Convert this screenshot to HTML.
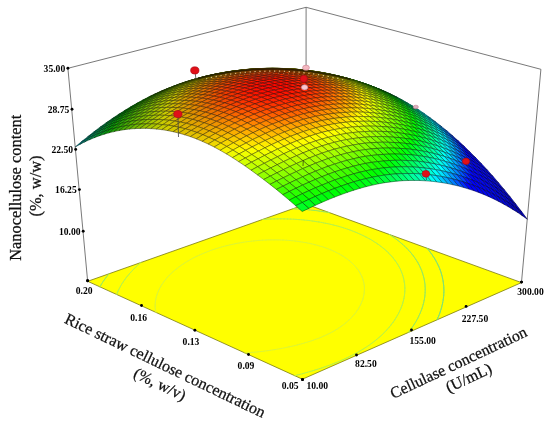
<!DOCTYPE html>
<html><head><meta charset="utf-8"><title>Response surface</title>
<style>html,body{margin:0;padding:0;background:#fff}svg{display:block}</style></head>
<body>
<svg width="550" height="426" viewBox="0 0 550 426">
<rect width="550" height="426" fill="#fff"/>
<g stroke="#6a6a6a" stroke-width="0.9" fill="none">
<polyline points="87.6,280.7 67.9,68.3 306.1,7.3 540.9,69.3 521.5,282.1"/>
<line x1="306.1" y1="7.3" x2="306.0" y2="204.7"/>
</g>
<polygon points="302.4,379.2 521.5,282.6 306,204.1 87.7,281.3" fill="#ffff00" stroke="#7a7a10" stroke-width="0.8"/>
<path d="M437 319.8L437.4 319M437.9 317.7L437.4 319M437.9 317.7L437.9 317.7M438.5 316.5L437.9 317.7M438.8 315.7L438.5 316.5M438.8 315.7L439 315.2M439.5 313.9L439 315.2M439.6 313.7L439.5 313.9M439.6 313.7L440 312.6M440.3 311.7L440 312.6M440.3 311.7L440.4 311.3M440.8 310L440.4 311.3M440.9 309.8L440.8 310M440.9 309.8L441.2 308.7M441.5 307.9L441.2 308.7M441.5 307.9L441.6 307.4M441.9 306.1L441.6 307.4M441.9 306L441.9 306.1M441.9 306L442.2 304.8M442.4 304.2L442.2 304.8M442.4 304.2L442.5 303.5M442.7 302.5L442.5 303.5M442.7 302.5L442.8 302.2M443 300.8L442.8 302.2M443.1 300.7L443 300.8M443.1 300.7L443.2 299.5M443.3 299L443.2 299.5M443.3 299L443.4 298.1M443.5 297.3L443.4 298.1M443.5 297.3L443.6 296.8M443.7 295.6L443.6 296.8M443.7 295.6L443.7 295.4M443.8 294.1L443.7 295.4M443.8 294L443.8 294.1M443.8 294L443.8 292.7M443.9 292.4L443.8 292.7M443.9 292.4L443.9 291.3M443.9 290.8L443.9 291.3M443.9 290.8L443.9 289.9M443.9 289.2L443.9 289.9M443.9 289.2L443.8 288.5M443.8 287.7L443.8 288.5M443.8 287.7L443.8 287.1M443.7 286.2L443.8 287.1M443.7 286.2L443.7 285.7M443.6 284.7L443.7 285.7M443.6 284.7L443.5 284.3M443.4 283.2L443.5 284.3M443.4 283.2L443.4 282.9M443.2 281.8L443.4 282.9M443.2 281.8L443.2 281.5M443 280.3L443.2 281.5M443 280.3L442.9 280M442.7 278.9L442.9 280M442.7 278.9L442.6 278.6M442.4 277.5L442.6 278.6M442.4 277.5L442.3 277.1M442.1 276.1L442.3 277.1M442.1 276.1L441.9 275.6M441.7 274.8L441.9 275.6M441.7 274.8L441.5 274.1M441.3 273.4L441.5 274.1M441.3 273.4L441.1 272.6M440.9 272.1L441.1 272.6M440.9 272.1L440.6 271.1M440.5 270.8L440.6 271.1M440.5 270.8L440 269.6M440 269.5L440 269.6M440 269.5L439.5 268.2M439.5 268.2L439.4 268.1M439 267L439.4 268.1M439 267L438.8 266.5M438.4 265.7L438.8 266.5M438.4 265.7L438 265M437.8 264.5L438 265M437.8 264.5L437.3 263.4M437.2 263.3L437.3 263.4M437.2 263.3L436.6 262.1M436.6 262.1L436.4 261.8M436 260.9L436.4 261.8M436 260.9L435.5 260.2M435.3 259.7L435.5 260.2M435.3 259.7L434.6 258.6M434.6 258.6L434.6 258.5M433.9 257.4L434.6 258.5M433.9 257.4L433.5 256.9M433.1 256.3L433.5 256.9M433.1 256.3L432.4 255.2M432.4 255.2L432.4 255.2M432.4 255.2L431.6 254M431.6 254L431.2 253.5M430.8 253L431.2 253.5M430.8 253L430 251.9M430 251.9L429.9 251.7M429.2 250.8L429.9 251.7M429.2 250.8L428.5 249.9M428.3 249.7L428.5 249.9M428.3 249.7L427.4 248.7M427.4 248.7L426.9 248.1" stroke="#7ce078" stroke-width="0.9" fill="none" stroke-linecap="round"/>
<path d="M408.3 332.5L408.8 331.9M409.7 330.7L408.8 331.9M410.3 329.9L409.7 330.7M410.3 329.9L410.6 329.5M411.5 328.3L410.6 329.5M412.2 327.4L411.5 328.3M412.2 327.4L412.3 327.1M413.2 325.9L412.3 327.1M413.8 325L413.2 325.9M413.8 325L414 324.7M414.7 323.5L414 324.7M415.3 322.7L414.7 323.5M415.3 322.7L415.5 322.3M416.2 321.1L415.5 322.3M416.6 320.4L416.2 321.1M416.6 320.4L416.9 319.8M417.6 318.6L416.9 319.8M417.8 318.2L417.6 318.6M417.8 318.2L418.2 317.3M418.8 316.1L418.2 317.3M418.8 316.1L418.8 316.1M419.4 314.8L418.8 316.1M419.8 314L419.4 314.8M419.8 314L420 313.6M420.5 312.3L420 313.6M420.6 312L420.5 312.3M420.6 312L421 311M421.4 310.1L421 311M421.4 310.1L421.5 309.8M422 308.5L421.5 309.8M422.1 308.1L422 308.5M422.1 308.1L422.4 307.2M422.7 306.3L422.4 307.2M422.7 306.3L422.8 305.9M423.2 304.6L422.8 305.9M423.2 304.4L423.2 304.6M423.2 304.4L423.5 303.3M423.7 302.6L423.5 303.3M423.7 302.6L423.8 301.9M424.1 300.8L423.8 301.9M424.1 300.8L424.1 300.6M424.4 299.3L424.1 300.6M424.4 299.1L424.4 299.3M424.4 299.1L424.6 297.9M424.7 297.4L424.6 297.9M424.7 297.4L424.8 296.6M424.9 295.7L424.8 296.6M424.9 295.7L424.9 295.2M425 294.1L424.9 295.2M425 294.1L425.1 293.9M425.1 292.5L425.1 293.9M425.1 292.5L425.1 292.5M425.1 292.5L425.2 291.1M425.2 290.9L425.2 291.1M425.2 290.9L425.2 289.7M425.2 289.3L425.2 289.7M425.2 289.3L425.2 288.3M425.2 287.8L425.2 288.3M425.2 287.8L425.1 286.9M425.1 286.3L425.1 286.9M425.1 286.3L425 285.5M425 284.8L425 285.5M425 284.8L424.9 284.1M424.8 283.3L424.9 284.1M424.8 283.3L424.7 282.6M424.6 281.9L424.7 282.6M424.6 281.9L424.5 281.2M424.4 280.5L424.5 281.2M424.4 280.5L424.3 279.7M424.1 279.1L424.3 279.7M424.1 279.1L424 278.2M423.8 277.7L424 278.2M423.8 277.7L423.6 276.8M423.5 276.3L423.6 276.8M423.5 276.3L423.2 275.3M423.1 275L423.2 275.3M423.1 275L422.7 273.7M422.7 273.7L422.7 273.7M422.7 273.7L422.3 272.4M422.3 272.4L422.2 272.2M421.8 271.1L422.2 272.2M421.8 271.1L421.7 270.7M421.3 269.8L421.7 270.7M421.3 269.8L421 269.1M420.8 268.6L421 269.1M420.8 268.6L420.3 267.5M420.2 267.3L420.3 267.5M420.2 267.3L419.7 266.1M419.7 266.1L419.6 265.9M419.1 264.9L419.6 265.9M419.1 264.9L418.7 264.3M418.4 263.7L418.7 264.3M418.4 263.7L417.8 262.6M417.8 262.5L417.8 262.6M417.8 262.5L417.1 261.4M417.1 261.4L416.8 261M416.4 260.2L416.8 261M416.4 260.2L415.7 259.3M415.6 259.1L415.7 259.3M415.6 259.1L414.9 258M414.9 258L414.6 257.5M414.1 256.9L414.6 257.5M414.1 256.9L413.3 255.8M413.3 255.8L413.3 255.8M413.3 255.8L412.4 254.7M412.4 254.7L411.9 254M411.6 253.6L411.9 254M411.6 253.6L410.7 252.6M410.7 252.6L410.3 252.1M409.8 251.5L410.3 252.1M409.8 251.5L408.9 250.5M408.9 250.5L408.6 250.2M407.9 249.5L408.6 250.2M407.9 249.5L407 248.5M407 248.5L406.7 248.3M406 247.5L406.7 248.3M406 247.5L405 246.5M405 246.5L404.7 246.3M403.9 245.6L404.7 246.3M403.9 245.6L402.9 244.6M402.9 244.6L402.3 244.1M401.8 243.7L402.3 244.1M401.8 243.7L400.7 242.8M400.7 242.8L399.7 241.9M399.6 241.8L399.7 241.9M399.6 241.8L398.5 240.9M398.5 240.9L397.3 240M397.3 240L396.7 239.6M396.2 239.2L396.7 239.6M396.2 239.2L395 238.3M395 238.3L393.7 237.4M393.7 237.4L393.3 237.1M392.5 236.6L393.3 237.1M392.5 236.6L391.2 235.7M391.2 235.7L390 234.9M390 234.9L389.1 234.3M329.7 212.7L328.6 212.5M328.6 212.5L326.4 212.1M326.4 212.1L324.1 211.8M323.6 211.7L321.8 211.4M324.1 211.8L323.6 211.7M321.8 211.4L319.4 211.1M318.2 210.9L317 210.7M319.4 211.1L318.2 210.9M317 210.7L314.6 210.4M100.5 285.8L99.9 286.9M313.2 210.3L312 210.2M314.6 210.4L313.2 210.3M100.5 285.8L100.7 285.6M101.4 284.3L100.7 285.6M101.5 284.1L101.4 284.3M312 210.2L309.5 209.9M101.5 284.1L102.2 283M102.6 282.4L102.2 283M308.7 209.8L306.9 209.6M309.5 209.9L308.7 209.8M102.6 282.4L103 281.7M103.7 280.7L103 281.7M304.4 209.4L304.2 209.4M306.9 209.6L304.4 209.4M103.7 280.7L103.9 280.5M104.7 279.3L103.9 280.5M104.9 279L104.7 279.3M304.2 209.4L301.4 209.2M104.9 279L105.6 278.1M106.2 277.3L105.6 278.1M300.4 209.2L298.6 209M301.4 209.2L300.4 209.2M106.2 277.3L106.5 276.9M107.4 275.7L106.5 276.9M107.6 275.5L107.4 275.7M296.6 208.9L295.7 208.9M298.6 209L296.6 208.9M107.6 275.5L108.4 274.5M109 273.7L108.4 274.5M292.9 208.8L292.8 208.8M295.7 208.9L292.9 208.8" stroke="#96e860" stroke-width="0.9" fill="none" stroke-linecap="round"/>
<path d="M336.8 362.3L335.2 363M338.8 361.5L336.8 362.3M340.8 360.6L338.8 361.5M342.8 359.8L340.8 360.6M344.7 358.9L342.8 359.8M346.6 358L344.7 358.9M348.4 357.2L346.6 358M317 369.5L314.8 370.1M319.3 368.7L317 369.5M321.6 368L319.3 368.7M323.9 367.2L321.6 368M326.1 366.4L323.9 367.2M328.3 365.6L326.1 366.4M330.5 364.8L328.3 365.6M332.6 364L330.5 364.8M334.7 363.2L332.6 364M335.2 363L334.7 363.2M348.4 357.2L348.5 357.1M350.3 356.2L348.5 357.1M352.1 355.3L350.3 356.2M353.9 354.4L352.1 355.3M355.7 353.4L353.9 354.4M357.4 352.5L355.7 353.4M359.1 351.5L357.4 352.5M360.7 350.6L359.1 351.5M362.3 349.6L360.7 350.6M363.9 348.6L362.3 349.6M364.1 348.5L363.9 348.6M304.9 373L303.1 373.5M307.4 372.3L304.9 373M309.9 371.6L307.4 372.3M312.3 370.9L309.9 371.6M314.7 370.2L312.3 370.9M314.8 370.1L314.7 370.2M364.1 348.5L365.5 347.6M367 346.6L365.5 347.6M368.5 345.6L367 346.6M370 344.6L368.5 345.6M371.3 343.6L370 344.6M297.3 375L294.7 375.7M299.9 374.4L297.3 375M302.4 373.7L299.9 374.4M303.1 373.5L302.4 373.7M371.3 343.6L371.4 343.5M372.8 342.5L371.4 343.5M374.2 341.4L372.8 342.5M375.5 340.4L374.2 341.4M376.5 339.6L375.5 340.4M376.5 339.6L376.8 339.3M378.1 338.2L376.8 339.3M379.4 337.2L378.1 338.2M380.5 336.2L379.4 337.2M380.5 336.2L380.6 336.1M381.8 335L380.6 336.1M383 333.9L381.8 335M383.8 333L383 333.9M383.8 333L384.1 332.7M385.2 331.6L384.1 332.7M386.3 330.5L385.2 331.6M386.6 330.1L386.3 330.5M386.6 330.1L387.3 329.3M388.3 328.2L387.3 329.3M389.1 327.4L388.3 328.2M389.1 327.4L389.3 327M390.3 325.9L389.3 327M391.2 324.8L390.3 325.9M391.2 324.8L391.2 324.7M392.1 323.5L391.2 324.7M393 322.4L392.1 323.5M393 322.3L393 322.4M393 322.3L393.8 321.2M394.7 320L393.8 321.2M394.7 320L394.7 320M394.7 320L395.4 318.8M396.1 317.7L395.4 318.8M396.1 317.7L396.2 317.6M396.9 316.3L396.2 317.6M397.4 315.5L396.9 316.3M397.4 315.5L397.6 315.1M398.3 313.9L397.6 315.1M398.6 313.4L398.3 313.9M398.6 313.4L398.9 312.6M399.6 311.4L398.9 312.6M399.6 311.3L399.6 311.4M399.6 311.3L400.1 310.1M400.5 309.3L400.1 310.1M400.5 309.3L400.7 308.9M401.2 307.6L400.7 308.9M401.3 307.4L401.2 307.6M401.3 307.4L401.7 306.3M402 305.5L401.7 306.3M402 305.5L402.1 305M402.6 303.7L402.1 305M402.6 303.6L402.6 303.7M402.6 303.6L402.9 302.4M403.1 301.8L402.9 302.4M403.1 301.8L403.3 301.1M403.6 300.1L403.3 301.1M403.6 300.1L403.6 299.8M403.9 298.4L403.6 299.8M403.9 298.3L403.9 298.4M403.9 298.3L404.2 297.1M404.2 296.6L404.2 297.1M404.2 296.6L404.4 295.8M404.5 295L404.4 295.8M404.5 295L404.5 294.4M404.7 293.3L404.5 294.4M404.7 293.3L404.7 293M404.8 291.7L404.7 293M404.8 291.7L404.8 291.7M404.8 290.3L404.8 291.7M404.8 290.2L404.8 290.3M404.8 290.2L404.9 288.9M404.9 288.6L404.9 288.9M404.9 288.6L404.8 287.4M404.8 287.1L404.8 287.4M404.8 287.1L404.8 286M404.7 285.6L404.8 286M404.7 285.6L404.6 284.6M404.6 284.2L404.6 284.6M404.6 284.2L404.5 283.1M404.4 282.7L404.5 283.1M404.4 282.7L404.2 281.7M404.2 281.3L404.2 281.7M404.2 281.3L404 280.2M403.9 279.9L404 280.2M403.9 279.9L403.7 278.7M403.6 278.6L403.7 278.7M403.6 278.6L403.3 277.2M403.3 277.2L403.3 277.2M402.9 275.9L403.3 277.2M402.9 275.9L402.8 275.6M402.5 274.6L402.8 275.6M402.5 274.6L402.3 274.1M402 273.3L402.3 274.1M402 273.3L401.7 272.5M401.5 272L401.7 272.5M401.5 272L401.1 270.9M401 270.8L401.1 270.9M401 270.8L400.5 269.5M400.5 269.5L400.3 269.3M399.9 268.3L400.3 269.3M399.9 268.3L399.5 267.6M399.3 267.1L399.5 267.6M399.3 267.1L398.6 266M398.6 266L398.6 266M398.6 266L397.9 264.8M397.9 264.8L397.6 264.3M397.2 263.6L397.6 264.3M397.2 263.6L396.5 262.5M396.5 262.5L396.5 262.5M396.5 262.5L395.7 261.4M395.7 261.4L395.2 260.7M394.9 260.3L395.2 260.7M394.9 260.3L394.1 259.2M394.1 259.2L393.8 258.9M393.2 258.1L393.8 258.9M393.2 258.1L392.4 257.1M392.4 257.1L392.3 257M391.5 256.1L392.3 257M391.5 256.1L390.6 255.1M390.5 255L390.6 255.1M390.5 255L389.6 254M389.6 254L388.6 253M388.6 253L388.6 253M388.6 253L387.6 252M387.6 252L386.5 251.1M386.5 251.1L386.4 250.9M385.5 250.1L386.4 250.9M385.5 250.1L384.4 249.2M384.4 249.2L383.8 248.7M383.3 248.2L383.8 248.7M383.3 248.2L382.1 247.3M382.1 247.3L381 246.4M381 246.4L380.8 246.3M379.8 245.5L380.8 246.3M379.8 245.5L378.6 244.6M378.6 244.6L377.4 243.8M377.4 243.8L377.2 243.7M376.1 242.9L377.2 243.7M376.1 242.9L374.8 242.1M374.8 242.1L373.5 241.3M373.5 241.3L372.7 240.7M372.2 240.4L372.7 240.7M372.2 240.4L370.8 239.6M370.8 239.6L369.4 238.8M369.4 238.8L368 238.1M368 238.1L366.6 237.3M366.6 237.3L366.1 237.1M365.1 236.6L366.1 237.1M365.1 236.6L363.7 235.8M363.7 235.8L362.1 235.1M362.1 235.1L360.6 234.4M360.6 234.4L359 233.7M359 233.7L357.5 233M357.5 233L355.8 232.3M355.8 232.3L354.2 231.6M354.2 231.6L352.5 231M352.5 231L350.8 230.3M350.8 230.3L349.1 229.7M349.1 229.7L347.3 229.1M347.3 229.1L345.6 228.5M345.6 228.5L343.7 227.9M343.7 227.9L341.9 227.3M341.9 227.3L340 226.8M340 226.8L338.1 226.2M338.1 226.2L336.1 225.7M336.1 225.7L334.1 225.2M333.8 225.1L332.1 224.7M334.1 225.2L333.8 225.1M332.1 224.7L330.1 224.2M330.1 224.2L328 223.7M328 223.7L325.8 223.3M325.2 223.2L323.6 222.9M325.8 223.3L325.2 223.2M323.6 222.9L321.4 222.4M321.4 222.4L319.2 222M318.6 221.9L316.8 221.7M319.2 222L318.6 221.9M117.2 293.1L116.6 294.5M117.2 293L117.2 293.1M316.8 221.7L314.5 221.3M117.2 293L117.8 291.7M117.9 291.4L117.8 291.7M313 221.1L312.1 221M314.5 221.3L313 221.1M117.9 291.4L118.4 290.3M118.6 289.8L118.4 290.3M312.1 221L309.6 220.6M118.6 289.8L119.1 289M119.5 288.2L119.1 289M307.9 220.4L307.1 220.3M309.6 220.6L307.9 220.4M119.5 288.2L119.8 287.7M120.4 286.5L119.8 287.7M307.1 220.3L304.5 220.1M120.4 286.5L120.5 286.4M121.2 285.1L120.5 286.4M121.3 284.9L121.2 285.1M303.3 219.9L301.8 219.8M304.5 220.1L303.3 219.9M121.3 284.9L122 283.8M122.4 283.2L122 283.8M301.8 219.8L299.1 219.6M122.4 283.2L122.8 282.6M123.5 281.5L122.8 282.6M299 219.6L296.3 219.4M299.1 219.6L299 219.6M123.5 281.5L123.6 281.3M124.5 280.1L123.6 281.3M124.7 279.7L124.5 280.1M295 219.3L293.4 219.2M296.3 219.4L295 219.3M124.7 279.7L125.3 278.9M126.1 277.9L125.3 278.9M291.1 219.1L290.5 219.1M293.4 219.2L291.1 219.1M126.1 277.9L126.2 277.7M127.2 276.5L126.2 277.7M127.5 276.1L127.2 276.5M287.5 219L287.4 219M290.5 219.1L287.5 219M127.5 276.1L128.1 275.4M129 274.3L128.1 275.4M287.4 219L284.3 218.9M129 274.3L129.1 274.2M130 273.1L129.1 274.2M130.6 272.5L130 273.1M284 218.9L281 218.8M284.3 218.9L284 218.9M130.6 272.5L131 272M132.1 270.9L131 272M132.4 270.5L132.1 270.9M280.6 218.8L277.7 218.9M281 218.8L280.6 218.8M132.4 270.5L133.1 269.8M134.2 268.7L133.1 269.8M134.3 268.6L134.2 268.7M274.2 218.9L274.1 218.9M277.3 218.9L274.2 218.9M277.7 218.9L277.3 218.9M134.3 268.6L135.2 267.6M136.3 266.6L135.2 267.6M271.1 219L270.5 219M274.1 218.9L271.1 219M136.3 266.6L136.3 266.6M137.5 265.5L136.3 266.6M138.5 264.5L137.5 265.5M268.1 219.1L266.6 219.2M270.5 219L268.1 219.1M138.5 264.5L138.6 264.5M139.8 263.5L138.6 264.5M140.9 262.5L139.8 263.5M141 262.4L140.9 262.5M265.2 219.3L262.6 219.4M266.6 219.2L265.2 219.3" stroke="#b4f04c" stroke-width="0.9" fill="none" stroke-linecap="round"/>
<path d="M311.2 340.9L309.8 341.4M313.3 340.2L311.2 340.9M315.4 339.4L313.3 340.2M317.5 338.7L315.4 339.4M319.5 337.9L317.5 338.7M321.5 337.1L319.5 337.9M323.4 336.2L321.5 337.1M325.3 335.4L323.4 336.2M327.1 334.5L325.3 335.4M328.9 333.7L327.1 334.5M330.7 332.8L328.9 333.7M332.4 331.9L330.7 332.8M332.9 331.6L332.4 331.9M299.6 344.3L297.6 344.9M302 343.7L299.6 344.3M304.4 343L302 343.7M306.7 342.3L304.4 343M309 341.6L306.7 342.3M309.8 341.4L309 341.6M332.9 331.6L334 331M335.6 330L334 331M337.2 329.1L335.6 330M338.7 328.1L337.2 329.1M340.1 327.1L338.7 328.1M341 326.5L340.1 327.1M289.6 346.8L288.7 346.9M292.2 346.2L289.6 346.8M294.7 345.6L292.2 346.2M297.2 345L294.7 345.6M297.6 344.9L297.2 345M341 326.5L341.6 326.1M342.9 325.1L341.6 326.1M344.3 324.1L342.9 325.1M345.6 323L344.3 324.1M345.8 322.9L345.6 323M281.6 348.4L281.2 348.5M284.3 347.9L281.6 348.4M287 347.3L284.3 347.9M288.7 346.9L287 347.3M345.8 322.9L346.8 322M348 320.9L346.8 322M349.2 319.8L348 320.9M349.3 319.8L349.2 319.8M276 349.4L274.4 349.7M278.9 348.9L276 349.4M281.2 348.5L278.9 348.9M349.3 319.8L350.3 318.8M351.4 317.6L350.3 318.8M352 317L351.4 317.6M270.3 350.3L268.2 350.6M273.2 349.8L270.3 350.3M274.4 349.7L273.2 349.8M352 317L352.4 316.5M353.4 315.4L352.4 316.5M354.2 314.5L353.4 315.4M264.3 351.1L262.4 351.4M267.3 350.7L264.3 351.1M268.2 350.6L267.3 350.7M354.2 314.5L354.4 314.3M355.3 313.1L354.4 314.3M356.1 312.1L355.3 313.1M258.1 351.8L257 352M261.2 351.5L258.1 351.8M262.4 351.4L261.2 351.5M356.1 312.1L356.2 311.9M357 310.7L356.2 311.9M357.6 309.9L357 310.7M254.9 352.2L251.9 352.4M257 352L254.9 352.2M357.6 309.9L357.8 309.6M358.6 308.4L357.8 309.6M358.9 307.8L358.6 308.4M248.2 352.7L247.2 352.7M251.6 352.4L248.2 352.7M251.9 352.4L251.6 352.4M358.9 307.8L359.3 307.1M360 305.9L359.3 307.1M360.1 305.7L360 305.9M247.2 352.7L244.7 352.9M360.1 305.7L360.6 304.7M361 303.8L360.6 304.7M361 303.8L361.2 303.4M361.7 302.1L361.2 303.4M361.8 301.9L361.7 302.1M361.8 301.9L362.2 300.9M362.5 300.1L362.2 300.9M362.5 300.1L362.7 299.6M363.1 298.3L362.7 299.6M363.1 298.3L363.1 298.2M363.4 296.9L363.1 298.2M363.5 296.6L363.4 296.9M363.5 296.6L363.7 295.6M363.9 294.9L363.7 295.6M363.9 294.9L364 294.2M364.1 293.3L364 294.2M364.1 293.3L364.2 292.8M364.3 291.7L364.2 292.8M364.3 291.7L364.3 291.5M364.4 290.2L364.3 291.5M364.4 290.2L364.4 290M364.4 288.6L364.4 290M364.4 288.6L364.4 288.6M364.4 287.2L364.4 288.6M364.4 287.2L364.4 287.2M364.4 287.2L364.3 285.7M364.3 285.7L364.3 285.7M364.1 284.3L364.3 285.7M364.1 284.3L364.1 284.2M363.8 282.9L364.1 284.2M363.8 282.9L363.8 282.7M363.5 281.6L363.8 282.7M363.5 281.6L363.4 281.1M363.2 280.3L363.4 281.1M363.2 280.3L363 279.5M362.8 279L363 279.5M362.8 279L362.4 277.9M362.3 277.7L362.4 277.9M362.3 277.7L361.8 276.4M361.8 276.4L361.7 276.3M361.2 275.2L361.7 276.3M361.2 275.2L360.9 274.6M360.6 274L360.9 274.6M360.6 274L360 272.8M360 272.8L360 272.8M359.3 271.7L360 272.8M359.3 271.7L358.9 271M358.6 270.5L358.9 271M358.6 270.5L357.8 269.4M357.8 269.4L357.5 269.1M356.9 268.3L357.5 269.1M356.9 268.3L356.1 267.3M356.1 267.3L356 267.2M355.2 266.2L356 267.2M355.2 266.2L354.2 265.2M354.2 265.2L354.1 265.1M353.2 264.2L354.1 265.1M353.2 264.2L352.2 263.2M352.2 263.2L351.8 262.8M351.1 262.2L351.8 262.8M351.1 262.2L350 261.2M350 261.2L349 260.4M348.9 260.3L349 260.4M348.9 260.3L347.7 259.4M347.7 259.4L346.5 258.5M346.5 258.5L345.2 257.6M345.2 257.6L345.2 257.6M345.2 257.6L343.9 256.7M343.9 256.7L342.6 255.9M342.6 255.9L341.2 255.1M341.2 255.1L339.8 254.2M339.8 254.2L339.5 254.1M338.3 253.5L339.5 254.1M338.3 253.5L336.8 252.7M336.8 252.7L335.3 251.9M335.3 251.9L333.7 251.2M333.7 251.2L332.1 250.5M332.1 250.5L330.5 249.8M330.5 249.8L328.8 249.1M328.8 249.1L327 248.4M155.8 312L155.9 312.4M327 248.4L325.3 247.8M155.8 312L155.6 310.7M325.3 247.8L323.4 247.1M155.6 310.7L155.5 310.5M155.4 309.3L155.5 310.5M323.4 247.1L321.6 246.5M155.4 309.3L155.3 308.7M155.3 308L155.3 308.7M321.6 246.5L319.6 246M155.3 308L155.2 307M155.2 306.6L155.2 307M319.6 246L317.7 245.4M155.2 306.6L155.2 305.3M155.2 305.2L155.2 305.3M317.7 245.4L315.6 244.8M155.2 305.2L155.2 303.7M314.9 244.7L313.6 244.3M315.6 244.8L314.9 244.7M155.2 303.7L155.2 303.7M155.4 302.3L155.2 303.7M313.6 244.3L311.4 243.8M155.4 302.3L155.4 302.1M155.5 300.8L155.4 302.1M311.4 243.8L309.3 243.3M155.5 300.8L155.6 300.5M155.8 299.3L155.6 300.5M309.3 243.3L307 242.9M155.8 299.3L155.9 299M156.1 297.8L155.9 299M306.8 242.8L304.7 242.5M307 242.9L306.8 242.8M156.1 297.8L156.2 297.5M156.5 296.3L156.2 297.5M304.7 242.5L302.3 242.1M156.5 296.3L156.6 296M157 294.7L156.6 296M300.6 241.8L299.9 241.7M302.3 242.1L300.6 241.8M157 294.7L157 294.6M157.5 293.2L157 294.6M157.5 293.2L157.5 293.2M299.9 241.7L297.4 241.3M157.5 293.2L158.1 291.8M158.2 291.5L158.1 291.8M295.4 241.1L294.8 241M297.4 241.3L295.4 241.1M158.2 291.5L158.6 290.5M158.9 289.9L158.6 290.5M294.8 241L292.1 240.7M158.9 289.9L159.3 289.1M159.7 288.3L159.3 289.1M290.8 240.6L289.3 240.5M292.1 240.7L290.8 240.6M159.7 288.3L160 287.8M160.7 286.6L160 287.8M160.7 286.6L160.7 286.6M286.5 240.3L286.4 240.3M289.3 240.5L286.5 240.3M160.7 286.6L161.4 285.3M161.7 284.8L161.4 285.3M286.4 240.3L283.5 240.1M161.7 284.8L162.2 284.1M162.9 283.1L162.2 284.1M282.5 240.1L280.4 240M283.5 240.1L282.5 240.1M162.9 283.1L163 282.9M163.9 281.7L163 282.9M164.2 281.2L163.9 281.7M278.8 239.9L277.1 239.9M280.4 240L278.8 239.9M164.2 281.2L164.8 280.5M165.7 279.4L164.8 280.5M275.3 239.9L273.7 239.9M277.1 239.9L275.3 239.9M165.7 279.4L165.7 279.3M166.7 278.2L165.7 279.3M167.3 277.4L166.7 278.2M271.9 239.9L270.2 239.9M273.7 239.9L271.9 239.9M167.3 277.4L167.7 277.1M168.7 276L167.7 277.1M169.2 275.4L168.7 276M268.7 239.9L266.4 240M270.2 239.9L268.7 239.9M169.2 275.4L169.7 274.9M170.8 273.8L169.7 274.9M171.3 273.4L170.8 273.8M262.6 240.2L262.4 240.2M265.6 240.1L262.6 240.2M266.4 240L265.6 240.1M171.3 273.4L171.9 272.8M173 271.7L171.9 272.8M173.7 271.2L173 271.7M259.7 240.4L258.2 240.5M262.4 240.2L259.7 240.4M173.7 271.2L174.2 270.7M175.4 269.7L174.2 270.7M176.4 268.9L175.4 269.7M254.1 240.9L253.5 240.9M256.8 240.6L254.1 240.9M258.2 240.5L256.8 240.6M176.4 268.9L176.6 268.7M177.9 267.8L176.6 268.7M179.1 266.8L177.9 267.8M179.7 266.4L179.1 266.8M248.8 241.5L248.4 241.5M251.4 241.2L248.8 241.5M253.5 240.9L251.4 241.2M179.7 266.4L180.4 265.9M181.8 264.9L180.4 265.9M183.1 264L181.8 264.9M183.6 263.7L183.1 264M243.8 242.2L242.6 242.4M246.3 241.8L243.8 242.2M248.4 241.5L246.3 241.8M183.6 263.7L184.5 263.1M185.9 262.2L184.5 263.1M187.3 261.4L185.9 262.2M188.6 260.6L187.3 261.4M236.7 243.4L235.7 243.6M239 243L236.7 243.4M241.4 242.6L239 243M242.6 242.4L241.4 242.6M188.6 260.6L188.8 260.5M190.3 259.7L188.8 260.5M191.8 258.9L190.3 259.7M193.3 258L191.8 258.9M194.9 257.2L193.3 258M195.9 256.7L194.9 257.2M227.9 245.4L226.5 245.7M230 244.9L227.9 245.4M232.2 244.4L230 244.9M234.4 243.9L232.2 244.4M235.7 243.6L234.4 243.9M195.9 256.7L196.4 256.5M198.1 255.7L196.4 256.5M199.7 254.9L198.1 255.7M201.4 254.2L199.7 254.9M203.1 253.5L201.4 254.2M204.8 252.8L203.1 253.5M206.5 252.1L204.8 252.8M208.3 251.4L206.5 252.1M210.1 250.7L208.3 251.4M212 250L210.1 250.7M213.8 249.4L212 250M215.7 248.8L213.8 249.4M217.7 248.2L215.7 248.8M219.6 247.6L217.7 248.2M221.6 247L219.6 247.6M223.7 246.4L221.6 247M225.7 245.9L223.7 246.4M226.5 245.7L225.7 245.9" stroke="#dcf436" stroke-width="0.9" fill="none" stroke-linecap="round"/>
<g stroke-width="0.55" stroke-linejoin="round">
<polygon points="305.9,75.2 311.1,76.5 306,76.7 300.8,75.5" fill="#00ff7a" stroke="#004c25"/>
<polygon points="311.1,75.1 316.3,76.4 311.1,76.5 305.9,75.2" fill="#00ff6a" stroke="#004c20"/>
<polygon points="300.7,74.1 305.9,75.2 300.8,75.5 295.6,74.4" fill="#00ff5c" stroke="#004c1c"/>
<polygon points="316.3,75.1 321.5,76.5 316.3,76.4 311.1,75.1" fill="#00ff5c" stroke="#004c1c"/>
<polygon points="305.9,73.9 311.1,75.1 305.9,75.2 300.7,74.1" fill="#00ff49" stroke="#004c16"/>
<polygon points="295.5,73.1 300.7,74.1 295.6,74.4 290.3,73.5" fill="#00fd40" stroke="#004c13"/>
<polygon points="321.5,75.3 326.7,76.8 321.5,76.5 316.3,75.1" fill="#00ff51" stroke="#004c18"/>
<polygon points="311.1,73.9 316.3,75.1 311.1,75.1 305.9,73.9" fill="#00ff39" stroke="#004c11"/>
<polygon points="300.6,72.9 305.9,73.9 300.7,74.1 295.5,73.1" fill="#00ff2a" stroke="#004c0d"/>
<polygon points="290.1,72.3 295.5,73.1 290.3,73.5 285,72.7" fill="#00fb24" stroke="#004b0b"/>
<polygon points="326.8,75.7 331.9,77.2 326.7,76.8 321.5,75.3" fill="#00ff47" stroke="#004c15"/>
<polygon points="316.3,74.1 321.5,75.3 316.3,75.1 311.1,73.9" fill="#00ff2b" stroke="#004c0d"/>
<polygon points="305.8,72.8 311.1,73.9 305.9,73.9 300.6,72.9" fill="#00ff17" stroke="#004c07"/>
<polygon points="295.3,72 300.6,72.9 295.5,73.1 290.1,72.3" fill="#00ff0d" stroke="#004c04"/>
<polygon points="284.8,71.6 290.1,72.3 285,72.7 279.7,72.1" fill="#00f90c" stroke="#004b04"/>
<polygon points="332,76.3 337.2,77.9 331.9,77.2 326.8,75.7" fill="#00ff40" stroke="#004c13"/>
<polygon points="321.5,74.4 326.8,75.7 321.5,75.3 316.3,74.1" fill="#00ff1f" stroke="#004c09"/>
<polygon points="311,72.9 316.3,74.1 311.1,73.9 305.8,72.8" fill="#00ff07" stroke="#004c02"/>
<polygon points="300.5,71.8 305.8,72.8 300.6,72.9 295.3,72" fill="#07ff00" stroke="#024c00"/>
<polygon points="290,71.2 295.3,72 290.1,72.3 284.8,71.6" fill="#0cfd00" stroke="#044c00"/>
<polygon points="279.4,71 284.8,71.6 279.7,72.1 274.3,71.6" fill="#09f600" stroke="#034a00"/>
<polygon points="337.3,77.1 342.5,78.7 337.2,77.9 332,76.3" fill="#00ff3b" stroke="#004c12"/>
<polygon points="326.8,74.9 332,76.3 326.8,75.7 321.5,74.4" fill="#00ff15" stroke="#004c06"/>
<polygon points="316.3,73.2 321.5,74.4 316.3,74.1 311,72.9" fill="#06ff00" stroke="#024c00"/>
<polygon points="305.7,71.9 311,72.9 305.8,72.8 300.5,71.8" fill="#17ff00" stroke="#074c00"/>
<polygon points="295.1,71 300.5,71.8 295.3,72 290,71.2" fill="#1fff00" stroke="#094c00"/>
<polygon points="274,70.6 279.4,71 274.3,71.6 268.9,71.2" fill="#1af400" stroke="#084900"/>
<polygon points="284.6,70.6 290,71.2 284.8,71.6 279.4,71" fill="#20fa00" stroke="#0a4b00"/>
<polygon points="342.7,78 347.8,79.7 342.5,78.7 337.3,77.1" fill="#00ff39" stroke="#004c11"/>
<polygon points="332.1,75.6 337.3,77.1 332,76.3 326.8,74.9" fill="#00ff0e" stroke="#004c04"/>
<polygon points="321.6,73.6 326.8,74.9 321.5,74.4 316.3,73.2" fill="#10ff00" stroke="#054c00"/>
<polygon points="311,72.1 316.3,73.2 311,72.9 305.7,71.9" fill="#25ff00" stroke="#0b4c00"/>
<polygon points="300.4,71 305.7,71.9 300.5,71.8 295.1,71" fill="#31ff00" stroke="#0f4c00"/>
<polygon points="268.6,70.3 274,70.6 268.9,71.2 263.5,71" fill="#2af100" stroke="#0d4800"/>
<polygon points="289.8,70.3 295.1,71 290,71.2 284.6,70.6" fill="#36fe00" stroke="#104c00"/>
<polygon points="279.2,70.1 284.6,70.6 279.4,71 274,70.6" fill="#34f800" stroke="#104a00"/>
<polygon points="348.1,79.1 353.2,80.9 347.8,79.7 342.7,78" fill="#00ff38" stroke="#004c11"/>
<polygon points="337.5,76.5 342.7,78 337.3,77.1 332.1,75.6" fill="#00ff09" stroke="#004c03"/>
<polygon points="326.9,74.3 332.1,75.6 326.8,74.9 321.6,73.6" fill="#18ff00" stroke="#074c00"/>
<polygon points="316.3,72.5 321.6,73.6 316.3,73.2 311,72.1" fill="#30ff00" stroke="#0e4c00"/>
<polygon points="353.5,80.4 358.6,82.2 353.2,80.9 348.1,79.1" fill="#00ff3a" stroke="#004c11"/>
<polygon points="305.6,71.2 311,72.1 305.7,71.9 300.4,71" fill="#41ff00" stroke="#144c00"/>
<polygon points="263.1,70.1 268.6,70.3 263.5,71 258,70.9" fill="#37ef00" stroke="#104800"/>
<polygon points="295,70.3 300.4,71 295.1,71 289.8,70.3" fill="#4aff00" stroke="#164c00"/>
<polygon points="273.7,69.7 279.2,70.1 274,70.6 268.6,70.3" fill="#44f500" stroke="#144a00"/>
<polygon points="284.4,69.8 289.8,70.3 284.6,70.6 279.2,70.1" fill="#4bfc00" stroke="#164c00"/>
<polygon points="342.9,77.5 348.1,79.1 342.7,78 337.5,76.5" fill="#00ff07" stroke="#004c02"/>
<polygon points="332.2,75.1 337.5,76.5 332.1,75.6 326.9,74.3" fill="#1eff00" stroke="#094c00"/>
<polygon points="321.6,73.1 326.9,74.3 321.6,73.6 316.3,72.5" fill="#3aff00" stroke="#114c00"/>
<polygon points="358.9,81.9 364,83.8 358.6,82.2 353.5,80.4" fill="#00ff3e" stroke="#004c13"/>
<polygon points="310.9,71.5 316.3,72.5 311,72.1 305.6,71.2" fill="#4eff00" stroke="#174c00"/>
<polygon points="257.6,70.1 263.1,70.1 258,70.9 252.5,70.9" fill="#43ec00" stroke="#144700"/>
<polygon points="300.3,70.4 305.6,71.2 300.4,71 295,70.3" fill="#5bff00" stroke="#1b4c00"/>
<polygon points="268.2,69.5 273.7,69.7 268.6,70.3 263.1,70.1" fill="#53f300" stroke="#194900"/>
<polygon points="289.6,69.7 295,70.3 289.8,70.3 284.4,69.8" fill="#60ff00" stroke="#1d4c00"/>
<polygon points="348.3,78.8 353.5,80.4 348.1,79.1 342.9,77.5" fill="#00ff06" stroke="#004c02"/>
<polygon points="278.9,69.4 284.4,69.8 279.2,70.1 273.7,69.7" fill="#5df900" stroke="#1c4b00"/>
<polygon points="337.6,76.1 342.9,77.5 337.5,76.5 332.2,75.1" fill="#22ff00" stroke="#0a4c00"/>
<polygon points="364.3,83.6 369.5,85.5 364,83.8 358.9,81.9" fill="#00ff44" stroke="#004c14"/>
<polygon points="326.9,73.8 332.2,75.1 326.9,74.3 321.6,73.1" fill="#42ff00" stroke="#144c00"/>
<polygon points="316.3,72 321.6,73.1 316.3,72.5 310.9,71.5" fill="#5aff00" stroke="#1b4c00"/>
<polygon points="353.7,80.2 358.9,81.9 353.5,80.4 348.3,78.8" fill="#00ff08" stroke="#004c02"/>
<polygon points="252,70.2 257.6,70.1 252.5,70.9 246.9,71.1" fill="#4dea00" stroke="#174600"/>
<polygon points="305.6,70.7 310.9,71.5 305.6,71.2 300.3,70.4" fill="#6aff00" stroke="#204c00"/>
<polygon points="262.7,69.4 268.2,69.5 263.1,70.1 257.6,70.1" fill="#5ff000" stroke="#1c4800"/>
<polygon points="294.8,69.7 300.3,70.4 295,70.3 289.6,69.7" fill="#73ff00" stroke="#224c00"/>
<polygon points="273.4,69.1 278.9,69.4 273.7,69.7 268.2,69.5" fill="#6cf700" stroke="#204a00"/>
<polygon points="284.1,69.2 289.6,69.7 284.4,69.8 278.9,69.4" fill="#74fd00" stroke="#234c00"/>
<polygon points="343,77.2 348.3,78.8 342.9,77.5 337.6,76.1" fill="#24ff00" stroke="#0b4c00"/>
<polygon points="369.8,85.5 374.9,87.5 369.5,85.5 364.3,83.6" fill="#00ff4c" stroke="#004c17"/>
<polygon points="332.3,74.8 337.6,76.1 332.2,75.1 326.9,73.8" fill="#47ff00" stroke="#154c00"/>
<polygon points="359.2,81.8 364.3,83.6 358.9,81.9 353.7,80.2" fill="#00ff0d" stroke="#004c04"/>
<polygon points="321.6,72.7 326.9,73.8 321.6,73.1 316.3,72" fill="#63ff00" stroke="#1e4c00"/>
<polygon points="246.4,70.4 252,70.2 246.9,71.1 241.3,71.4" fill="#56e700" stroke="#1a4500"/>
<polygon points="310.9,71.1 316.3,72 310.9,71.5 305.6,70.7" fill="#77ff00" stroke="#244c00"/>
<polygon points="257.1,69.5 262.7,69.4 257.6,70.1 252,70.2" fill="#6aee00" stroke="#204700"/>
<polygon points="300.1,69.9 305.6,70.7 300.3,70.4 294.8,69.7" fill="#83ff00" stroke="#274c00"/>
<polygon points="348.5,78.6 353.7,80.2 348.3,78.8 343,77.2" fill="#24ff00" stroke="#0b4c00"/>
<polygon points="375.3,87.6 380.4,89.6 374.9,87.5 369.8,85.5" fill="#00ff57" stroke="#004c1a"/>
<polygon points="267.9,69 273.4,69.1 268.2,69.5 262.7,69.4" fill="#7bf400" stroke="#254900"/>
<polygon points="289.4,69.2 294.8,69.7 289.6,69.7 284.1,69.2" fill="#89ff00" stroke="#294c00"/>
<polygon points="278.6,68.9 284.1,69.2 278.9,69.4 273.4,69.1" fill="#86fb00" stroke="#284b00"/>
<polygon points="337.8,75.9 343,77.2 337.6,76.1 332.3,74.8" fill="#4bff00" stroke="#164c00"/>
<polygon points="364.6,83.6 369.8,85.5 364.3,83.6 359.2,81.8" fill="#00ff13" stroke="#004c06"/>
<polygon points="327,73.6 332.3,74.8 326.9,73.8 321.6,72.7" fill="#6aff00" stroke="#204c00"/>
<polygon points="316.2,71.7 321.6,72.7 316.3,72 310.9,71.1" fill="#81ff00" stroke="#274c00"/>
<polygon points="380.8,89.8 385.9,92 380.4,89.6 375.3,87.6" fill="#00ff63" stroke="#004c1e"/>
<polygon points="240.8,70.8 246.4,70.4 241.3,71.4 235.7,71.8" fill="#5ce400" stroke="#1c4400"/>
<polygon points="353.9,80.2 359.2,81.8 353.7,80.2 348.5,78.6" fill="#22ff00" stroke="#0a4c00"/>
<polygon points="305.5,70.3 310.9,71.1 305.6,70.7 300.1,69.9" fill="#91ff00" stroke="#2c4c00"/>
<polygon points="251.6,69.7 257.1,69.5 252,70.2 246.4,70.4" fill="#73eb00" stroke="#224600"/>
<polygon points="294.7,69.3 300.1,69.9 294.8,69.7 289.4,69.2" fill="#9aff00" stroke="#2e4c00"/>
<polygon points="262.3,69 267.9,69 262.7,69.4 257.1,69.5" fill="#87f200" stroke="#284900"/>
<polygon points="283.9,68.8 289.4,69.2 284.1,69.2 278.6,68.9" fill="#9dff00" stroke="#2f4c00"/>
<polygon points="273.1,68.7 278.6,68.9 273.4,69.1 267.9,69" fill="#94f800" stroke="#2c4a00"/>
<polygon points="343.2,77.2 348.5,78.6 343,77.2 337.8,75.9" fill="#4cff00" stroke="#174c00"/>
<polygon points="370.2,85.6 375.3,87.6 369.8,85.5 364.6,83.6" fill="#00ff1c" stroke="#004c08"/>
<polygon points="332.4,74.6 337.8,75.9 332.3,74.8 327,73.6" fill="#6eff00" stroke="#214c00"/>
<polygon points="386.4,92.3 391.5,94.5 385.9,92 380.8,89.8" fill="#00ff72" stroke="#004c22"/>
<polygon points="359.4,81.9 364.6,83.6 359.2,81.8 353.9,80.2" fill="#1dff00" stroke="#094c00"/>
<polygon points="321.6,72.5 327,73.6 321.6,72.7 316.2,71.7" fill="#89ff00" stroke="#294c00"/>
<polygon points="235.2,71.3 240.8,70.8 235.7,71.8 230.1,72.4" fill="#62e100" stroke="#1d4400"/>
<polygon points="310.8,70.9 316.2,71.7 310.9,71.1 305.5,70.3" fill="#9dff00" stroke="#2f4c00"/>
<polygon points="245.9,70 251.6,69.7 246.4,70.4 240.8,70.8" fill="#7be800" stroke="#254600"/>
<polygon points="300,69.7 305.5,70.3 300.1,69.9 294.7,69.3" fill="#aaff00" stroke="#334c00"/>
<polygon points="256.7,69.1 262.3,69 257.1,69.5 251.6,69.7" fill="#90ef00" stroke="#2b4800"/>
<polygon points="375.7,87.8 380.8,89.8 375.3,87.6 370.2,85.6" fill="#00ff27" stroke="#004c0c"/>
<polygon points="348.7,78.6 353.9,80.2 348.5,78.6 343.2,77.2" fill="#4bff00" stroke="#164c00"/>
<polygon points="289.2,68.9 294.7,69.3 289.4,69.2 283.9,68.8" fill="#afff00" stroke="#344c00"/>
<polygon points="267.5,68.6 273.1,68.7 267.9,69 262.3,69" fill="#a1f600" stroke="#304a00"/>
<polygon points="278.4,68.5 283.9,68.8 278.6,68.9 273.1,68.7" fill="#acfc00" stroke="#344c00"/>
<polygon points="391.9,95 397,97.2 391.5,94.5 386.4,92.3" fill="#00ff83" stroke="#004c27"/>
<polygon points="337.9,75.8 343.2,77.2 337.8,75.9 332.4,74.6" fill="#71ff00" stroke="#224c00"/>
<polygon points="365,83.8 370.2,85.6 364.6,83.6 359.4,81.9" fill="#17ff00" stroke="#074c00"/>
<polygon points="327.1,73.5 332.4,74.6 327,73.6 321.6,72.5" fill="#8fff00" stroke="#2b4c00"/>
<polygon points="229.5,72 235.2,71.3 230.1,72.4 224.4,73.1" fill="#65de00" stroke="#1e4300"/>
<polygon points="381.2,90.2 386.4,92.3 380.8,89.8 375.7,87.8" fill="#00ff35" stroke="#004c10"/>
<polygon points="316.2,71.6 321.6,72.5 316.2,71.7 310.8,70.9" fill="#a7ff00" stroke="#324c00"/>
<polygon points="240.3,70.5 245.9,70 240.8,70.8 235.2,71.3" fill="#81e500" stroke="#274500"/>
<polygon points="354.2,80.3 359.4,81.9 353.9,80.2 348.7,78.6" fill="#48ff00" stroke="#164c00"/>
<polygon points="397.5,97.9 402.6,100.2 397,97.2 391.9,95" fill="#00ff97" stroke="#004c2d"/>
<polygon points="305.4,70.2 310.8,70.9 305.5,70.3 300,69.7" fill="#b7ff00" stroke="#374c00"/>
<polygon points="251.1,69.3 256.7,69.1 251.6,69.7 245.9,70" fill="#98ec00" stroke="#2e4700"/>
<polygon points="294.5,69.1 300,69.7 294.7,69.3 289.2,68.9" fill="#c0ff00" stroke="#3a4c00"/>
<polygon points="261.9,68.7 267.5,68.6 262.3,69 256.7,69.1" fill="#acf300" stroke="#344900"/>
<polygon points="283.7,68.6 289.2,68.9 283.9,68.8 278.4,68.5" fill="#c2ff00" stroke="#3a4c00"/>
<polygon points="272.8,68.4 278.4,68.5 273.1,68.7 267.5,68.6" fill="#bafa00" stroke="#384b00"/>
<polygon points="343.4,77.3 348.7,78.6 343.2,77.2 337.9,75.8" fill="#71ff00" stroke="#224c00"/>
<polygon points="370.5,86 375.7,87.8 370.2,85.6 365,83.8" fill="#0eff00" stroke="#044c00"/>
<polygon points="386.8,92.9 391.9,95 386.4,92.3 381.2,90.2" fill="#00ff45" stroke="#004c15"/>
<polygon points="332.5,74.7 337.9,75.8 332.4,74.6 327.1,73.5" fill="#93ff00" stroke="#2c4c00"/>
<polygon points="223.8,72.8 229.5,72 224.4,73.1 218.7,74" fill="#68db00" stroke="#1f4200"/>
<polygon points="403.1,101 408.2,103.4 402.6,100.2 397.5,97.9" fill="#00ffac" stroke="#004c34"/>
<polygon points="359.7,82.2 365,83.8 359.4,81.9 354.2,80.3" fill="#43ff00" stroke="#144c00"/>
<polygon points="321.7,72.5 327.1,73.5 321.6,72.5 316.2,71.6" fill="#aeff00" stroke="#344c00"/>
<polygon points="234.6,71 240.3,70.5 235.2,71.3 229.5,72" fill="#84e200" stroke="#284400"/>
<polygon points="310.8,70.8 316.2,71.6 310.8,70.9 305.4,70.2" fill="#c1ff00" stroke="#3a4c00"/>
<polygon points="245.4,69.7 251.1,69.3 245.9,70 240.3,70.5" fill="#9ee900" stroke="#2f4600"/>
<polygon points="376.1,88.3 381.2,90.2 375.7,87.8 370.5,86" fill="#04ff00" stroke="#014c00"/>
<polygon points="299.9,69.6 305.4,70.2 300,69.7 294.5,69.1" fill="#ceff00" stroke="#3e4c00"/>
<polygon points="348.9,78.9 354.2,80.3 348.7,78.6 343.4,77.3" fill="#70ff00" stroke="#224c00"/>
<polygon points="256.3,68.8 261.9,68.7 256.7,69.1 251.1,69.3" fill="#b4f000" stroke="#364800"/>
<polygon points="289,68.8 294.5,69.1 289.2,68.9 283.7,68.6" fill="#d3ff00" stroke="#3f4c00"/>
<polygon points="267.2,68.4 272.8,68.4 267.5,68.6 261.9,68.7" fill="#c6f700" stroke="#3b4a00"/>
<polygon points="278.1,68.4 283.7,68.6 278.4,68.5 272.8,68.4" fill="#d2fe00" stroke="#3f4c00"/>
<polygon points="392.4,95.7 397.5,97.9 391.9,95 386.8,92.9" fill="#00ff57" stroke="#004c1a"/>
<polygon points="408.8,104.3 413.8,106.7 408.2,103.4 403.1,101" fill="#00ffc4" stroke="#004c3b"/>
<polygon points="338,76 343.4,77.3 337.9,75.8 332.5,74.7" fill="#95ff00" stroke="#2d4c00"/>
<polygon points="365.3,84.3 370.5,86 365,83.8 359.7,82.2" fill="#3cff00" stroke="#124c00"/>
<polygon points="218,73.8 223.8,72.8 218.7,74 213,75" fill="#68d800" stroke="#1f4100"/>
<polygon points="327.1,73.6 332.5,74.7 327.1,73.5 321.7,72.5" fill="#b3ff00" stroke="#364c00"/>
<polygon points="228.9,71.8 234.6,71 229.5,72 223.8,72.8" fill="#87df00" stroke="#284300"/>
<polygon points="381.7,90.9 386.8,92.9 381.2,90.2 376.1,88.3" fill="#00ff0a" stroke="#004c03"/>
<polygon points="316.2,71.7 321.7,72.5 316.2,71.6 310.8,70.8" fill="#caff00" stroke="#3d4c00"/>
<polygon points="354.4,80.7 359.7,82.2 354.2,80.3 348.9,78.9" fill="#6cff00" stroke="#204c00"/>
<polygon points="414.4,107.8 419.4,110.3 413.8,106.7 408.8,104.3" fill="#00ffde" stroke="#004c43"/>
<polygon points="398,98.7 403.1,101 397.5,97.9 392.4,95.7" fill="#00ff6b" stroke="#004c20"/>
<polygon points="239.7,70.3 245.4,69.7 240.3,70.5 234.6,71" fill="#a3e600" stroke="#314500"/>
<polygon points="305.3,70.2 310.8,70.8 305.4,70.2 299.9,69.6" fill="#d9ff00" stroke="#414c00"/>
<polygon points="250.6,69.2 256.3,68.8 251.1,69.3 245.4,69.7" fill="#bbed00" stroke="#384700"/>
<polygon points="294.4,69.1 299.9,69.6 294.5,69.1 289,68.8" fill="#e3ff00" stroke="#444c00"/>
<polygon points="261.6,68.5 267.2,68.4 261.9,68.7 256.3,68.8" fill="#cff400" stroke="#3e4900"/>
<polygon points="283.4,68.5 289,68.8 283.7,68.6 278.1,68.4" fill="#e5ff00" stroke="#454c00"/>
<polygon points="272.5,68.3 278.1,68.4 272.8,68.4 267.2,68.4" fill="#defb00" stroke="#434b00"/>
<polygon points="343.5,77.6 348.9,78.9 343.4,77.3 338,76" fill="#94ff00" stroke="#2c4c00"/>
<polygon points="370.9,86.6 376.1,88.3 370.5,86 365.3,84.3" fill="#32ff00" stroke="#0f4c00"/>
<polygon points="212.2,74.9 218,73.8 213,75 207.2,76.2" fill="#68d500" stroke="#1f4000"/>
<polygon points="387.3,93.6 392.4,95.7 386.8,92.9 381.7,90.9" fill="#00ff1b" stroke="#004c08"/>
<polygon points="420,111.6 425,114.1 419.4,110.3 414.4,107.8" fill="#00fffa" stroke="#004c4b"/>
<polygon points="332.6,74.9 338,76 332.5,74.7 327.1,73.6" fill="#b6ff00" stroke="#374c00"/>
<polygon points="403.7,102 408.8,104.3 403.1,101 398,98.7" fill="#00ff82" stroke="#004c27"/>
<polygon points="223.1,72.7 228.9,71.8 223.8,72.8 218,73.8" fill="#88dc00" stroke="#294200"/>
<polygon points="360,82.7 365.3,84.3 359.7,82.2 354.4,80.7" fill="#66ff00" stroke="#1f4c00"/>
<polygon points="321.7,72.7 327.1,73.6 321.7,72.5 316.2,71.7" fill="#d0ff00" stroke="#3e4c00"/>
<polygon points="234,70.9 239.7,70.3 234.6,71 228.9,71.8" fill="#a5e400" stroke="#324400"/>
<polygon points="310.7,71 316.2,71.7 310.8,70.8 305.3,70.2" fill="#e3ff00" stroke="#444c00"/>
<polygon points="376.5,89 381.7,90.9 376.1,88.3 370.9,86.6" fill="#27ff00" stroke="#0c4c00"/>
<polygon points="244.9,69.6 250.6,69.2 245.4,69.7 239.7,70.3" fill="#bfeb00" stroke="#394600"/>
<polygon points="349.1,79.3 354.4,80.7 348.9,78.9 343.5,77.6" fill="#92ff00" stroke="#2c4c00"/>
<polygon points="425.7,115.6 430.7,118.2 425,114.1 420,111.6" fill="#00e5ff" stroke="#00454c"/>
<polygon points="299.8,69.7 305.3,70.2 299.9,69.6 294.4,69.1" fill="#efff00" stroke="#484c00"/>
<polygon points="255.9,68.8 261.6,68.5 256.3,68.8 250.6,69.2" fill="#d6f200" stroke="#404900"/>
<polygon points="392.9,96.6 398,98.7 392.4,95.7 387.3,93.6" fill="#00ff2e" stroke="#004c0e"/>
<polygon points="288.8,68.8 294.4,69.1 289,68.8 283.4,68.5" fill="#f5ff00" stroke="#4a4c00"/>
<polygon points="409.3,105.5 414.4,107.8 408.8,104.3 403.7,102" fill="#00ff9b" stroke="#004c2e"/>
<polygon points="266.8,68.4 272.5,68.3 267.2,68.4 261.6,68.5" fill="#e8f800" stroke="#464a00"/>
<polygon points="277.8,68.4 283.4,68.5 278.1,68.4 272.5,68.3" fill="#f5ff00" stroke="#4a4c00"/>
<polygon points="206.4,76.1 212.2,74.9 207.2,76.2 201.4,77.5" fill="#66d200" stroke="#1f3f00"/>
<polygon points="338.2,76.4 343.5,77.6 338,76 332.6,74.9" fill="#b6ff00" stroke="#374c00"/>
<polygon points="365.6,84.9 370.9,86.6 365.3,84.3 360,82.7" fill="#5dff00" stroke="#1c4c00"/>
<polygon points="217.3,73.7 223.1,72.7 218,73.8 212.2,74.9" fill="#88d900" stroke="#294100"/>
<polygon points="431.4,119.7 436.3,122.4 430.7,118.2 425.7,115.6" fill="#00c5ff" stroke="#003b4c"/>
<polygon points="327.2,74 332.6,74.9 327.1,73.6 321.7,72.7" fill="#d4ff00" stroke="#404c00"/>
<polygon points="382.1,91.7 387.3,93.6 381.7,90.9 376.5,89" fill="#19ff00" stroke="#084c00"/>
<polygon points="228.2,71.8 234,70.9 228.9,71.8 223.1,72.7" fill="#a6e100" stroke="#324400"/>
<polygon points="415,109.2 420,111.6 414.4,107.8 409.3,105.5" fill="#00ffb6" stroke="#004c37"/>
<polygon points="398.6,99.8 403.7,102 398,98.7 392.9,96.6" fill="#00ff44" stroke="#004c14"/>
<polygon points="316.2,72 321.7,72.7 316.2,71.7 310.7,71" fill="#eaff00" stroke="#464c00"/>
<polygon points="354.7,81.3 360,82.7 354.4,80.7 349.1,79.3" fill="#8dff00" stroke="#2a4c00"/>
<polygon points="239.2,70.3 244.9,69.6 239.7,70.3 234,70.9" fill="#c2e800" stroke="#3a4600"/>
<polygon points="305.2,70.4 310.7,71 305.3,70.2 299.8,69.7" fill="#faff00" stroke="#4b4c00"/>
<polygon points="200.6,77.6 206.4,76.1 201.4,77.5 195.6,79" fill="#63cf00" stroke="#1e3e00"/>
<polygon points="250.2,69.2 255.9,68.8 250.6,69.2 244.9,69.6" fill="#dbef00" stroke="#424800"/>
<polygon points="294.2,69.3 299.8,69.7 294.4,69.1 288.8,68.8" fill="#fffa00" stroke="#4c4b00"/>
<polygon points="437.1,124.1 442,126.9 436.3,122.4 431.4,119.7" fill="#00a2ff" stroke="#00314c"/>
<polygon points="261.2,68.6 266.8,68.4 261.6,68.5 255.9,68.8" fill="#f0f600" stroke="#484a00"/>
<polygon points="283.2,68.6 288.8,68.8 283.4,68.5 277.8,68.4" fill="#fff700" stroke="#4c4a00"/>
<polygon points="371.2,87.3 376.5,89 370.9,86.6 365.6,84.9" fill="#53ff00" stroke="#194c00"/>
<polygon points="272.2,68.4 277.8,68.4 272.5,68.3 266.8,68.4" fill="#fcf800" stroke="#4c4a00"/>
<polygon points="343.7,78.1 349.1,79.3 343.5,77.6 338.2,76.4" fill="#b5ff00" stroke="#364c00"/>
<polygon points="420.7,113.1 425.7,115.6 420,111.6 415,109.2" fill="#00ffd4" stroke="#004c40"/>
<polygon points="211.5,74.9 217.3,73.7 212.2,74.9 206.4,76.1" fill="#86d600" stroke="#284000"/>
<polygon points="387.7,94.7 392.9,96.6 387.3,93.6 382.1,91.7" fill="#0aff00" stroke="#034c00"/>
<polygon points="404.2,103.2 409.3,105.5 403.7,102 398.6,99.8" fill="#00ff5c" stroke="#004c1c"/>
<polygon points="332.7,75.4 338.2,76.4 332.6,74.9 327.2,74" fill="#d5ff00" stroke="#404c00"/>
<polygon points="360.3,83.4 365.6,84.9 360,82.7 354.7,81.3" fill="#85ff00" stroke="#284c00"/>
<polygon points="442.8,128.8 447.7,131.5 442,126.9 437.1,124.1" fill="#007dff" stroke="#00264c"/>
<polygon points="222.5,72.7 228.2,71.8 223.1,72.7 217.3,73.7" fill="#a6de00" stroke="#324300"/>
<polygon points="321.7,73.1 327.2,74 321.7,72.7 316.2,72" fill="#efff00" stroke="#484c00"/>
<polygon points="233.4,71 239.2,70.3 234,70.9 228.2,71.8" fill="#c4e500" stroke="#3b4500"/>
<polygon points="194.7,79.2 200.6,77.6 195.6,79 189.7,80.7" fill="#5fcc00" stroke="#1c3d00"/>
<polygon points="376.8,90 382.1,91.7 376.5,89 371.2,87.3" fill="#46ff00" stroke="#154c00"/>
<polygon points="310.7,71.3 316.2,72 310.7,71 305.2,70.4" fill="#fffb00" stroke="#4c4b00"/>
<polygon points="426.4,117.2 431.4,119.7 425.7,115.6 420.7,113.1" fill="#00fff4" stroke="#004c49"/>
<polygon points="349.3,80 354.7,81.3 349.1,79.3 343.7,78.1" fill="#b1ff00" stroke="#354c00"/>
<polygon points="244.4,69.8 250.2,69.2 244.9,69.6 239.2,70.3" fill="#dfec00" stroke="#434700"/>
<polygon points="299.7,70 305.2,70.4 299.8,69.7 294.2,69.3" fill="#ffec00" stroke="#4c4700"/>
<polygon points="393.4,97.8 398.6,99.8 392.9,96.6 387.7,94.7" fill="#00ff0a" stroke="#004c03"/>
<polygon points="409.9,106.9 415,109.2 409.3,105.5 404.2,103.2" fill="#00ff76" stroke="#004c23"/>
<polygon points="255.5,68.9 261.2,68.6 255.9,68.8 250.2,69.2" fill="#f3ef00" stroke="#494800"/>
<polygon points="448.5,133.6 453.3,136.4 447.7,131.5 442.8,128.8" fill="#0056ff" stroke="#001a4c"/>
<polygon points="288.6,69.1 294.2,69.3 288.8,68.8 283.2,68.6" fill="#ffe400" stroke="#4c4400"/>
<polygon points="266.5,68.5 272.2,68.4 266.8,68.4 261.2,68.6" fill="#fae700" stroke="#4b4500"/>
<polygon points="277.5,68.6 283.2,68.6 277.8,68.4 272.2,68.4" fill="#ffe400" stroke="#4c4400"/>
<polygon points="205.7,76.3 211.5,74.9 206.4,76.1 200.6,77.6" fill="#82d300" stroke="#273f00"/>
<polygon points="338.3,77 343.7,78.1 338.2,76.4 332.7,75.4" fill="#d5ff00" stroke="#404c00"/>
<polygon points="365.9,85.8 371.2,87.3 365.6,84.9 360.3,83.4" fill="#7cff00" stroke="#254c00"/>
<polygon points="432.1,121.6 437.1,124.1 431.4,119.7 426.4,117.2" fill="#00e8ff" stroke="#00464c"/>
<polygon points="216.6,73.9 222.5,72.7 217.3,73.7 211.5,74.9" fill="#a4da00" stroke="#314100"/>
<polygon points="454.2,138.7 459,141.5 453.3,136.4 448.5,133.6" fill="#002cff" stroke="#000d4c"/>
<polygon points="327.3,74.5 332.7,75.4 327.2,74 321.7,73.1" fill="#f2ff00" stroke="#494c00"/>
<polygon points="382.5,92.8 387.7,94.7 382.1,91.7 376.8,90" fill="#38ff00" stroke="#114c00"/>
<polygon points="415.6,110.7 420.7,113.1 415,109.2 409.9,106.9" fill="#00ff93" stroke="#004c2c"/>
<polygon points="188.9,80.9 194.7,79.2 189.7,80.7 183.9,82.5" fill="#5ac900" stroke="#1b3c00"/>
<polygon points="399.1,101.2 404.2,103.2 398.6,99.8 393.4,97.8" fill="#00ff21" stroke="#004c0a"/>
<polygon points="227.6,71.9 233.4,71 228.2,71.8 222.5,72.7" fill="#c3e200" stroke="#3a4400"/>
<polygon points="354.9,82.1 360.3,83.4 354.7,81.3 349.3,80" fill="#aaff00" stroke="#334c00"/>
<polygon points="316.2,72.4 321.7,73.1 316.2,72 310.7,71.3" fill="#fff400" stroke="#4c4900"/>
<polygon points="238.7,70.5 244.4,69.8 239.2,70.3 233.4,71" fill="#e0e900" stroke="#434600"/>
<polygon points="437.8,126.1 442.8,128.8 437.1,124.1 432.1,121.6" fill="#00c3ff" stroke="#003a4c"/>
<polygon points="305.1,70.8 310.7,71.3 305.2,70.4 299.7,70" fill="#ffe000" stroke="#4c4300"/>
<polygon points="459.9,143.9 464.7,146.8 459,141.5 454.2,138.7" fill="#0001ff" stroke="#00004c"/>
<polygon points="249.7,69.4 255.5,68.9 250.2,69.2 244.4,69.8" fill="#f0e400" stroke="#484400"/>
<polygon points="199.8,77.8 205.7,76.3 200.6,77.6 194.7,79.2" fill="#7ed000" stroke="#263e00"/>
<polygon points="294,69.7 299.7,70 294.2,69.3 288.6,69.1" fill="#ffd400" stroke="#4c4000"/>
<polygon points="371.6,88.4 376.8,90 371.2,87.3 365.9,85.8" fill="#70ff00" stroke="#224c00"/>
<polygon points="343.9,78.8 349.3,80 343.7,78.1 338.3,77" fill="#d2ff00" stroke="#3f4c00"/>
<polygon points="260.8,68.8 266.5,68.5 261.2,68.6 255.5,68.9" fill="#f7d900" stroke="#4a4100"/>
<polygon points="283,69 288.6,69.1 283.2,68.6 277.5,68.6" fill="#ffd100" stroke="#4c3f00"/>
<polygon points="271.9,68.7 277.5,68.6 272.2,68.4 266.5,68.5" fill="#fed400" stroke="#4c4000"/>
<polygon points="421.3,114.8 426.4,117.2 420.7,113.1 415.6,110.7" fill="#00ffb2" stroke="#004c35"/>
<polygon points="388.2,95.9 393.4,97.8 387.7,94.7 382.5,92.8" fill="#27ff00" stroke="#0c4c00"/>
<polygon points="404.8,104.7 409.9,106.9 404.2,103.2 399.1,101.2" fill="#00ff3a" stroke="#004c11"/>
<polygon points="210.8,75.2 216.6,73.9 211.5,74.9 205.7,76.3" fill="#a0d700" stroke="#304000"/>
<polygon points="465.6,149.4 470.4,152.4 464.7,146.8 459.9,143.9" fill="#0001fc" stroke="#00004c"/>
<polygon points="332.8,76 338.3,77 332.7,75.4 327.3,74.5" fill="#f2ff00" stroke="#494c00"/>
<polygon points="443.5,130.9 448.5,133.6 442.8,128.8 437.8,126.1" fill="#009cff" stroke="#002f4c"/>
<polygon points="183,82.9 188.9,80.9 183.9,82.5 178,84.5" fill="#53c600" stroke="#193b00"/>
<polygon points="360.5,84.4 365.9,85.8 360.3,83.4 354.9,82.1" fill="#a2ff00" stroke="#314c00"/>
<polygon points="221.8,73 227.6,71.9 222.5,72.7 216.6,73.9" fill="#c1df00" stroke="#3a4300"/>
<polygon points="321.7,73.7 327.3,74.5 321.7,73.1 316.2,72.4" fill="#ffef00" stroke="#4c4800"/>
<polygon points="427.1,119.1 432.1,121.6 426.4,117.2 421.3,114.8" fill="#00ffd4" stroke="#004c40"/>
<polygon points="471.3,155.1 476.1,158.1 470.4,152.4 465.6,149.4" fill="#0002f9" stroke="#00014b"/>
<polygon points="377.2,91.2 382.5,92.8 376.8,90 371.6,88.4" fill="#62ff00" stroke="#1d4c00"/>
<polygon points="232.9,71.3 238.7,70.5 233.4,71 227.6,71.9" fill="#e0e600" stroke="#434500"/>
<polygon points="310.6,71.9 316.2,72.4 310.7,71.3 305.1,70.8" fill="#ffd700" stroke="#4c4000"/>
<polygon points="193.9,79.5 199.8,77.8 194.7,79.2 188.9,80.9" fill="#78cd00" stroke="#243e00"/>
<polygon points="449.3,136 454.2,138.7 448.5,133.6 443.5,130.9" fill="#0073ff" stroke="#00224c"/>
<polygon points="410.5,108.5 415.6,110.7 409.9,106.9 404.8,104.7" fill="#00ff57" stroke="#004c1a"/>
<polygon points="349.5,80.8 354.9,82.1 349.3,80 343.9,78.8" fill="#cdff00" stroke="#3e4c00"/>
<polygon points="393.9,99.2 399.1,101.2 393.4,97.8 388.2,95.9" fill="#13ff00" stroke="#064c00"/>
<polygon points="243.9,70.1 249.7,69.4 244.4,69.8 238.7,70.5" fill="#eddb00" stroke="#474200"/>
<polygon points="299.5,70.5 305.1,70.8 299.7,70 294,69.7" fill="#ffc800" stroke="#4c3c00"/>
<polygon points="255,69.3 260.8,68.8 255.5,68.9 249.7,69.4" fill="#f4cd00" stroke="#493e00"/>
<polygon points="288.4,69.5 294,69.7 288.6,69.1 283,69" fill="#ffc000" stroke="#4c3a00"/>
<polygon points="266.1,68.9 271.9,68.7 266.5,68.5 260.8,68.8" fill="#fbc500" stroke="#4b3b00"/>
<polygon points="277.3,69 283,69 277.5,68.6 271.9,68.7" fill="#ffc000" stroke="#4c3a00"/>
<polygon points="477.1,161.1 481.8,164.1 476.1,158.1 471.3,155.1" fill="#0003f6" stroke="#00014a"/>
<polygon points="204.9,76.6 210.8,75.2 205.7,76.3 199.8,77.8" fill="#9cd400" stroke="#2f4000"/>
<polygon points="338.4,77.8 343.9,78.8 338.3,77 332.8,76" fill="#f0ff00" stroke="#484c00"/>
<polygon points="177,85 183,82.9 178,84.5 172.1,86.7" fill="#4cc300" stroke="#173a00"/>
<polygon points="432.8,123.7 437.8,126.1 432.1,121.6 427.1,119.1" fill="#00fff8" stroke="#004c4a"/>
<polygon points="366.2,86.9 371.6,88.4 365.9,85.8 360.5,84.4" fill="#97ff00" stroke="#2d4c00"/>
<polygon points="455,141.2 459.9,143.9 454.2,138.7 449.3,136" fill="#0048ff" stroke="#00164c"/>
<polygon points="416.2,112.6 421.3,114.8 415.6,110.7 410.5,108.5" fill="#00ff75" stroke="#004c23"/>
<polygon points="382.9,94.2 388.2,95.9 382.5,92.8 377.2,91.2" fill="#52ff00" stroke="#194c00"/>
<polygon points="215.9,74.2 221.8,73 216.6,73.9 210.8,75.2" fill="#bddc00" stroke="#394200"/>
<polygon points="482.8,167.2 487.5,170.2 481.8,164.1 477.1,161.1" fill="#0004f2" stroke="#000149"/>
<polygon points="327.3,75.2 332.8,76 327.3,74.5 321.7,73.7" fill="#ffed00" stroke="#4c4700"/>
<polygon points="399.6,102.7 404.8,104.7 399.1,101.2 393.9,99.2" fill="#00ff02" stroke="#004c01"/>
<polygon points="188,81.4 193.9,79.5 188.9,80.9 183,82.9" fill="#71ca00" stroke="#223d00"/>
<polygon points="355.2,83.1 360.5,84.4 354.9,82.1 349.5,80.8" fill="#c5ff00" stroke="#3b4c00"/>
<polygon points="227,72.3 232.9,71.3 227.6,71.9 221.8,73" fill="#dde300" stroke="#424400"/>
<polygon points="316.2,73.1 321.7,73.7 316.2,72.4 310.6,71.9" fill="#ffd200" stroke="#4c3f00"/>
<polygon points="438.5,128.4 443.5,130.9 437.8,126.1 432.8,123.7" fill="#00dfff" stroke="#00434c"/>
<polygon points="460.7,146.6 465.6,149.4 459.9,143.9 455,141.2" fill="#001aff" stroke="#00084c"/>
<polygon points="488.5,173.5 493.2,176.6 487.5,170.2 482.8,167.2" fill="#0005ee" stroke="#000247"/>
<polygon points="238.1,70.8 243.9,70.1 238.7,70.5 232.9,71.3" fill="#ead400" stroke="#464000"/>
<polygon points="305,71.5 310.6,71.9 305.1,70.8 299.5,70.5" fill="#ffbe00" stroke="#4c3900"/>
<polygon points="371.9,89.6 377.2,91.2 371.6,88.4 366.2,86.9" fill="#8aff00" stroke="#294c00"/>
<polygon points="171.1,87.3 177,85 172.1,86.7 166.1,89.1" fill="#44c000" stroke="#143a00"/>
<polygon points="249.2,69.8 255,69.3 249.7,69.4 243.9,70.1" fill="#f1c400" stroke="#483b00"/>
<polygon points="199,78.3 204.9,76.6 199.8,77.8 193.9,79.5" fill="#96d100" stroke="#2d3f00"/>
<polygon points="293.9,70.2 299.5,70.5 294,69.7 288.4,69.5" fill="#ffb200" stroke="#4c3500"/>
<polygon points="422,116.8 427.1,119.1 421.3,114.8 416.2,112.6" fill="#00ff96" stroke="#004c2d"/>
<polygon points="344.1,79.8 349.5,80.8 343.9,78.8 338.4,77.8" fill="#ecff00" stroke="#474c00"/>
<polygon points="260.4,69.3 266.1,68.9 260.8,68.8 255,69.3" fill="#f8b800" stroke="#4a3700"/>
<polygon points="282.7,69.5 288.4,69.5 283,69 277.3,69" fill="#ffaf00" stroke="#4c3400"/>
<polygon points="494.2,180.1 498.9,183.2 493.2,176.6 488.5,173.5" fill="#0004e7" stroke="#000145"/>
<polygon points="271.6,69.2 277.3,69 271.9,68.7 266.1,68.9" fill="#ffb200" stroke="#4c3500"/>
<polygon points="388.6,97.4 393.9,99.2 388.2,95.9 382.9,94.2" fill="#40ff00" stroke="#134c00"/>
<polygon points="405.3,106.5 410.5,108.5 404.8,104.7 399.6,102.7" fill="#00ff1e" stroke="#004c09"/>
<polygon points="466.5,152.3 471.3,155.1 465.6,149.4 460.7,146.6" fill="#0000fe" stroke="#00004c"/>
<polygon points="444.3,133.4 449.3,136 443.5,130.9 438.5,128.4" fill="#00b7ff" stroke="#00374c"/>
<polygon points="210,75.6 215.9,74.2 210.8,75.2 204.9,76.6" fill="#b9d800" stroke="#384100"/>
<polygon points="332.9,76.9 338.4,77.8 332.8,76 327.3,75.2" fill="#ffef00" stroke="#4c4800"/>
<polygon points="499.9,186.9 504.6,190 498.9,183.2 494.2,180.1" fill="#0003e1" stroke="#000144"/>
<polygon points="360.8,85.5 366.2,86.9 360.5,84.4 355.2,83.1" fill="#bbff00" stroke="#384c00"/>
<polygon points="182,83.5 188,81.4 183,82.9 177,85" fill="#69c700" stroke="#203c00"/>
<polygon points="472.2,158.2 477.1,161.1 471.3,155.1 466.5,152.3" fill="#0002fa" stroke="#00014b"/>
<polygon points="427.7,121.3 432.8,123.7 427.1,119.1 422,116.8" fill="#00ffba" stroke="#004c38"/>
<polygon points="221.1,73.5 227,72.3 221.8,73 215.9,74.2" fill="#dae000" stroke="#414300"/>
<polygon points="321.8,74.5 327.3,75.2 321.7,73.7 316.2,73.1" fill="#ffcf00" stroke="#4c3e00"/>
<polygon points="505.7,193.8 510.3,197 504.6,190 499.9,186.9" fill="#0003da" stroke="#000141"/>
<polygon points="377.6,92.6 382.9,94.2 377.2,91.2 371.9,89.6" fill="#7bff00" stroke="#254c00"/>
<polygon points="450.1,138.6 455,141.2 449.3,136 444.3,133.4" fill="#008bff" stroke="#002a4c"/>
<polygon points="165.1,89.8 171.1,87.3 166.1,89.1 160.2,91.6" fill="#3abd00" stroke="#113900"/>
<polygon points="411.1,110.5 416.2,112.6 410.5,108.5 405.3,106.5" fill="#00ff3b" stroke="#004c12"/>
<polygon points="394.4,100.9 399.6,102.7 393.9,99.2 388.6,97.4" fill="#2bff00" stroke="#0d4c00"/>
<polygon points="232.3,71.8 238.1,70.8 232.9,71.3 227,72.3" fill="#e7cf00" stroke="#453e00"/>
<polygon points="310.6,72.6 316.2,73.1 310.6,71.9 305,71.5" fill="#ffb700" stroke="#4c3700"/>
<polygon points="349.7,81.9 355.2,83.1 349.5,80.8 344.1,79.8" fill="#e5ff00" stroke="#454c00"/>
<polygon points="193.1,80.1 199,78.3 193.9,79.5 188,81.4" fill="#8fce00" stroke="#2b3e00"/>
<polygon points="511.4,201 515.9,204.2 510.3,197 505.7,193.8" fill="#0002d3" stroke="#00013f"/>
<polygon points="478,164.3 482.8,167.2 477.1,161.1 472.2,158.2" fill="#0003f7" stroke="#00014a"/>
<polygon points="243.4,70.6 249.2,69.8 243.9,70.1 238.1,70.8" fill="#eebd00" stroke="#473900"/>
<polygon points="299.4,71.2 305,71.5 299.5,70.5 293.9,70.2" fill="#ffa800" stroke="#4c3200"/>
<polygon points="254.6,69.8 260.4,69.3 255,69.3 249.2,69.8" fill="#f5ae00" stroke="#4a3400"/>
<polygon points="288.2,70.2 293.9,70.2 288.4,69.5 282.7,69.5" fill="#ffa000" stroke="#4c3000"/>
<polygon points="433.5,126 438.5,128.4 432.8,123.7 427.7,121.3" fill="#00ffdf" stroke="#004c43"/>
<polygon points="517.1,208.4 521.6,211.6 515.9,204.2 511.4,201" fill="#0001cc" stroke="#00003d"/>
<polygon points="265.8,69.5 271.6,69.2 266.1,68.9 260.4,69.3" fill="#fca500" stroke="#4c3200"/>
<polygon points="277,69.6 282.7,69.5 277.3,69 271.6,69.2" fill="#ffa000" stroke="#4c3000"/>
<polygon points="455.8,144 460.7,146.6 455,141.2 450.1,138.6" fill="#005eff" stroke="#001c4c"/>
<polygon points="366.5,88.2 371.9,89.6 366.2,86.9 360.8,85.5" fill="#afff00" stroke="#344c00"/>
<polygon points="338.6,78.8 344.1,79.8 338.4,77.8 332.9,76.9" fill="#fff300" stroke="#4c4900"/>
<polygon points="204.1,77.2 210,75.6 204.9,76.6 199,78.3" fill="#b3d500" stroke="#364000"/>
<polygon points="176.1,85.7 182,83.5 177,85 171.1,87.3" fill="#61c400" stroke="#1d3b00"/>
<polygon points="483.7,170.6 488.5,173.5 482.8,167.2 478,164.3" fill="#0004f3" stroke="#000149"/>
<polygon points="522.7,216 527.3,219.2 521.6,211.6 517.1,208.4" fill="#0001c4" stroke="#00003b"/>
<polygon points="416.9,114.7 422,116.8 416.2,112.6 411.1,110.5" fill="#00ff5c" stroke="#004c1c"/>
<polygon points="383.3,95.8 388.6,97.4 382.9,94.2 377.6,92.6" fill="#69ff00" stroke="#204c00"/>
<polygon points="400.1,104.6 405.3,106.5 399.6,102.7 394.4,100.9" fill="#14ff00" stroke="#064c00"/>
<polygon points="327.4,76.2 332.9,76.9 327.3,75.2 321.8,74.5" fill="#ffcf00" stroke="#4c3e00"/>
<polygon points="159.1,92.5 165.1,89.8 160.2,91.6 154.2,94.4" fill="#31ba00" stroke="#0f3800"/>
<polygon points="215.2,74.8 221.1,73.5 215.9,74.2 210,75.6" fill="#d6dd00" stroke="#404200"/>
<polygon points="489.5,177.1 494.2,180.1 488.5,173.5 483.7,170.6" fill="#0005ef" stroke="#000248"/>
<polygon points="461.6,149.6 466.5,152.3 460.7,146.6 455.8,144" fill="#002eff" stroke="#000e4c"/>
<polygon points="439.3,130.9 444.3,133.4 438.5,128.4 433.5,126" fill="#00f6ff" stroke="#004a4c"/>
<polygon points="355.4,84.3 360.8,85.5 355.2,83.1 349.7,81.9" fill="#dcff00" stroke="#424c00"/>
<polygon points="187.1,82.1 193.1,80.1 188,81.4 182,83.5" fill="#86cb00" stroke="#283d00"/>
<polygon points="316.2,74 321.8,74.5 316.2,73.1 310.6,72.6" fill="#ffb300" stroke="#4c3600"/>
<polygon points="226.4,72.9 232.3,71.8 227,72.3 221.1,73.5" fill="#e4cd00" stroke="#443e00"/>
<polygon points="495.2,183.8 499.9,186.9 494.2,180.1 489.5,177.1" fill="#0004e8" stroke="#000146"/>
<polygon points="422.6,119.1 427.7,121.3 422,116.8 416.9,114.7" fill="#00ff7f" stroke="#004c26"/>
<polygon points="305,72.3 310.6,72.6 305,71.5 299.4,71.2" fill="#ffa000" stroke="#4c3000"/>
<polygon points="237.6,71.5 243.4,70.6 238.1,70.8 232.3,71.8" fill="#ebb800" stroke="#463700"/>
<polygon points="372.2,91.1 377.6,92.6 371.9,89.6 366.5,88.2" fill="#a1ff00" stroke="#304c00"/>
<polygon points="467.4,155.4 472.2,158.2 466.5,152.3 461.6,149.6" fill="#0000ff" stroke="#00004c"/>
<polygon points="344.2,80.9 349.7,81.9 344.1,79.8 338.6,78.8" fill="#fffa00" stroke="#4c4b00"/>
<polygon points="170.1,88.1 176.1,85.7 171.1,87.3 165.1,89.8" fill="#57c100" stroke="#1a3a00"/>
<polygon points="293.7,71 299.4,71.2 293.9,70.2 288.2,70.2" fill="#ff9400" stroke="#4c2c00"/>
<polygon points="248.8,70.5 254.6,69.8 249.2,69.8 243.4,70.6" fill="#f2a600" stroke="#493200"/>
<polygon points="198.2,79 204.1,77.2 199,78.3 193.1,80.1" fill="#abd200" stroke="#333f00"/>
<polygon points="405.9,108.5 411.1,110.5 405.3,106.5 400.1,104.6" fill="#00ff05" stroke="#004c02"/>
<polygon points="389.1,99.2 394.4,100.9 388.6,97.4 383.3,95.8" fill="#55ff00" stroke="#1a4c00"/>
<polygon points="445.1,136.1 450.1,138.6 444.3,133.4 439.3,130.9" fill="#00cbff" stroke="#003d4c"/>
<polygon points="282.5,70.2 288.2,70.2 282.7,69.5 277,69.6" fill="#ff9000" stroke="#4c2b00"/>
<polygon points="260,69.9 265.8,69.5 260.4,69.3 254.6,69.8" fill="#f99a00" stroke="#4b2e00"/>
<polygon points="501,190.8 505.7,193.8 499.9,186.9 495.2,183.8" fill="#0004e2" stroke="#000144"/>
<polygon points="271.2,69.8 277,69.6 271.6,69.2 265.8,69.5" fill="#ff9300" stroke="#4c2c00"/>
<polygon points="153.1,95.3 159.1,92.5 154.2,94.4 148.2,97.3" fill="#26b700" stroke="#0b3700"/>
<polygon points="473.2,161.5 478,164.3 472.2,158.2 467.4,155.4" fill="#0001fb" stroke="#00004b"/>
<polygon points="333,78 338.6,78.8 332.9,76.9 327.4,76.2" fill="#ffd200" stroke="#4c3f00"/>
<polygon points="506.7,197.9 511.4,201 505.7,193.8 501,190.8" fill="#0003db" stroke="#000142"/>
<polygon points="209.3,76.3 215.2,74.8 210,75.6 204.1,77.2" fill="#cfd900" stroke="#3e4100"/>
<polygon points="361.1,87 366.5,88.2 360.8,85.5 355.4,84.3" fill="#d1ff00" stroke="#3f4c00"/>
<polygon points="428.4,123.7 433.5,126 427.7,121.3 422.6,119.1" fill="#00ffa4" stroke="#004c31"/>
<polygon points="181.1,84.3 187.1,82.1 182,83.5 176.1,85.7" fill="#7dc800" stroke="#263c00"/>
<polygon points="450.9,141.4 455.8,144 450.1,138.6 445.1,136.1" fill="#009eff" stroke="#002f4c"/>
<polygon points="512.4,205.3 517.1,208.4 511.4,201 506.7,197.9" fill="#0002d3" stroke="#00013f"/>
<polygon points="321.8,75.6 327.4,76.2 321.8,74.5 316.2,74" fill="#ffb200" stroke="#4c3500"/>
<polygon points="378,94.2 383.3,95.8 377.6,92.6 372.2,91.1" fill="#90ff00" stroke="#2b4c00"/>
<polygon points="220.5,74.2 226.4,72.9 221.1,73.5 215.2,74.8" fill="#e1cc00" stroke="#443d00"/>
<polygon points="411.7,112.6 416.9,114.7 411.1,110.5 405.9,108.5" fill="#00ff25" stroke="#004c0b"/>
<polygon points="478.9,167.8 483.7,170.6 478,164.3 473.2,161.5" fill="#0002f8" stroke="#00014a"/>
<polygon points="394.8,102.8 400.1,104.6 394.4,100.9 389.1,99.2" fill="#3fff00" stroke="#134c00"/>
<polygon points="164.1,90.7 170.1,88.1 165.1,89.8 159.1,92.5" fill="#4dbd00" stroke="#173900"/>
<polygon points="518.2,212.8 522.7,216 517.1,208.4 512.4,205.3" fill="#0001cc" stroke="#00003d"/>
<polygon points="349.9,83.3 355.4,84.3 349.7,81.9 344.2,80.9" fill="#fbff00" stroke="#4b4c00"/>
<polygon points="310.5,73.6 316.2,74 310.6,72.6 305,72.3" fill="#ff9a00" stroke="#4c2e00"/>
<polygon points="231.7,72.5 237.6,71.5 232.3,71.8 226.4,72.9" fill="#e8b400" stroke="#463600"/>
<polygon points="192.2,80.9 198.2,79 193.1,80.1 187.1,82.1" fill="#a3cf00" stroke="#313e00"/>
<polygon points="147,98.4 153.1,95.3 148.2,97.3 142.2,100.4" fill="#1ab400" stroke="#083600"/>
<polygon points="434.2,128.6 439.3,130.9 433.5,126 428.4,123.7" fill="#00ffcc" stroke="#004c3d"/>
<polygon points="456.7,147 461.6,149.6 455.8,144 450.9,141.4" fill="#006eff" stroke="#00214c"/>
<polygon points="299.3,72.1 305,72.3 299.4,71.2 293.7,71" fill="#ff8b00" stroke="#4c2a00"/>
<polygon points="242.9,71.3 248.8,70.5 243.4,70.6 237.6,71.5" fill="#efa100" stroke="#483000"/>
<polygon points="484.7,174.3 489.5,177.1 483.7,170.6 478.9,167.8" fill="#0004f4" stroke="#000149"/>
<polygon points="288,71 293.7,71 288.2,70.2 282.5,70.2" fill="#ff8300" stroke="#4c2700"/>
<polygon points="254.2,70.6 260,69.9 254.6,69.8 248.8,70.5" fill="#f69200" stroke="#4a2c00"/>
<polygon points="366.8,89.8 372.2,91.1 366.5,88.2 361.1,87" fill="#c3ff00" stroke="#3a4c00"/>
<polygon points="276.7,70.4 282.5,70.2 277,69.6 271.2,69.8" fill="#ff8200" stroke="#4c2700"/>
<polygon points="265.4,70.3 271.2,69.8 265.8,69.5 260,69.9" fill="#fd8800" stroke="#4c2900"/>
<polygon points="338.7,80.1 344.2,80.9 338.6,78.8 333,78" fill="#ffd800" stroke="#4c4100"/>
<polygon points="417.5,117 422.6,119.1 416.9,114.7 411.7,112.6" fill="#00ff47" stroke="#004c15"/>
<polygon points="203.4,78 209.3,76.3 204.1,77.2 198.2,79" fill="#c8d600" stroke="#3c4000"/>
<polygon points="175.1,86.6 181.1,84.3 176.1,85.7 170.1,88.1" fill="#74c400" stroke="#233b00"/>
<polygon points="490.5,181 495.2,183.8 489.5,177.1 484.7,174.3" fill="#0005f0" stroke="#000248"/>
<polygon points="383.7,97.6 389.1,99.2 383.3,95.8 378,94.2" fill="#7dff00" stroke="#264c00"/>
<polygon points="400.6,106.7 405.9,108.5 400.1,104.6 394.8,102.8" fill="#27ff00" stroke="#0c4c00"/>
<polygon points="462.5,152.8 467.4,155.4 461.6,149.6 456.7,147" fill="#003cff" stroke="#00124c"/>
<polygon points="440,133.7 445.1,136.1 439.3,130.9 434.2,128.6" fill="#00fff6" stroke="#004c4a"/>
<polygon points="327.4,77.4 333,78 327.4,76.2 321.8,75.6" fill="#ffb400" stroke="#4c3600"/>
<polygon points="158,93.5 164.1,90.7 159.1,92.5 153.1,95.3" fill="#41ba00" stroke="#143800"/>
<polygon points="214.5,75.6 220.5,74.2 215.2,74.8 209.3,76.3" fill="#decc00" stroke="#433d00"/>
<polygon points="355.6,85.8 361.1,87 355.4,84.3 349.9,83.3" fill="#f0ff00" stroke="#484c00"/>
<polygon points="496.2,187.9 501,190.8 495.2,183.8 490.5,181" fill="#0004e9" stroke="#000146"/>
<polygon points="141,101.6 147,98.4 142.2,100.4 136.1,103.7" fill="#0eb100" stroke="#043500"/>
<polygon points="186.2,83 192.2,80.9 187.1,82.1 181.1,84.3" fill="#99cc00" stroke="#2e3d00"/>
<polygon points="316.2,75.1 321.8,75.6 316.2,74 310.5,73.6" fill="#ff9800" stroke="#4c2e00"/>
<polygon points="468.3,158.9 473.2,161.5 467.4,155.4 462.5,152.8" fill="#0007ff" stroke="#00024c"/>
<polygon points="225.8,73.7 231.7,72.5 226.4,72.9 220.5,74.2" fill="#e5b400" stroke="#453600"/>
<polygon points="423.3,121.6 428.4,123.7 422.6,119.1 417.5,117" fill="#00ff6c" stroke="#004c20"/>
<polygon points="502,195 506.7,197.9 501,190.8 496.2,187.9" fill="#0004e2" stroke="#000144"/>
<polygon points="372.6,92.9 378,94.2 372.2,91.1 366.8,89.8" fill="#b3ff00" stroke="#364c00"/>
<polygon points="445.8,139 450.9,141.4 445.1,136.1 440,133.7" fill="#00dbff" stroke="#00424c"/>
<polygon points="304.9,73.4 310.5,73.6 305,72.3 299.3,72.1" fill="#ff8500" stroke="#4c2800"/>
<polygon points="237,72.3 242.9,71.3 237.6,71.5 231.7,72.5" fill="#ec9e00" stroke="#472f00"/>
<polygon points="406.4,110.8 411.7,112.6 405.9,108.5 400.6,106.7" fill="#0cff00" stroke="#044c00"/>
<polygon points="344.4,82.4 349.9,83.3 344.2,80.9 338.7,80.1" fill="#ffe100" stroke="#4c4400"/>
<polygon points="389.5,101.2 394.8,102.8 389.1,99.2 383.7,97.6" fill="#67ff00" stroke="#1f4c00"/>
<polygon points="169.1,89.2 175.1,86.6 170.1,88.1 164.1,90.7" fill="#69c100" stroke="#203a00"/>
<polygon points="293.6,72 299.3,72.1 293.7,71 288,71" fill="#ff7900" stroke="#4c2400"/>
<polygon points="507.8,202.3 512.4,205.3 506.7,197.9 502,195" fill="#0003db" stroke="#000142"/>
<polygon points="248.3,71.3 254.2,70.6 248.8,70.5 242.9,71.3" fill="#f38c00" stroke="#492a00"/>
<polygon points="197.4,79.9 203.4,78 198.2,79 192.2,80.9" fill="#bfd300" stroke="#393f00"/>
<polygon points="474.1,165.1 478.9,167.8 473.2,161.5 468.3,158.9" fill="#0001fc" stroke="#00004c"/>
<polygon points="282.2,71.2 288,71 282.5,70.2 276.7,70.4" fill="#ff7400" stroke="#4c2300"/>
<polygon points="259.6,70.8 265.4,70.3 260,69.9 254.2,70.6" fill="#fa8000" stroke="#4b2600"/>
<polygon points="270.9,70.8 276.7,70.4 271.2,69.8 265.4,70.3" fill="#ff7800" stroke="#4c2400"/>
<polygon points="152,96.5 158,93.5 153.1,95.3 147,98.4" fill="#35b700" stroke="#103700"/>
<polygon points="134.9,105 141,101.6 136.1,103.7 130.1,107.2" fill="#01ae00" stroke="#003400"/>
<polygon points="513.5,209.9 518.2,212.8 512.4,205.3 507.8,202.3" fill="#0002d3" stroke="#00013f"/>
<polygon points="429.1,126.5 434.2,128.6 428.4,123.7 423.3,121.6" fill="#00ff93" stroke="#004c2c"/>
<polygon points="333.1,79.4 338.7,80.1 333,78 327.4,77.4" fill="#ffb900" stroke="#4c3800"/>
<polygon points="361.4,88.6 366.8,89.8 361.1,87 355.6,85.8" fill="#e4ff00" stroke="#444c00"/>
<polygon points="451.6,144.6 456.7,147 450.9,141.4 445.8,139" fill="#00abff" stroke="#00334c"/>
<polygon points="208.6,77.3 214.5,75.6 209.3,76.3 203.4,78" fill="#dacf00" stroke="#413e00"/>
<polygon points="479.9,171.5 484.7,174.3 478.9,167.8 474.1,165.1" fill="#0002f8" stroke="#00014a"/>
<polygon points="180.2,85.3 186.2,83 181.1,84.3 175.1,86.6" fill="#8fc800" stroke="#2b3c00"/>
<polygon points="412.2,115.1 417.5,117 411.7,112.6 406.4,110.8" fill="#00ff13" stroke="#004c06"/>
<polygon points="378.4,96.2 383.7,97.6 378,94.2 372.6,92.9" fill="#a1ff00" stroke="#304c00"/>
<polygon points="321.8,76.9 327.4,77.4 321.8,75.6 316.2,75.1" fill="#ff9900" stroke="#4c2e00"/>
<polygon points="395.3,105 400.6,106.7 394.8,102.8 389.5,101.2" fill="#50ff00" stroke="#184c00"/>
<polygon points="219.8,75.1 225.8,73.7 220.5,74.2 214.5,75.6" fill="#e2b400" stroke="#443600"/>
<polygon points="485.7,178.2 490.5,181 484.7,174.3 479.9,171.5" fill="#0004f4" stroke="#000149"/>
<polygon points="457.5,150.4 462.5,152.8 456.7,147 451.6,144.6" fill="#0079ff" stroke="#00244c"/>
<polygon points="350.1,84.9 355.6,85.8 349.9,83.3 344.4,82.4" fill="#ffed00" stroke="#4c4700"/>
<polygon points="163,91.9 169.1,89.2 164.1,90.7 158,93.5" fill="#5cbe00" stroke="#1c3900"/>
<polygon points="434.9,131.5 440,133.7 434.2,128.6 429.1,126.5" fill="#00ffbd" stroke="#004c39"/>
<polygon points="310.5,74.8 316.2,75.1 310.5,73.6 304.9,73.4" fill="#ff8100" stroke="#4c2700"/>
<polygon points="231.1,73.5 237,72.3 231.7,72.5 225.8,73.7" fill="#e99c00" stroke="#462f00"/>
<polygon points="191.4,82 197.4,79.9 192.2,80.9 186.2,83" fill="#b6d000" stroke="#373e00"/>
<polygon points="145.9,99.7 152,96.5 147,98.4 141,101.6" fill="#28b400" stroke="#0c3600"/>
<polygon points="128.9,108.7 134.9,105 130.1,107.2 124,110.9" fill="#00ab0e" stroke="#003304"/>
<polygon points="299.1,73.2 304.9,73.4 299.3,72.1 293.6,72" fill="#ff7100" stroke="#4c2200"/>
<polygon points="242.4,72.3 248.3,71.3 242.9,71.3 237,72.3" fill="#f08900" stroke="#482900"/>
<polygon points="491.4,185.1 496.2,187.9 490.5,181 485.7,178.2" fill="#0005f0" stroke="#000248"/>
<polygon points="367.1,91.6 372.6,92.9 366.8,89.8 361.4,88.6" fill="#d4ff00" stroke="#404c00"/>
<polygon points="418.1,119.6 423.3,121.6 417.5,117 412.2,115.1" fill="#00ff38" stroke="#004c11"/>
<polygon points="287.8,72.1 293.6,72 288,71 282.2,71.2" fill="#ff6900" stroke="#4c2000"/>
<polygon points="253.7,71.5 259.6,70.8 254.2,70.6 248.3,71.3" fill="#f87800" stroke="#4a2400"/>
<polygon points="338.8,81.6 344.4,82.4 338.7,80.1 333.1,79.4" fill="#ffc100" stroke="#4c3a00"/>
<polygon points="463.3,156.3 468.3,158.9 462.5,152.8 457.5,150.4" fill="#0045ff" stroke="#00154c"/>
<polygon points="276.4,71.5 282.2,71.2 276.7,70.4 270.9,70.8" fill="#ff6800" stroke="#4c1f00"/>
<polygon points="265.1,71.3 270.9,70.8 265.4,70.3 259.6,70.8" fill="#fe6f00" stroke="#4c2100"/>
<polygon points="384.2,99.7 389.5,101.2 383.7,97.6 378.4,96.2" fill="#8cff00" stroke="#2a4c00"/>
<polygon points="401.1,109 406.4,110.8 400.6,106.7 395.3,105" fill="#36ff00" stroke="#104c00"/>
<polygon points="202.6,79.1 208.6,77.3 203.4,78 197.4,79.9" fill="#d7d300" stroke="#403f00"/>
<polygon points="440.7,136.8 445.8,139 440,133.7 434.9,131.5" fill="#00ffea" stroke="#004c46"/>
<polygon points="174.1,87.8 180.2,85.3 175.1,86.6 169.1,89.2" fill="#84c500" stroke="#283b00"/>
<polygon points="497.2,192.2 502,195 496.2,187.9 491.4,185.1" fill="#0004e9" stroke="#000146"/>
<polygon points="327.5,78.8 333.1,79.4 327.4,77.4 321.8,76.9" fill="#ff9d00" stroke="#4c2f00"/>
<polygon points="157,94.9 163,91.9 158,93.5 152,96.5" fill="#50bb00" stroke="#183800"/>
<polygon points="469.1,162.5 474.1,165.1 468.3,158.9 463.3,156.3" fill="#000eff" stroke="#00044c"/>
<polygon points="355.9,87.6 361.4,88.6 355.6,85.8 350.1,84.9" fill="#fffc00" stroke="#4c4c00"/>
<polygon points="503,199.5 507.8,202.3 502,195 497.2,192.2" fill="#0004e1" stroke="#000144"/>
<polygon points="213.8,76.7 219.8,75.1 214.5,75.6 208.6,77.3" fill="#dfb600" stroke="#433700"/>
<polygon points="122.8,112.5 128.9,108.7 124,110.9 118,114.7" fill="#00a81e" stroke="#003209"/>
<polygon points="139.8,103.1 145.9,99.7 141,101.6 134.9,105" fill="#1bb100" stroke="#083500"/>
<polygon points="423.9,124.4 429.1,126.5 423.3,121.6 418.1,119.6" fill="#00ff5e" stroke="#004c1c"/>
<polygon points="316.1,76.5 321.8,76.9 316.2,75.1 310.5,74.8" fill="#ff8100" stroke="#4c2700"/>
<polygon points="185.3,84.2 191.4,82 186.2,83 180.2,85.3" fill="#abcd00" stroke="#333e00"/>
<polygon points="446.6,142.3 451.6,144.6 445.8,139 440.7,136.8" fill="#00e5ff" stroke="#00454c"/>
<polygon points="508.8,207 513.5,209.9 507.8,202.3 503,199.5" fill="#0003da" stroke="#000141"/>
<polygon points="372.9,94.9 378.4,96.2 372.6,92.9 367.1,91.6" fill="#c3ff00" stroke="#3a4c00"/>
<polygon points="225.1,74.8 231.1,73.5 225.8,73.7 219.8,75.1" fill="#e69d00" stroke="#452f00"/>
<polygon points="407,113.3 412.2,115.1 406.4,110.8 401.1,109" fill="#19ff00" stroke="#084c00"/>
<polygon points="474.9,169 479.9,171.5 474.1,165.1 469.1,162.5" fill="#0001fc" stroke="#00004c"/>
<polygon points="390,103.5 395.3,105 389.5,101.2 384.2,99.7" fill="#75ff00" stroke="#234c00"/>
<polygon points="304.8,74.7 310.5,74.8 304.9,73.4 299.1,73.2" fill="#ff6d00" stroke="#4c2100"/>
<polygon points="344.6,84.1 350.1,84.9 344.4,82.4 338.8,81.6" fill="#ffcc00" stroke="#4c3d00"/>
<polygon points="236.5,73.4 242.4,72.3 237,72.3 231.1,73.5" fill="#ed8700" stroke="#472800"/>
<polygon points="168.1,90.5 174.1,87.8 169.1,89.2 163,91.9" fill="#77c200" stroke="#243a00"/>
<polygon points="293.4,73.3 299.1,73.2 293.6,72 287.8,72.1" fill="#ff6100" stroke="#4c1d00"/>
<polygon points="247.8,72.4 253.7,71.5 248.3,71.3 242.4,72.3" fill="#f57400" stroke="#4a2300"/>
<polygon points="196.6,81.1 202.6,79.1 197.4,79.9 191.4,82" fill="#d1d400" stroke="#3f4000"/>
<polygon points="429.7,129.4 434.9,131.5 429.1,126.5 423.9,124.4" fill="#00ff88" stroke="#004c29"/>
<polygon points="282,72.4 287.8,72.1 282.2,71.2 276.4,71.5" fill="#ff5c00" stroke="#4c1c00"/>
<polygon points="452.4,148 457.5,150.4 451.6,144.6 446.6,142.3" fill="#00b3ff" stroke="#00364c"/>
<polygon points="259.2,71.9 265.1,71.3 259.6,70.8 253.7,71.5" fill="#fc6800" stroke="#4c1f00"/>
<polygon points="116.7,116.5 122.8,112.5 118,114.7 111.9,118.8" fill="#00a52f" stroke="#00320e"/>
<polygon points="270.6,71.9 276.4,71.5 270.9,70.8 265.1,71.3" fill="#ff5f00" stroke="#4c1c00"/>
<polygon points="480.8,175.6 485.7,178.2 479.9,171.5 474.9,169" fill="#0002f8" stroke="#00014a"/>
<polygon points="150.9,98 157,94.9 152,96.5 145.9,99.7" fill="#43b800" stroke="#143700"/>
<polygon points="133.7,106.7 139.8,103.1 134.9,105 128.9,108.7" fill="#0eae00" stroke="#043400"/>
<polygon points="361.6,90.6 367.1,91.6 361.4,88.6 355.9,87.6" fill="#f3ff00" stroke="#494c00"/>
<polygon points="333.2,81 338.8,81.6 333.1,79.4 327.5,78.8" fill="#ffa400" stroke="#4c3100"/>
<polygon points="412.8,117.8 418.1,119.6 412.2,115.1 407,113.3" fill="#00ff06" stroke="#004c02"/>
<polygon points="207.8,78.5 213.8,76.7 208.6,77.3 202.6,79.1" fill="#dbbb00" stroke="#423800"/>
<polygon points="378.7,98.4 384.2,99.7 378.4,96.2 372.9,94.9" fill="#afff00" stroke="#344c00"/>
<polygon points="486.6,182.5 491.4,185.1 485.7,178.2 480.8,175.6" fill="#0004f4" stroke="#000149"/>
<polygon points="179.3,86.6 185.3,84.2 180.2,85.3 174.1,87.8" fill="#9fc900" stroke="#303c00"/>
<polygon points="395.8,107.4 401.1,109 395.3,105 390,103.5" fill="#5cff00" stroke="#1c4c00"/>
<polygon points="458.3,154 463.3,156.3 457.5,150.4 452.4,148" fill="#007fff" stroke="#00264c"/>
<polygon points="321.8,78.4 327.5,78.8 321.8,76.9 316.1,76.5" fill="#ff8400" stroke="#4c2800"/>
<polygon points="435.6,134.7 440.7,136.8 434.9,131.5 429.7,129.4" fill="#00ffb4" stroke="#004c36"/>
<polygon points="219.2,76.3 225.1,74.8 219.8,75.1 213.8,76.7" fill="#e39f00" stroke="#443000"/>
<polygon points="350.3,86.7 355.9,87.6 350.1,84.9 344.6,84.1" fill="#ffda00" stroke="#4c4100"/>
<polygon points="492.4,189.5 497.2,192.2 491.4,185.1 486.6,182.5" fill="#0005f0" stroke="#000248"/>
<polygon points="110.5,120.7 116.7,116.5 111.9,118.8 105.8,123" fill="#00a240" stroke="#003113"/>
<polygon points="162,93.4 168.1,90.5 163,91.9 157,94.9" fill="#6bbf00" stroke="#203900"/>
<polygon points="310.4,76.3 316.1,76.5 310.5,74.8 304.8,74.7" fill="#ff6c00" stroke="#4c2000"/>
<polygon points="230.5,74.7 236.5,73.4 231.1,73.5 225.1,74.8" fill="#ea8700" stroke="#462800"/>
<polygon points="127.6,110.4 133.7,106.7 128.9,108.7 122.8,112.5" fill="#00ab01" stroke="#003300"/>
<polygon points="144.8,101.3 150.9,98 145.9,99.7 139.8,103.1" fill="#35b500" stroke="#103600"/>
<polygon points="190.5,83.3 196.6,81.1 191.4,82 185.3,84.2" fill="#c6d100" stroke="#3b3f00"/>
<polygon points="464.1,160.1 469.1,162.5 463.3,156.3 458.3,154" fill="#0048ff" stroke="#00164c"/>
<polygon points="418.7,122.6 423.9,124.4 418.1,119.6 412.8,117.8" fill="#00ff2d" stroke="#004c0e"/>
<polygon points="299,74.7 304.8,74.7 299.1,73.2 293.4,73.3" fill="#ff5b00" stroke="#4c1b00"/>
<polygon points="367.4,93.8 372.9,94.9 367.1,91.6 361.6,90.6" fill="#e2ff00" stroke="#444c00"/>
<polygon points="498.2,196.8 503,199.5 497.2,192.2 492.4,189.5" fill="#0004e8" stroke="#000146"/>
<polygon points="241.9,73.5 247.8,72.4 242.4,72.3 236.5,73.4" fill="#f17300" stroke="#482200"/>
<polygon points="441.5,140.1 446.6,142.3 440.7,136.8 435.6,134.7" fill="#00ffe3" stroke="#004c44"/>
<polygon points="339,83.4 344.6,84.1 338.8,81.6 333.2,81" fill="#ffae00" stroke="#4c3400"/>
<polygon points="287.6,73.5 293.4,73.3 287.8,72.1 282,72.4" fill="#ff5300" stroke="#4c1900"/>
<polygon points="401.6,111.7 407,113.3 401.1,109 395.8,107.4" fill="#40ff00" stroke="#134c00"/>
<polygon points="384.6,102.1 390,103.5 384.2,99.7 378.7,98.4" fill="#99ff00" stroke="#2e4c00"/>
<polygon points="253.3,72.8 259.2,71.9 253.7,71.5 247.8,72.4" fill="#f96200" stroke="#4b1d00"/>
<polygon points="276.2,72.8 282,72.4 276.4,71.5 270.6,71.9" fill="#ff5200" stroke="#4c1900"/>
<polygon points="264.7,72.5 270.6,71.9 265.1,71.3 259.2,71.9" fill="#ff5800" stroke="#4c1a00"/>
<polygon points="504,204.3 508.8,207 503,199.5 498.2,196.8" fill="#0003e1" stroke="#000144"/>
<polygon points="201.8,80.4 207.8,78.5 202.6,79.1 196.6,81.1" fill="#d8bf00" stroke="#413900"/>
<polygon points="173.2,89.3 179.3,86.6 174.1,87.8 168.1,90.5" fill="#93c600" stroke="#2c3b00"/>
<polygon points="470,166.5 474.9,169 469.1,162.5 464.1,160.1" fill="#000fff" stroke="#00044c"/>
<polygon points="104.4,125.1 110.5,120.7 105.8,123 99.7,127.4" fill="#009f52" stroke="#003019"/>
<polygon points="327.6,80.5 333.2,81 327.5,78.8 321.8,78.4" fill="#ff8900" stroke="#4c2900"/>
<polygon points="424.5,127.5 429.7,129.4 423.9,124.4 418.7,122.6" fill="#00ff55" stroke="#004c1a"/>
<polygon points="356.1,89.6 361.6,90.6 355.9,87.6 350.3,86.7" fill="#ffeb00" stroke="#4c4600"/>
<polygon points="155.9,96.5 162,93.4 157,94.9 150.9,98" fill="#5ebc00" stroke="#1c3800"/>
<polygon points="447.3,145.8 452.4,148 446.6,142.3 441.5,140.1" fill="#00eaff" stroke="#00464c"/>
<polygon points="121.5,114.4 127.6,110.4 122.8,112.5 116.7,116.5" fill="#00a812" stroke="#003205"/>
<polygon points="213.1,78 219.2,76.3 213.8,76.7 207.8,78.5" fill="#dfa300" stroke="#433100"/>
<polygon points="138.6,104.8 144.8,101.3 139.8,103.1 133.7,106.7" fill="#27b200" stroke="#0c3500"/>
<polygon points="475.8,173.1 480.8,175.6 474.9,169 470,166.5" fill="#0001fc" stroke="#00004c"/>
<polygon points="316.1,78.1 321.8,78.4 316.1,76.5 310.4,76.3" fill="#ff6d00" stroke="#4c2100"/>
<polygon points="407.5,116.1 412.8,117.8 407,113.3 401.6,111.7" fill="#22ff00" stroke="#0a4c00"/>
<polygon points="373.3,97.2 378.7,98.4 372.9,94.9 367.4,93.8" fill="#cfff00" stroke="#3e4c00"/>
<polygon points="184.4,85.7 190.5,83.3 185.3,84.2 179.3,86.6" fill="#b9cd00" stroke="#383e00"/>
<polygon points="390.4,106 395.8,107.4 390,103.5 384.6,102.1" fill="#80ff00" stroke="#264c00"/>
<polygon points="224.5,76.1 230.5,74.7 225.1,74.8 219.2,76.3" fill="#e78900" stroke="#452900"/>
<polygon points="344.7,86 350.3,86.7 344.6,84.1 339,83.4" fill="#ffbb00" stroke="#4c3800"/>
<polygon points="304.7,76.2 310.4,76.3 304.8,74.7 299,74.7" fill="#ff5900" stroke="#4c1b00"/>
<polygon points="98.3,129.6 104.4,125.1 99.7,127.4 93.6,132.1" fill="#009d64" stroke="#002f1e"/>
<polygon points="481.7,179.9 486.6,182.5 480.8,175.6 475.8,173.1" fill="#0002f8" stroke="#00014a"/>
<polygon points="453.2,151.7 458.3,154 452.4,148 447.3,145.8" fill="#00b6ff" stroke="#00374c"/>
<polygon points="430.4,132.7 435.6,134.7 429.7,129.4 424.5,127.5" fill="#00ff81" stroke="#004c27"/>
<polygon points="235.9,74.7 241.9,73.5 236.5,73.4 230.5,74.7" fill="#ee7200" stroke="#472200"/>
<polygon points="167.1,92.1 173.2,89.3 168.1,90.5 162,93.4" fill="#85c300" stroke="#283a00"/>
<polygon points="293.2,74.8 299,74.7 293.4,73.3 287.6,73.5" fill="#ff4c00" stroke="#4c1700"/>
<polygon points="195.7,82.5 201.8,80.4 196.6,81.1 190.5,83.3" fill="#d5c700" stroke="#403c00"/>
<polygon points="247.4,73.8 253.3,72.8 247.8,72.4 241.9,73.5" fill="#f65f00" stroke="#4a1c00"/>
<polygon points="115.3,118.5 121.5,114.4 116.7,116.5 110.5,120.7" fill="#00a624" stroke="#00320b"/>
<polygon points="281.8,73.8 287.6,73.5 282,72.4 276.2,72.8" fill="#ff4700" stroke="#4c1500"/>
<polygon points="258.8,73.3 264.7,72.5 259.2,71.9 253.3,72.8" fill="#fd5200" stroke="#4c1900"/>
<polygon points="270.3,73.3 276.2,72.8 270.6,71.9 264.7,72.5" fill="#ff4a00" stroke="#4c1600"/>
<polygon points="487.5,187 492.4,189.5 486.6,182.5 481.7,179.9" fill="#0004f4" stroke="#000149"/>
<polygon points="361.9,92.8 367.4,93.8 361.6,90.6 356.1,89.6" fill="#ffff00" stroke="#4c4c00"/>
<polygon points="149.8,99.7 155.9,96.5 150.9,98 144.8,101.3" fill="#4fb900" stroke="#183800"/>
<polygon points="132.5,108.5 138.6,104.8 133.7,106.7 127.6,110.4" fill="#19af00" stroke="#083400"/>
<polygon points="333.3,82.9 339,83.4 333.2,81 327.6,80.5" fill="#ff9200" stroke="#4c2c00"/>
<polygon points="413.4,120.8 418.7,122.6 412.8,117.8 407.5,116.1" fill="#02ff00" stroke="#014c00"/>
<polygon points="459.1,157.9 464.1,160.1 458.3,154 453.2,151.7" fill="#0080ff" stroke="#00264c"/>
<polygon points="379.1,100.8 384.6,102.1 378.7,98.4 373.3,97.2" fill="#b9ff00" stroke="#384c00"/>
<polygon points="396.3,110.2 401.6,111.7 395.8,107.4 390.4,106" fill="#65ff00" stroke="#1e4c00"/>
<polygon points="207.1,79.9 213.1,78 207.8,78.5 201.8,80.4" fill="#dca800" stroke="#423200"/>
<polygon points="92.1,134.4 98.3,129.6 93.6,132.1 87.5,136.9" fill="#009a76" stroke="#002e23"/>
<polygon points="436.3,138.1 441.5,140.1 435.6,134.7 430.4,132.7" fill="#00ffaf" stroke="#004c34"/>
<polygon points="493.4,194.2 498.2,196.8 492.4,189.5 487.5,187" fill="#0005ef" stroke="#000248"/>
<polygon points="178.3,88.2 184.4,85.7 179.3,86.6 173.2,89.3" fill="#adca00" stroke="#343d00"/>
<polygon points="321.9,80.2 327.6,80.5 321.8,78.4 316.1,78.1" fill="#ff7200" stroke="#4c2200"/>
<polygon points="350.5,88.9 356.1,89.6 350.3,86.7 344.7,86" fill="#ffcb00" stroke="#4c3d00"/>
<polygon points="465,164.2 470,166.5 464.1,160.1 459.1,157.9" fill="#0047ff" stroke="#00154c"/>
<polygon points="499.2,201.7 504,204.3 498.2,196.8 493.4,194.2" fill="#0004e7" stroke="#000145"/>
<polygon points="218.5,77.8 224.5,76.1 219.2,76.3 213.1,78" fill="#e48d00" stroke="#442a00"/>
<polygon points="109.2,122.8 115.3,118.5 110.5,120.7 104.4,125.1" fill="#00a336" stroke="#003110"/>
<polygon points="161,95.1 167.1,92.1 162,93.4 155.9,96.5" fill="#78c000" stroke="#243a00"/>
<polygon points="310.4,78 316.1,78.1 310.4,76.3 304.7,76.2" fill="#ff5900" stroke="#4c1b00"/>
<polygon points="419.3,125.7 424.5,127.5 418.7,122.6 413.4,120.8" fill="#00ff26" stroke="#004c0b"/>
<polygon points="126.4,112.4 132.5,108.5 127.6,110.4 121.5,114.4" fill="#09ac00" stroke="#033400"/>
<polygon points="442.2,143.8 447.3,145.8 441.5,140.1 436.3,138.1" fill="#00ffe0" stroke="#004c43"/>
<polygon points="143.6,103.2 149.8,99.7 144.8,101.3 138.6,104.8" fill="#41b600" stroke="#143700"/>
<polygon points="229.9,76.1 235.9,74.7 230.5,74.7 224.5,76.1" fill="#eb7400" stroke="#462300"/>
<polygon points="367.7,96.1 373.3,97.2 367.4,93.8 361.9,92.8" fill="#ecff00" stroke="#474c00"/>
<polygon points="189.7,84.9 195.7,82.5 190.5,83.3 184.4,85.7" fill="#d1ce00" stroke="#3f3e00"/>
<polygon points="86,139.3 92.1,134.4 87.5,136.9 81.3,141.8" fill="#009889" stroke="#002e29"/>
<polygon points="298.9,76.3 304.7,76.2 299,74.7 293.2,74.8" fill="#ff4900" stroke="#4c1600"/>
<polygon points="402.2,114.6 407.5,116.1 401.6,111.7 396.3,110.2" fill="#47ff00" stroke="#154c00"/>
<polygon points="470.8,170.8 475.8,173.1 470,166.5 465,164.2" fill="#000bff" stroke="#00034c"/>
<polygon points="385,104.7 390.4,106 384.6,102.1 379.1,100.8" fill="#a1ff00" stroke="#304c00"/>
<polygon points="339.1,85.4 344.7,86 339,83.4 333.3,82.9" fill="#ff9e00" stroke="#4c2f00"/>
<polygon points="241.4,75 247.4,73.8 241.9,73.5 235.9,74.7" fill="#f25f00" stroke="#491c00"/>
<polygon points="287.4,75.1 293.2,74.8 287.6,73.5 281.8,73.8" fill="#ff3f00" stroke="#4c1300"/>
<polygon points="252.9,74.3 258.8,73.3 253.3,72.8 247.4,73.8" fill="#fa4e00" stroke="#4b1700"/>
<polygon points="275.9,74.4 281.8,73.8 276.2,72.8 270.3,73.3" fill="#ff3e00" stroke="#4c1300"/>
<polygon points="264.4,74.1 270.3,73.3 264.7,72.5 258.8,73.3" fill="#ff4400" stroke="#4c1400"/>
<polygon points="201,82 207.1,79.9 201.8,80.4 195.7,82.5" fill="#d9af00" stroke="#413400"/>
<polygon points="172.2,91 178.3,88.2 173.2,89.3 167.1,92.1" fill="#9fc700" stroke="#303c00"/>
<polygon points="103,127.4 109.2,122.8 104.4,125.1 98.3,129.6" fill="#00a048" stroke="#003016"/>
<polygon points="425.2,130.9 430.4,132.7 424.5,127.5 419.3,125.7" fill="#00ff51" stroke="#004c18"/>
<polygon points="448.1,149.7 453.2,151.7 447.3,145.8 442.2,143.8" fill="#00ebff" stroke="#00464c"/>
<polygon points="476.7,177.6 481.7,179.9 475.8,173.1 470.8,170.8" fill="#0001fc" stroke="#00004c"/>
<polygon points="327.6,82.5 333.3,82.9 327.6,80.5 321.9,80.2" fill="#ff7a00" stroke="#4c2500"/>
<polygon points="356.3,91.9 361.9,92.8 356.1,89.6 350.5,88.9" fill="#ffde00" stroke="#4c4300"/>
<polygon points="79.8,144.4 86,139.3 81.3,141.8 75.2,147" fill="#008e95" stroke="#002b2d"/>
<polygon points="154.8,98.3 161,95.1 155.9,96.5 149.8,99.7" fill="#69bc00" stroke="#203800"/>
<polygon points="120.2,116.5 126.4,112.4 121.5,114.4 115.3,118.5" fill="#00a907" stroke="#003302"/>
<polygon points="408,119.2 413.4,120.8 407.5,116.1 402.2,114.6" fill="#28ff00" stroke="#0c4c00"/>
<polygon points="137.5,106.8 143.6,103.2 138.6,104.8 132.5,108.5" fill="#32b300" stroke="#0f3600"/>
<polygon points="212.5,79.6 218.5,77.8 213.1,78 207.1,79.9" fill="#e09200" stroke="#432c00"/>
<polygon points="373.6,99.7 379.1,100.8 373.3,97.2 367.7,96.1" fill="#d7ff00" stroke="#404c00"/>
<polygon points="482.6,184.6 487.5,187 481.7,179.9 476.7,177.6" fill="#0003f7" stroke="#00014a"/>
<polygon points="316.1,80 321.9,80.2 316.1,78.1 310.4,78" fill="#ff5d00" stroke="#4c1c00"/>
<polygon points="390.8,108.9 396.3,110.2 390.4,106 385,104.7" fill="#87ff00" stroke="#284c00"/>
<polygon points="454,155.7 459.1,157.9 453.2,151.7 448.1,149.7" fill="#00b4ff" stroke="#00364c"/>
<polygon points="183.6,87.4 189.7,84.9 184.4,85.7 178.3,88.2" fill="#c7ce00" stroke="#3c3e00"/>
<polygon points="431.1,136.3 436.3,138.1 430.4,132.7 425.2,130.9" fill="#00ff7f" stroke="#004c26"/>
<polygon points="223.9,77.7 229.9,76.1 224.5,76.1 218.5,77.8" fill="#e87700" stroke="#462400"/>
<polygon points="344.9,88.2 350.5,88.9 344.7,86 339.1,85.4" fill="#ffad00" stroke="#4c3400"/>
<polygon points="96.9,132.1 103,127.4 98.3,129.6 92.1,134.4" fill="#009d5a" stroke="#002f1b"/>
<polygon points="304.6,78.1 310.4,78 304.7,76.2 298.9,76.3" fill="#ff4800" stroke="#4c1600"/>
<polygon points="488.5,191.8 493.4,194.2 487.5,187 482.6,184.6" fill="#0004f3" stroke="#000149"/>
<polygon points="235.4,76.3 241.4,75 235.9,74.7 229.9,76.1" fill="#ef6100" stroke="#481d00"/>
<polygon points="166.1,94 172.2,91 167.1,92.1 161,95.1" fill="#91c400" stroke="#2c3b00"/>
<polygon points="293.1,76.6 298.9,76.3 293.2,74.8 287.4,75.1" fill="#ff3b00" stroke="#4c1200"/>
<polygon points="459.9,162.1 465,164.2 459.1,157.9 454,155.7" fill="#007cff" stroke="#00254c"/>
<polygon points="413.9,124.1 419.3,125.7 413.4,120.8 408,119.2" fill="#05ff00" stroke="#024c00"/>
<polygon points="114,120.8 120.2,116.5 115.3,118.5 109.2,122.8" fill="#00a619" stroke="#003208"/>
<polygon points="194.9,84.3 201,82 195.7,82.5 189.7,84.9" fill="#d6b700" stroke="#403700"/>
<polygon points="246.9,75.4 252.9,74.3 247.4,73.8 241.4,75" fill="#f74d00" stroke="#4a1700"/>
<polygon points="362.2,95.3 367.7,96.1 361.9,92.8 356.3,91.9" fill="#fff400" stroke="#4c4900"/>
<polygon points="281.5,75.6 287.4,75.1 281.8,73.8 275.9,74.4" fill="#ff3500" stroke="#4c1000"/>
<polygon points="494.3,199.2 499.2,201.7 493.4,194.2 488.5,191.8" fill="#0005ed" stroke="#000247"/>
<polygon points="258.4,75 264.4,74.1 258.8,73.3 252.9,74.3" fill="#fe4000" stroke="#4c1300"/>
<polygon points="270,75 275.9,74.4 270.3,73.3 264.4,74.1" fill="#ff3700" stroke="#4c1000"/>
<polygon points="148.7,101.7 154.8,98.3 149.8,99.7 143.6,103.2" fill="#59b900" stroke="#1b3800"/>
<polygon points="333.4,85 339.1,85.4 333.3,82.9 327.6,82.5" fill="#ff8400" stroke="#4c2800"/>
<polygon points="131.3,110.7 137.5,106.8 132.5,108.5 126.4,112.4" fill="#22af00" stroke="#0a3400"/>
<polygon points="437,141.9 442.2,143.8 436.3,138.1 431.1,136.3" fill="#00ffaf" stroke="#004c34"/>
<polygon points="396.7,113.2 402.2,114.6 396.3,110.2 390.8,108.9" fill="#6aff00" stroke="#204c00"/>
<polygon points="379.5,103.6 385,104.7 379.1,100.8 373.6,99.7" fill="#c0ff00" stroke="#3a4c00"/>
<polygon points="90.7,137 96.9,132.1 92.1,134.4 86,139.3" fill="#009b6d" stroke="#002e21"/>
<polygon points="206.4,81.6 212.5,79.6 207.1,79.9 201,82" fill="#dd9900" stroke="#422e00"/>
<polygon points="465.8,168.6 470.8,170.8 465,164.2 459.9,162.1" fill="#0040ff" stroke="#00134c"/>
<polygon points="177.4,90.1 183.6,87.4 178.3,88.2 172.2,91" fill="#b9cb00" stroke="#383d00"/>
<polygon points="321.9,82.3 327.6,82.5 321.9,80.2 316.1,80" fill="#ff6300" stroke="#4c1e00"/>
<polygon points="350.7,91.3 356.3,91.9 350.5,88.9 344.9,88.2" fill="#ffbf00" stroke="#4c3900"/>
<polygon points="419.9,129.2 425.2,130.9 419.3,125.7 413.9,124.1" fill="#00ff24" stroke="#004c0b"/>
<polygon points="442.9,147.7 448.1,149.7 442.2,143.8 437,141.9" fill="#00ffe2" stroke="#004c44"/>
<polygon points="107.8,125.3 114,120.8 109.2,122.8 103,127.4" fill="#00a32c" stroke="#00310d"/>
<polygon points="217.8,79.5 223.9,77.7 218.5,77.8 212.5,79.6" fill="#e57d00" stroke="#452600"/>
<polygon points="310.3,80 316.1,80 310.4,78 304.6,78.1" fill="#ff4a00" stroke="#4c1600"/>
<polygon points="159.9,97.1 166.1,94 161,95.1 154.8,98.3" fill="#82c000" stroke="#273a00"/>
<polygon points="471.7,175.3 476.7,177.6 470.8,170.8 465.8,168.6" fill="#0002ff" stroke="#00014c"/>
<polygon points="368.1,98.8 373.6,99.7 367.7,96.1 362.2,95.3" fill="#f3ff00" stroke="#494c00"/>
<polygon points="402.7,117.8 408,119.2 402.2,114.6 396.7,113.2" fill="#4bff00" stroke="#164c00"/>
<polygon points="125.1,114.7 131.3,110.7 126.4,112.4 120.2,116.5" fill="#12ad00" stroke="#053400"/>
<polygon points="142.5,105.3 148.7,101.7 143.6,103.2 137.5,106.8" fill="#4ab600" stroke="#163700"/>
<polygon points="84.5,142 90.7,137 86,139.3 79.8,144.4" fill="#009880" stroke="#002e26"/>
<polygon points="229.3,77.9 235.4,76.3 229.9,76.1 223.9,77.7" fill="#ec6400" stroke="#471e00"/>
<polygon points="385.4,107.7 390.8,108.9 385,104.7 379.5,103.6" fill="#a6ff00" stroke="#324c00"/>
<polygon points="188.8,86.7 194.9,84.3 189.7,84.9 183.6,87.4" fill="#d2c100" stroke="#3f3a00"/>
<polygon points="298.8,78.3 304.6,78.1 298.9,76.3 293.1,76.6" fill="#ff3900" stroke="#4c1100"/>
<polygon points="339.2,87.8 344.9,88.2 339.1,85.4 333.4,85" fill="#ff9200" stroke="#4c2c00"/>
<polygon points="240.9,76.7 246.9,75.4 241.4,75 235.4,76.3" fill="#f34e00" stroke="#491700"/>
<polygon points="477.6,182.3 482.6,184.6 476.7,177.6 471.7,175.3" fill="#0001fb" stroke="#00004b"/>
<polygon points="287.2,77 293.1,76.6 287.4,75.1 281.5,75.6" fill="#ff2f00" stroke="#4c0e00"/>
<polygon points="448.8,153.8 454,155.7 448.1,149.7 442.9,147.7" fill="#00e6ff" stroke="#00454c"/>
<polygon points="425.8,134.6 431.1,136.3 425.2,130.9 419.9,129.2" fill="#00ff51" stroke="#004c18"/>
<polygon points="252.4,76.1 258.4,75 252.9,74.3 246.9,75.4" fill="#fb3e00" stroke="#4b1300"/>
<polygon points="275.6,76.2 281.5,75.6 275.9,74.4 270,75" fill="#ff2d00" stroke="#4c0e00"/>
<polygon points="264,75.9 270,75 264.4,74.1 258.4,75" fill="#ff3300" stroke="#4c0f00"/>
<polygon points="101.6,129.9 107.8,125.3 103,127.4 96.9,132.1" fill="#00a13e" stroke="#003013"/>
<polygon points="171.3,93 177.4,90.1 172.2,91 166.1,94" fill="#aac800" stroke="#333c00"/>
<polygon points="200.3,83.8 206.4,81.6 201,82 194.9,84.3" fill="#daa100" stroke="#413000"/>
<polygon points="356.6,94.5 362.2,95.3 356.3,91.9 350.7,91.3" fill="#ffd500" stroke="#4c4000"/>
<polygon points="327.7,84.8 333.4,85 327.6,82.5 321.9,82.3" fill="#ff6d00" stroke="#4c2100"/>
<polygon points="483.5,189.5 488.5,191.8 482.6,184.6 477.6,182.3" fill="#0003f6" stroke="#00014a"/>
<polygon points="408.6,122.6 413.9,124.1 408,119.2 402.7,117.8" fill="#29ff00" stroke="#0c4c00"/>
<polygon points="118.9,119 125.1,114.7 120.2,116.5 114,120.8" fill="#02aa00" stroke="#013300"/>
<polygon points="153.8,100.5 159.9,97.1 154.8,98.3 148.7,101.7" fill="#72bd00" stroke="#223900"/>
<polygon points="454.8,160 459.9,162.1 454,155.7 448.8,153.8" fill="#00aeff" stroke="#00344c"/>
<polygon points="373.9,102.6 379.5,103.6 373.6,99.7 368.1,98.8" fill="#ddff00" stroke="#424c00"/>
<polygon points="391.3,112 396.7,113.2 390.8,108.9 385.4,107.7" fill="#8aff00" stroke="#294c00"/>
<polygon points="136.3,109.1 142.5,105.3 137.5,106.8 131.3,110.7" fill="#3ab300" stroke="#113600"/>
<polygon points="211.8,81.5 217.8,79.5 212.5,79.6 206.4,81.6" fill="#e18400" stroke="#442800"/>
<polygon points="431.7,140.1 437,141.9 431.1,136.3 425.8,134.6" fill="#00ff81" stroke="#004c27"/>
<polygon points="489.4,196.9 494.3,199.2 488.5,191.8 483.5,189.5" fill="#0004f2" stroke="#000149"/>
<polygon points="316.1,82.2 321.9,82.3 316.1,80 310.3,80" fill="#ff5000" stroke="#4c1800"/>
<polygon points="182.7,89.4 188.8,86.7 183.6,87.4 177.4,90.1" fill="#cfcb00" stroke="#3e3d00"/>
<polygon points="345,90.8 350.7,91.3 344.9,88.2 339.2,87.8" fill="#ffa300" stroke="#4c3100"/>
<polygon points="95.4,134.8 101.6,129.9 96.9,132.1 90.7,137" fill="#009e52" stroke="#002f19"/>
<polygon points="223.3,79.6 229.3,77.9 223.9,77.7 217.8,79.5" fill="#e96900" stroke="#462000"/>
<polygon points="460.7,166.5 465.8,168.6 459.9,162.1 454.8,160" fill="#0073ff" stroke="#00224c"/>
<polygon points="304.5,80.2 310.3,80 304.6,78.1 298.8,78.3" fill="#ff3a00" stroke="#4c1100"/>
<polygon points="414.5,127.7 419.9,129.2 413.9,124.1 408.6,122.6" fill="#05ff00" stroke="#024c00"/>
<polygon points="234.8,78.2 240.9,76.7 235.4,76.3 229.3,77.9" fill="#f05100" stroke="#481800"/>
<polygon points="165.1,96.1 171.3,93 166.1,94 159.9,97.1" fill="#9bc400" stroke="#2e3b00"/>
<polygon points="292.9,78.7 298.8,78.3 293.1,76.6 287.2,77" fill="#ff2c00" stroke="#4c0d00"/>
<polygon points="437.7,145.9 442.9,147.7 437,141.9 431.7,140.1" fill="#00ffb3" stroke="#004c36"/>
<polygon points="362.4,98 368.1,98.8 362.2,95.3 356.6,94.5" fill="#ffed00" stroke="#4c4700"/>
<polygon points="112.7,123.4 118.9,119 114,120.8 107.8,125.3" fill="#00a710" stroke="#003205"/>
<polygon points="194.1,86.3 200.3,83.8 194.9,84.3 188.8,86.7" fill="#d6ab00" stroke="#403300"/>
<polygon points="246.4,77.3 252.4,76.1 246.9,75.4 240.9,76.7" fill="#f73e00" stroke="#4a1300"/>
<polygon points="397.2,116.5 402.7,117.8 396.7,113.2 391.3,112" fill="#6cff00" stroke="#204c00"/>
<polygon points="281.3,77.6 287.2,77 281.5,75.6 275.6,76.2" fill="#ff2600" stroke="#4c0b00"/>
<polygon points="333.5,87.5 339.2,87.8 333.4,85 327.7,84.8" fill="#ff7a00" stroke="#4c2500"/>
<polygon points="379.8,106.6 385.4,107.7 379.5,103.6 373.9,102.6" fill="#c4ff00" stroke="#3b4c00"/>
<polygon points="147.6,104 153.8,100.5 148.7,101.7 142.5,105.3" fill="#62ba00" stroke="#1d3800"/>
<polygon points="258,76.9 264,75.9 258.4,75 252.4,76.1" fill="#fe3000" stroke="#4c0e00"/>
<polygon points="466.6,173.3 471.7,175.3 465.8,168.6 460.7,166.5" fill="#0036ff" stroke="#00104c"/>
<polygon points="269.6,77 275.6,76.2 270,75 264,75.9" fill="#ff2800" stroke="#4c0c00"/>
<polygon points="130.1,113.1 136.3,109.1 131.3,110.7 125.1,114.7" fill="#2ab000" stroke="#0d3500"/>
<polygon points="89.2,139.8 95.4,134.8 90.7,137 84.5,142" fill="#009b65" stroke="#002e1e"/>
<polygon points="205.6,83.6 211.8,81.5 206.4,81.6 200.3,83.8" fill="#de8c00" stroke="#432a00"/>
<polygon points="420.5,133 425.8,134.6 419.9,129.2 414.5,127.7" fill="#00ff26" stroke="#004c0b"/>
<polygon points="443.6,151.9 448.8,153.8 442.9,147.7 437.7,145.9" fill="#00ffe8" stroke="#004c46"/>
<polygon points="321.9,84.7 327.7,84.8 321.9,82.3 316.1,82.2" fill="#ff5800" stroke="#4c1a00"/>
<polygon points="472.5,180.2 477.6,182.3 471.7,175.3 466.6,173.3" fill="#0000fe" stroke="#00004c"/>
<polygon points="176.5,92.2 182.7,89.4 177.4,90.1 171.3,93" fill="#c3cc00" stroke="#3a3d00"/>
<polygon points="350.9,94 356.6,94.5 350.7,91.3 345,90.8" fill="#ffb800" stroke="#4c3700"/>
<polygon points="106.5,128 112.7,123.4 107.8,125.3 101.6,129.9" fill="#00a423" stroke="#00310a"/>
<polygon points="403.1,121.3 408.6,122.6 402.7,117.8 397.2,116.5" fill="#4bff00" stroke="#164c00"/>
<polygon points="217.2,81.5 223.3,79.6 217.8,79.5 211.8,81.5" fill="#e57000" stroke="#452200"/>
<polygon points="310.3,82.3 316.1,82.2 310.3,80 304.5,80.2" fill="#ff3e00" stroke="#4c1300"/>
<polygon points="368.3,101.8 373.9,102.6 368.1,98.8 362.4,98" fill="#f7ff00" stroke="#4a4c00"/>
<polygon points="158.9,99.4 165.1,96.1 159.9,97.1 153.8,100.5" fill="#8bc100" stroke="#2a3a00"/>
<polygon points="478.5,187.3 483.5,189.5 477.6,182.3 472.5,180.2" fill="#0002fa" stroke="#00014b"/>
<polygon points="385.8,110.9 391.3,112 385.4,107.7 379.8,106.6" fill="#a8ff00" stroke="#324c00"/>
<polygon points="123.9,117.3 130.1,113.1 125.1,114.7 118.9,119" fill="#1aad00" stroke="#083400"/>
<polygon points="141.4,107.8 147.6,104 142.5,105.3 136.3,109.1" fill="#52b700" stroke="#193700"/>
<polygon points="449.6,158.2 454.8,160 448.8,153.8 443.6,151.9" fill="#00deff" stroke="#00434c"/>
<polygon points="228.8,79.9 234.8,78.2 229.3,77.9 223.3,79.6" fill="#ed5500" stroke="#471a00"/>
<polygon points="188,88.9 194.1,86.3 188.8,86.7 182.7,89.4" fill="#d3b500" stroke="#3f3600"/>
<polygon points="298.6,80.5 304.5,80.2 298.8,78.3 292.9,78.7" fill="#ff2c00" stroke="#4c0d00"/>
<polygon points="426.4,138.5 431.7,140.1 425.8,134.6 420.5,133" fill="#00ff55" stroke="#004c1a"/>
<polygon points="339.3,90.4 345,90.8 339.2,87.8 333.5,87.5" fill="#ff8a00" stroke="#4c2900"/>
<polygon points="484.4,194.7 489.4,196.9 483.5,189.5 478.5,187.3" fill="#0003f5" stroke="#00014a"/>
<polygon points="240.4,78.8 246.4,77.3 240.9,76.7 234.8,78.2" fill="#f44000" stroke="#491300"/>
<polygon points="287,79.2 292.9,78.7 287.2,77 281.3,77.6" fill="#ff2200" stroke="#4c0a00"/>
<polygon points="252,78.1 258,76.9 252.4,76.1 246.4,77.3" fill="#fb2f00" stroke="#4b0e00"/>
<polygon points="275.3,78.4 281.3,77.6 275.6,76.2 269.6,77" fill="#ff1f00" stroke="#4c0900"/>
<polygon points="263.7,78 269.6,77 264,75.9 258,76.9" fill="#ff2400" stroke="#4c0b00"/>
<polygon points="100.3,132.8 106.5,128 101.6,129.9 95.4,134.8" fill="#00a136" stroke="#003010"/>
<polygon points="455.5,164.6 460.7,166.5 454.8,160 449.6,158.2" fill="#00a4ff" stroke="#00314c"/>
<polygon points="409.1,126.3 414.5,127.7 408.6,122.6 403.1,121.3" fill="#27ff00" stroke="#0c4c00"/>
<polygon points="356.8,97.4 362.4,98 356.6,94.5 350.9,94" fill="#ffcf00" stroke="#4c3e00"/>
<polygon points="170.3,95.3 176.5,92.2 171.3,93 165.1,96.1" fill="#b3c800" stroke="#363c00"/>
<polygon points="199.5,86 205.6,83.6 200.3,83.8 194.1,86.3" fill="#db9600" stroke="#422d00"/>
<polygon points="327.7,87.3 333.5,87.5 327.7,84.8 321.9,84.7" fill="#ff6400" stroke="#4c1e00"/>
<polygon points="432.4,144.3 437.7,145.9 431.7,140.1 426.4,138.5" fill="#00ff87" stroke="#004c28"/>
<polygon points="391.7,115.4 397.2,116.5 391.3,112 385.8,110.9" fill="#8aff00" stroke="#294c00"/>
<polygon points="374.3,105.8 379.8,106.6 373.9,102.6 368.3,101.8" fill="#dfff00" stroke="#434c00"/>
<polygon points="117.6,121.7 123.9,117.3 118.9,119 112.7,123.4" fill="#09aa00" stroke="#033300"/>
<polygon points="152.7,102.9 158.9,99.4 153.8,100.5 147.6,104" fill="#7bbe00" stroke="#253900"/>
<polygon points="135.1,111.7 141.4,107.8 136.3,109.1 130.1,113.1" fill="#42b400" stroke="#143600"/>
<polygon points="211.1,83.6 217.2,81.5 211.8,81.5 205.6,83.6" fill="#e27800" stroke="#442400"/>
<polygon points="316.1,84.7 321.9,84.7 316.1,82.2 310.3,82.3" fill="#ff4600" stroke="#4c1500"/>
<polygon points="461.5,171.3 466.6,173.3 460.7,166.5 455.5,164.6" fill="#0067ff" stroke="#001f4c"/>
<polygon points="345.2,93.6 350.9,94 345,90.8 339.3,90.4" fill="#ff9e00" stroke="#4c2f00"/>
<polygon points="181.8,91.7 188,88.9 182.7,89.4 176.5,92.2" fill="#d0c100" stroke="#3e3a00"/>
<polygon points="94,137.8 100.3,132.8 95.4,134.8 89.2,139.8" fill="#009e49" stroke="#002f16"/>
<polygon points="415.1,131.6 420.5,133 414.5,127.7 409.1,126.3" fill="#02ff00" stroke="#014c00"/>
<polygon points="222.7,81.8 228.8,79.9 223.3,79.6 217.2,81.5" fill="#ea5d00" stroke="#461c00"/>
<polygon points="304.4,82.6 310.3,82.3 304.5,80.2 298.6,80.5" fill="#ff3000" stroke="#4c0e00"/>
<polygon points="438.3,150.2 443.6,151.9 437.7,145.9 432.4,144.3" fill="#00ffbb" stroke="#004c38"/>
<polygon points="467.4,178.2 472.5,180.2 466.6,173.3 461.5,171.3" fill="#0027ff" stroke="#000c4c"/>
<polygon points="362.7,101.1 368.3,101.8 362.4,98 356.8,97.4" fill="#ffea00" stroke="#4c4600"/>
<polygon points="397.7,120.2 403.1,121.3 397.2,116.5 391.7,115.4" fill="#6aff00" stroke="#204c00"/>
<polygon points="234.3,80.4 240.4,78.8 234.8,78.2 228.8,79.9" fill="#f14500" stroke="#481500"/>
<polygon points="292.7,81 298.6,80.5 292.9,78.7 287,79.2" fill="#ff2100" stroke="#4c0a00"/>
<polygon points="164.1,98.5 170.3,95.3 165.1,96.1 158.9,99.4" fill="#a3c500" stroke="#313b00"/>
<polygon points="111.4,126.2 117.6,121.7 112.7,123.4 106.5,128" fill="#00a708" stroke="#003202"/>
<polygon points="380.2,110 385.8,110.9 379.8,106.6 374.3,105.8" fill="#c4ff00" stroke="#3b4c00"/>
<polygon points="333.6,90.2 339.3,90.4 333.5,87.5 327.7,87.3" fill="#ff7300" stroke="#4c2200"/>
<polygon points="193.3,88.5 199.5,86 194.1,86.3 188,88.9" fill="#d7a000" stroke="#403000"/>
<polygon points="246,79.5 252,78.1 246.4,77.3 240.4,78.8" fill="#f83200" stroke="#4a0f00"/>
<polygon points="281,79.9 287,79.2 281.3,77.6 275.3,78.4" fill="#ff1a00" stroke="#4c0800"/>
<polygon points="146.5,106.6 152.7,102.9 147.6,104 141.4,107.8" fill="#6abb00" stroke="#203800"/>
<polygon points="128.9,115.8 135.1,111.7 130.1,113.1 123.9,117.3" fill="#32b100" stroke="#0f3500"/>
<polygon points="257.6,79.2 263.7,78 258,76.9 252,78.1" fill="#ff2300" stroke="#4c0a00"/>
<polygon points="269.3,79.3 275.3,78.4 269.6,77 263.7,78" fill="#ff1b00" stroke="#4c0800"/>
<polygon points="473.4,185.3 478.5,187.3 472.5,180.2 467.4,178.2" fill="#0001fd" stroke="#00004c"/>
<polygon points="444.3,156.4 449.6,158.2 443.6,151.9 438.3,150.2" fill="#00fff3" stroke="#004c49"/>
<polygon points="421,137.1 426.4,138.5 420.5,133 415.1,131.6" fill="#00ff2c" stroke="#004c0d"/>
<polygon points="321.9,87.3 327.7,87.3 321.9,84.7 316.1,84.7" fill="#ff5100" stroke="#4c1800"/>
<polygon points="204.9,85.9 211.1,83.6 205.6,83.6 199.5,86" fill="#df8100" stroke="#432700"/>
<polygon points="351.1,97 356.8,97.4 350.9,94 345.2,93.6" fill="#ffb400" stroke="#4c3600"/>
<polygon points="479.3,192.7 484.4,194.7 478.5,187.3 473.4,185.3" fill="#0002f9" stroke="#00014b"/>
<polygon points="175.6,94.7 181.8,91.7 176.5,92.2 170.3,95.3" fill="#cccc00" stroke="#3d3d00"/>
<polygon points="403.6,125.1 409.1,126.3 403.1,121.3 397.7,120.2" fill="#47ff00" stroke="#154c00"/>
<polygon points="105.2,131 111.4,126.2 106.5,128 100.3,132.8" fill="#00a41b" stroke="#003108"/>
<polygon points="450.3,162.9 455.5,164.6 449.6,158.2 444.3,156.4" fill="#00d2ff" stroke="#003f4c"/>
<polygon points="368.6,105.1 374.3,105.8 368.3,101.8 362.7,101.1" fill="#f8ff00" stroke="#4a4c00"/>
<polygon points="386.2,114.5 391.7,115.4 385.8,110.9 380.2,110" fill="#a7ff00" stroke="#324c00"/>
<polygon points="310.2,85 316.1,84.7 310.3,82.3 304.4,82.6" fill="#ff3600" stroke="#4c1000"/>
<polygon points="216.5,83.8 222.7,81.8 217.2,81.5 211.1,83.6" fill="#e66400" stroke="#451e00"/>
<polygon points="157.9,102 164.1,98.5 158.9,99.4 152.7,102.9" fill="#93c200" stroke="#2c3a00"/>
<polygon points="427,142.8 432.4,144.3 426.4,138.5 421,137.1" fill="#00ff5e" stroke="#004c1c"/>
<polygon points="122.6,120.2 128.9,115.8 123.9,117.3 117.6,121.7" fill="#21ae00" stroke="#0a3400"/>
<polygon points="140.2,110.5 146.5,106.6 141.4,107.8 135.1,111.7" fill="#5ab700" stroke="#1b3700"/>
<polygon points="339.5,93.3 345.2,93.6 339.3,90.4 333.6,90.2" fill="#ff8600" stroke="#4c2800"/>
<polygon points="298.5,83.1 304.4,82.6 298.6,80.5 292.7,81" fill="#ff2300" stroke="#4c0a00"/>
<polygon points="187.1,91.3 193.3,88.5 188,88.9 181.8,91.7" fill="#d4ac00" stroke="#403400"/>
<polygon points="228.2,82.2 234.3,80.4 228.8,79.9 222.7,81.8" fill="#ee4b00" stroke="#471600"/>
<polygon points="456.3,169.5 461.5,171.3 455.5,164.6 450.3,162.9" fill="#0095ff" stroke="#002d4c"/>
<polygon points="286.8,81.7 292.7,81 287,79.2 281,79.9" fill="#ff1800" stroke="#4c0700"/>
<polygon points="239.9,81.1 246,79.5 240.4,78.8 234.3,80.4" fill="#f53500" stroke="#4a1000"/>
<polygon points="409.6,130.3 415.1,131.6 409.1,126.3 403.6,125.1" fill="#22ff00" stroke="#0a4c00"/>
<polygon points="98.9,135.9 105.2,131 100.3,132.8 94,137.8" fill="#00a12f" stroke="#00300e"/>
<polygon points="275,80.8 281,79.9 275.3,78.4 269.3,79.3" fill="#ff1500" stroke="#4c0600"/>
<polygon points="251.6,80.5 257.6,79.2 252,78.1 246,79.5" fill="#fc2500" stroke="#4c0b00"/>
<polygon points="357,100.6 362.7,101.1 356.8,97.4 351.1,97" fill="#ffce00" stroke="#4c3e00"/>
<polygon points="263.3,80.4 269.3,79.3 263.7,78 257.6,79.2" fill="#ff1900" stroke="#4c0800"/>
<polygon points="433,148.7 438.3,150.2 432.4,144.3 427,142.8" fill="#00ff91" stroke="#004c2c"/>
<polygon points="327.8,90.2 333.6,90.2 327.7,87.3 321.9,87.3" fill="#ff5f00" stroke="#4c1c00"/>
<polygon points="169.4,97.9 175.6,94.7 170.3,95.3 164.1,98.5" fill="#bbc900" stroke="#383c00"/>
<polygon points="392.1,119.1 397.7,120.2 391.7,115.4 386.2,114.5" fill="#87ff00" stroke="#284c00"/>
<polygon points="198.7,88.4 204.9,85.9 199.5,86 193.3,88.5" fill="#db8c00" stroke="#422a00"/>
<polygon points="374.6,109.2 380.2,110 374.3,105.8 368.6,105.1" fill="#deff00" stroke="#434c00"/>
<polygon points="462.3,176.4 467.4,178.2 461.5,171.3 456.3,169.5" fill="#0056ff" stroke="#001a4c"/>
<polygon points="116.4,124.7 122.6,120.2 117.6,121.7 111.4,126.2" fill="#10ab00" stroke="#053300"/>
<polygon points="151.6,105.6 157.9,102 152.7,102.9 146.5,106.6" fill="#82be00" stroke="#273900"/>
<polygon points="134,114.6 140.2,110.5 135.1,111.7 128.9,115.8" fill="#49b400" stroke="#163600"/>
<polygon points="316,87.5 321.9,87.3 316.1,84.7 310.2,85" fill="#ff4000" stroke="#4c1300"/>
<polygon points="210.4,86.1 216.5,83.8 211.1,83.6 204.9,85.9" fill="#e36e00" stroke="#442100"/>
<polygon points="415.6,135.8 421,137.1 415.1,131.6 409.6,130.3" fill="#00ff06" stroke="#004c02"/>
<polygon points="439,154.9 444.3,156.4 438.3,150.2 433,148.7" fill="#00ffc8" stroke="#004c3c"/>
<polygon points="345.4,96.7 351.1,97 345.2,93.6 339.5,93.3" fill="#ff9b00" stroke="#4c2e00"/>
<polygon points="468.2,183.5 473.4,185.3 467.4,178.2 462.3,176.4" fill="#0014ff" stroke="#00064c"/>
<polygon points="180.9,94.2 187.1,91.3 181.8,91.7 175.6,94.7" fill="#d0b900" stroke="#3e3800"/>
<polygon points="304.3,85.4 310.2,85 304.4,82.6 298.5,83.1" fill="#ff2800" stroke="#4c0c00"/>
<polygon points="222,84.2 228.2,82.2 222.7,81.8 216.5,83.8" fill="#ea5300" stroke="#461900"/>
<polygon points="398.1,124.1 403.6,125.1 397.7,120.2 392.1,119.1" fill="#65ff00" stroke="#1e4c00"/>
<polygon points="363,104.5 368.6,105.1 362.7,101.1 357,100.6" fill="#ffeb00" stroke="#4c4600"/>
<polygon points="474.2,190.8 479.3,192.7 473.4,185.3 468.2,183.5" fill="#0001fc" stroke="#00004c"/>
<polygon points="380.6,113.7 386.2,114.5 380.2,110 374.6,109.2" fill="#c1ff00" stroke="#3a4c00"/>
<polygon points="110.1,129.4 116.4,124.7 111.4,126.2 105.2,131" fill="#00a801" stroke="#003200"/>
<polygon points="292.5,83.7 298.5,83.1 292.7,81 286.8,81.7" fill="#ff1900" stroke="#4c0800"/>
<polygon points="163.1,101.3 169.4,97.9 164.1,98.5 157.9,102" fill="#abc600" stroke="#333b00"/>
<polygon points="233.7,82.9 239.9,81.1 234.3,80.4 228.2,82.2" fill="#f23b00" stroke="#491200"/>
<polygon points="445,161.3 450.3,162.9 444.3,156.4 439,154.9" fill="#00fdff" stroke="#004c4c"/>
<polygon points="333.7,93.3 339.5,93.3 333.6,90.2 327.8,90.2" fill="#ff7000" stroke="#4c2200"/>
<polygon points="421.6,141.4 427,142.8 421,137.1 415.6,135.8" fill="#00ff37" stroke="#004c10"/>
<polygon points="192.5,91.1 198.7,88.4 193.3,88.5 187.1,91.3" fill="#d89800" stroke="#412e00"/>
<polygon points="280.8,82.5 286.8,81.7 281,79.9 275,80.8" fill="#ff1100" stroke="#4c0500"/>
<polygon points="245.5,82.1 251.6,80.5 246,79.5 239.9,81.1" fill="#f92700" stroke="#4b0c00"/>
<polygon points="127.7,118.8 134,114.6 128.9,115.8 122.6,120.2" fill="#38b100" stroke="#113500"/>
<polygon points="145.4,109.5 151.6,105.6 146.5,106.6 140.2,110.5" fill="#71bb00" stroke="#223800"/>
<polygon points="269,81.9 275,80.8 269.3,79.3 263.3,80.4" fill="#ff1200" stroke="#4c0500"/>
<polygon points="257.2,81.7 263.3,80.4 257.6,79.2 251.6,80.5" fill="#ff1900" stroke="#4c0800"/>
<polygon points="351.3,100.3 357,100.6 351.1,97 345.4,96.7" fill="#ffb400" stroke="#4c3600"/>
<polygon points="321.9,90.3 327.8,90.2 321.9,87.3 316,87.5" fill="#ff4d00" stroke="#4c1700"/>
<polygon points="451,167.9 456.3,169.5 450.3,162.9 445,161.3" fill="#00c2ff" stroke="#003a4c"/>
<polygon points="404.1,129.2 409.6,130.3 403.6,125.1 398.1,124.1" fill="#40ff00" stroke="#134c00"/>
<polygon points="204.2,88.5 210.4,86.1 204.9,85.9 198.7,88.4" fill="#df7900" stroke="#432400"/>
<polygon points="174.7,97.4 180.9,94.2 175.6,94.7 169.4,97.9" fill="#cdc700" stroke="#3e3c00"/>
<polygon points="368.9,108.6 374.6,109.2 368.6,105.1 363,104.5" fill="#f5ff00" stroke="#4a4c00"/>
<polygon points="103.8,134.3 110.1,129.4 105.2,131 98.9,135.9" fill="#00a514" stroke="#003206"/>
<polygon points="386.6,118.3 392.1,119.1 386.2,114.5 380.6,113.7" fill="#a2ff00" stroke="#314c00"/>
<polygon points="427.6,147.3 433,148.7 427,142.8 421.6,141.4" fill="#00ff6a" stroke="#004c20"/>
<polygon points="310.1,87.9 316,87.5 310.2,85 304.3,85.4" fill="#ff3100" stroke="#4c0f00"/>
<polygon points="215.9,86.4 222,84.2 216.5,83.8 210.4,86.1" fill="#e75c00" stroke="#451c00"/>
<polygon points="156.9,104.8 163.1,101.3 157.9,102 151.6,105.6" fill="#99c200" stroke="#2e3a00"/>
<polygon points="457,174.7 462.3,176.4 456.3,169.5 451,167.9" fill="#0083ff" stroke="#00274c"/>
<polygon points="121.4,123.3 127.7,118.8 122.6,120.2 116.4,124.7" fill="#27ae00" stroke="#0c3400"/>
<polygon points="139.1,113.5 145.4,109.5 140.2,110.5 134,114.6" fill="#60b800" stroke="#1d3700"/>
<polygon points="339.6,96.6 345.4,96.7 339.5,93.3 333.7,93.3" fill="#ff8500" stroke="#4c2800"/>
<polygon points="298.4,85.9 304.3,85.4 298.5,83.1 292.5,83.7" fill="#ff1d00" stroke="#4c0900"/>
<polygon points="186.3,94 192.5,91.1 187.1,91.3 180.9,94.2" fill="#d5a500" stroke="#403200"/>
<polygon points="410.1,134.6 415.6,135.8 409.6,130.3 404.1,129.2" fill="#1aff00" stroke="#084c00"/>
<polygon points="227.6,84.9 233.7,82.9 228.2,82.2 222,84.2" fill="#ee4200" stroke="#471400"/>
<polygon points="433.7,153.5 439,154.9 433,148.7 427.6,147.3" fill="#00ff9f" stroke="#004c30"/>
<polygon points="286.6,84.5 292.5,83.7 286.8,81.7 280.8,82.5" fill="#ff1100" stroke="#4c0500"/>
<polygon points="463,181.8 468.2,183.5 462.3,176.4 457,174.7" fill="#0042ff" stroke="#00144c"/>
<polygon points="239.4,83.8 245.5,82.1 239.9,81.1 233.7,82.9" fill="#f62c00" stroke="#4a0d00"/>
<polygon points="357.3,104.1 363,104.5 357,100.6 351.3,100.3" fill="#ffd100" stroke="#4c3f00"/>
<polygon points="392.6,123.2 398.1,124.1 392.1,119.1 386.6,118.3" fill="#80ff00" stroke="#264c00"/>
<polygon points="274.7,83.6 280.8,82.5 275,80.8 269,81.9" fill="#ff0d00" stroke="#4c0400"/>
<polygon points="251.1,83.2 257.2,81.7 251.6,80.5 245.5,82.1" fill="#fd1c00" stroke="#4c0800"/>
<polygon points="262.9,83.1 269,81.9 263.3,80.4 257.2,81.7" fill="#ff1100" stroke="#4c0500"/>
<polygon points="374.9,113 380.6,113.7 374.6,109.2 368.9,108.6" fill="#d9ff00" stroke="#414c00"/>
<polygon points="327.8,93.3 333.7,93.3 327.8,90.2 321.9,90.3" fill="#ff5d00" stroke="#4c1c00"/>
<polygon points="168.4,100.7 174.7,97.4 169.4,97.9 163.1,101.3" fill="#c1ca00" stroke="#3a3d00"/>
<polygon points="198,91.2 204.2,88.5 198.7,88.4 192.5,91.1" fill="#dc8500" stroke="#422800"/>
<polygon points="115.1,128 121.4,123.3 116.4,124.7 110.1,129.4" fill="#16ab00" stroke="#073300"/>
<polygon points="469,189.1 474.2,190.8 468.2,183.5 463,181.8" fill="#0000ff" stroke="#00004c"/>
<polygon points="439.7,159.8 445,161.3 439,154.9 433.7,153.5" fill="#00ffd8" stroke="#004c41"/>
<polygon points="416.2,140.3 421.6,141.4 415.6,135.8 410.1,134.6" fill="#00ff12" stroke="#004c05"/>
<polygon points="150.6,108.6 156.9,104.8 151.6,105.6 145.4,109.5" fill="#88bf00" stroke="#293900"/>
<polygon points="132.8,117.7 139.1,113.5 134,114.6 127.7,118.8" fill="#4fb500" stroke="#183600"/>
<polygon points="316,90.6 321.9,90.3 316,87.5 310.1,87.9" fill="#ff3d00" stroke="#4c1200"/>
<polygon points="345.5,100.1 351.3,100.3 345.4,96.7 339.6,96.6" fill="#ff9d00" stroke="#4c2f00"/>
<polygon points="209.7,88.8 215.9,86.4 210.4,86.1 204.2,88.5" fill="#e46800" stroke="#441f00"/>
<polygon points="398.6,128.3 404.1,129.2 398.1,124.1 392.6,123.2" fill="#5dff00" stroke="#1c4c00"/>
<polygon points="180,97.1 186.3,94 180.9,94.2 174.7,97.4" fill="#d1b300" stroke="#3f3600"/>
<polygon points="304.2,88.4 310.1,87.9 304.3,85.4 298.4,85.9" fill="#ff2500" stroke="#4c0b00"/>
<polygon points="363.2,108.2 368.9,108.6 363,104.5 357.3,104.1" fill="#fff000" stroke="#4c4800"/>
<polygon points="445.7,166.4 451,167.9 445,161.3 439.7,159.8" fill="#00ebff" stroke="#00464c"/>
<polygon points="380.9,117.6 386.6,118.3 380.6,113.7 374.9,113" fill="#bbff00" stroke="#384c00"/>
<polygon points="221.4,87 227.6,84.9 222,84.2 215.9,86.4" fill="#eb4c00" stroke="#461700"/>
<polygon points="422.2,146.1 427.6,147.3 421.6,141.4 416.2,140.3" fill="#00ff44" stroke="#004c14"/>
<polygon points="108.8,132.8 115.1,128 110.1,129.4 103.8,134.3" fill="#05a800" stroke="#023200"/>
<polygon points="292.4,86.7 298.4,85.9 292.5,83.7 286.6,84.5" fill="#ff1400" stroke="#4c0600"/>
<polygon points="333.7,96.6 339.6,96.6 333.7,93.3 327.8,93.3" fill="#ff7100" stroke="#4c2200"/>
<polygon points="162.1,104.3 168.4,100.7 163.1,101.3 156.9,104.8" fill="#b0c600" stroke="#353b00"/>
<polygon points="233.2,85.7 239.4,83.8 233.7,82.9 227.6,84.9" fill="#f33300" stroke="#490f00"/>
<polygon points="126.5,122.2 132.8,117.7 127.7,118.8 121.4,123.3" fill="#3db200" stroke="#123500"/>
<polygon points="280.5,85.5 286.6,84.5 280.8,82.5 274.7,83.6" fill="#ff0c00" stroke="#4c0400"/>
<polygon points="191.7,94 198,91.2 192.5,91.1 186.3,94" fill="#d99200" stroke="#412c00"/>
<polygon points="144.3,112.6 150.6,108.6 145.4,109.5 139.1,113.5" fill="#76bc00" stroke="#233800"/>
<polygon points="245,84.9 251.1,83.2 245.5,82.1 239.4,83.8" fill="#fa2000" stroke="#4b0a00"/>
<polygon points="451.7,173.2 457,174.7 451,167.9 445.7,166.4" fill="#00aeff" stroke="#00344c"/>
<polygon points="268.7,84.8 274.7,83.6 269,81.9 262.9,83.1" fill="#ff0c00" stroke="#4c0400"/>
<polygon points="256.8,84.6 262.9,83.1 257.2,81.7 251.1,83.2" fill="#ff1300" stroke="#4c0600"/>
<polygon points="404.6,133.7 410.1,134.6 404.1,129.2 398.6,128.3" fill="#36ff00" stroke="#104c00"/>
<polygon points="351.5,103.9 357.3,104.1 351.3,100.3 345.5,100.1" fill="#ffb800" stroke="#4c3700"/>
<polygon points="321.9,93.6 327.8,93.3 321.9,90.3 316,90.6" fill="#ff4c00" stroke="#4c1700"/>
<polygon points="428.2,152.2 433.7,153.5 427.6,147.3 422.2,146.1" fill="#00ff79" stroke="#004c24"/>
<polygon points="386.9,122.5 392.6,123.2 386.6,118.3 380.9,117.6" fill="#9aff00" stroke="#2e4c00"/>
<polygon points="369.2,112.5 374.9,113 368.9,108.6 363.2,108.2" fill="#f0ff00" stroke="#484c00"/>
<polygon points="203.4,91.5 209.7,88.8 204.2,88.5 198,91.2" fill="#e07300" stroke="#432200"/>
<polygon points="173.8,100.4 180,97.1 174.7,97.4 168.4,100.7" fill="#cec200" stroke="#3e3a00"/>
<polygon points="457.8,180.2 463,181.8 457,174.7 451.7,173.2" fill="#006eff" stroke="#00214c"/>
<polygon points="310.1,91.1 316,90.6 310.1,87.9 304.2,88.4" fill="#ff3000" stroke="#4c0e00"/>
<polygon points="155.8,108 162.1,104.3 156.9,104.8 150.6,108.6" fill="#9ec300" stroke="#2f3a00"/>
<polygon points="120.2,126.8 126.5,122.2 121.4,123.3 115.1,128" fill="#2daf00" stroke="#0e3400"/>
<polygon points="215.2,89.4 221.4,87 215.9,86.4 209.7,88.8" fill="#e85600" stroke="#461a00"/>
<polygon points="339.7,100.1 345.5,100.1 339.6,96.6 333.7,96.6" fill="#ff8800" stroke="#4c2900"/>
<polygon points="410.7,139.2 416.2,140.3 410.1,134.6 404.6,133.7" fill="#0eff00" stroke="#044c00"/>
<polygon points="434.3,158.5 439.7,159.8 433.7,153.5 428.2,152.2" fill="#00ffb1" stroke="#004c35"/>
<polygon points="138,116.8 144.3,112.6 139.1,113.5 132.8,117.7" fill="#65b900" stroke="#1e3800"/>
<polygon points="463.8,187.5 469,189.1 463,181.8 457.8,180.2" fill="#002bff" stroke="#000d4c"/>
<polygon points="298.2,89.1 304.2,88.4 298.4,85.9 292.4,86.7" fill="#ff1b00" stroke="#4c0800"/>
<polygon points="185.4,97.1 191.7,94 186.3,94 180,97.1" fill="#d5a100" stroke="#403000"/>
<polygon points="227,87.8 233.2,85.7 227.6,84.9 221.4,87" fill="#ef3d00" stroke="#481200"/>
<polygon points="357.5,108 363.2,108.2 357.3,104.1 351.5,103.9" fill="#ffd700" stroke="#4c4000"/>
<polygon points="393,127.5 398.6,128.3 392.6,123.2 386.9,122.5" fill="#77ff00" stroke="#244c00"/>
<polygon points="286.3,87.6 292.4,86.7 286.6,84.5 280.5,85.5" fill="#ff0e00" stroke="#4c0400"/>
<polygon points="238.9,86.8 245,84.9 239.4,83.8 233.2,85.7" fill="#f72800" stroke="#4a0c00"/>
<polygon points="375.2,117.1 380.9,117.6 374.9,113 369.2,112.5" fill="#d2ff00" stroke="#3f4c00"/>
<polygon points="274.5,86.7 280.5,85.5 274.7,83.6 268.7,84.8" fill="#ff0900" stroke="#4c0300"/>
<polygon points="327.9,96.8 333.7,96.6 327.8,93.3 321.9,93.6" fill="#ff5f00" stroke="#4c1c00"/>
<polygon points="250.7,86.2 256.8,84.6 251.1,83.2 245,84.9" fill="#fe1700" stroke="#4c0700"/>
<polygon points="440.3,165.1 445.7,166.4 439.7,159.8 434.3,158.5" fill="#00ffeb" stroke="#004c46"/>
<polygon points="262.6,86.2 268.7,84.8 262.9,83.1 256.8,84.6" fill="#ff0c00" stroke="#4c0400"/>
<polygon points="167.5,103.9 173.8,100.4 168.4,100.7 162.1,104.3" fill="#c6ca00" stroke="#3b3d00"/>
<polygon points="416.7,145.1 422.2,146.1 416.2,140.3 410.7,139.2" fill="#00ff21" stroke="#004c0a"/>
<polygon points="197.2,94.2 203.4,91.5 198,91.2 191.7,94" fill="#dd8100" stroke="#422700"/>
<polygon points="113.8,131.6 120.2,126.8 115.1,128 108.8,132.8" fill="#1cac00" stroke="#083400"/>
<polygon points="149.5,112 155.8,108 150.6,108.6 144.3,112.6" fill="#8dc000" stroke="#2a3a00"/>
<polygon points="131.6,121.2 138,116.8 132.8,117.7 126.5,122.2" fill="#53b500" stroke="#193600"/>
<polygon points="316,94.1 321.9,93.6 316,90.6 310.1,91.1" fill="#ff3e00" stroke="#4c1300"/>
<polygon points="345.7,103.9 351.5,103.9 345.5,100.1 339.7,100.1" fill="#ffa300" stroke="#4c3100"/>
<polygon points="446.4,171.8 451.7,173.2 445.7,166.4 440.3,165.1" fill="#00d6ff" stroke="#00404c"/>
<polygon points="399,132.8 404.6,133.7 398.6,128.3 393,127.5" fill="#51ff00" stroke="#184c00"/>
<polygon points="209,91.9 215.2,89.4 209.7,88.8 203.4,91.5" fill="#e46200" stroke="#441d00"/>
<polygon points="363.5,112.2 369.2,112.5 363.2,108.2 357.5,108" fill="#fff900" stroke="#4c4b00"/>
<polygon points="381.3,121.9 386.9,122.5 380.9,117.6 375.2,117.1" fill="#b2ff00" stroke="#354c00"/>
<polygon points="179.2,100.3 185.4,97.1 180,97.1 173.8,100.4" fill="#d2af00" stroke="#3f3400"/>
<polygon points="422.8,151.1 428.2,152.2 422.2,146.1 416.7,145.1" fill="#00ff55" stroke="#004c1a"/>
<polygon points="304.1,91.8 310.1,91.1 304.2,88.4 298.2,89.1" fill="#ff2500" stroke="#4c0b00"/>
<polygon points="220.8,90.1 227,87.8 221.4,87 215.2,89.4" fill="#ec4700" stroke="#471500"/>
<polygon points="452.4,178.8 457.8,180.2 451.7,173.2 446.4,171.8" fill="#0097ff" stroke="#002d4c"/>
<polygon points="333.8,100.3 339.7,100.1 333.7,96.6 327.9,96.8" fill="#ff7600" stroke="#4c2300"/>
<polygon points="292.2,90 298.2,89.1 292.4,86.7 286.3,87.6" fill="#ff1400" stroke="#4c0600"/>
<polygon points="161.1,107.6 167.5,103.9 162.1,104.3 155.8,108" fill="#b3c700" stroke="#363c00"/>
<polygon points="232.7,88.8 238.9,86.8 233.2,85.7 227,87.8" fill="#f33000" stroke="#490e00"/>
<polygon points="125.3,125.8 131.6,121.2 126.5,122.2 120.2,126.8" fill="#42b200" stroke="#143500"/>
<polygon points="405.1,138.4 410.7,139.2 404.6,133.7 399,132.8" fill="#2aff00" stroke="#0d4c00"/>
<polygon points="280.3,88.8 286.3,87.6 280.5,85.5 274.5,86.7" fill="#ff0a00" stroke="#4c0300"/>
<polygon points="143.2,116.1 149.5,112 144.3,112.6 138,116.8" fill="#7bbc00" stroke="#253800"/>
<polygon points="190.9,97.2 197.2,94.2 191.7,94 185.4,97.1" fill="#d98f00" stroke="#412b00"/>
<polygon points="244.5,88 250.7,86.2 245,84.9 238.9,86.8" fill="#fa1c00" stroke="#4b0800"/>
<polygon points="428.8,157.4 434.3,158.5 428.2,152.2 422.8,151.1" fill="#00ff8c" stroke="#004c2a"/>
<polygon points="268.4,88 274.5,86.7 268.7,84.8 262.6,86.2" fill="#ff0900" stroke="#4c0300"/>
<polygon points="256.4,87.8 262.6,86.2 256.8,84.6 250.7,86.2" fill="#ff1000" stroke="#4c0500"/>
<polygon points="351.7,107.9 357.5,108 351.5,103.9 345.7,103.9" fill="#ffc000" stroke="#4c3a00"/>
<polygon points="458.5,186 463.8,187.5 457.8,180.2 452.4,178.8" fill="#0055ff" stroke="#001a4c"/>
<polygon points="387.3,126.9 393,127.5 386.9,122.5 381.3,121.9" fill="#8fff00" stroke="#2b4c00"/>
<polygon points="321.9,97.2 327.9,96.8 321.9,93.6 316,94.1" fill="#ff5000" stroke="#4c1800"/>
<polygon points="369.5,116.7 375.2,117.1 369.2,112.5 363.5,112.2" fill="#e7ff00" stroke="#454c00"/>
<polygon points="202.7,94.7 209,91.9 203.4,91.5 197.2,94.2" fill="#e17000" stroke="#442200"/>
<polygon points="172.8,103.8 179.2,100.3 173.8,100.4 167.5,103.9" fill="#cebe00" stroke="#3e3900"/>
<polygon points="434.9,163.9 440.3,165.1 434.3,158.5 428.8,157.4" fill="#00ffc5" stroke="#004c3b"/>
<polygon points="411.2,144.2 416.7,145.1 410.7,139.2 405.1,138.4" fill="#00ff01" stroke="#004c00"/>
<polygon points="310,94.7 316,94.1 310.1,91.1 304.1,91.8" fill="#ff3200" stroke="#4c0f00"/>
<polygon points="339.8,104 345.7,103.9 339.7,100.1 333.8,100.3" fill="#ff8f00" stroke="#4c2b00"/>
<polygon points="118.9,130.5 125.3,125.8 120.2,126.8 113.8,131.6" fill="#31af00" stroke="#0f3400"/>
<polygon points="154.8,111.5 161.1,107.6 155.8,108 149.5,112" fill="#a2c400" stroke="#313b00"/>
<polygon points="214.6,92.6 220.8,90.1 215.2,89.4 209,91.9" fill="#e85400" stroke="#461900"/>
<polygon points="136.8,120.4 143.2,116.1 138,116.8 131.6,121.2" fill="#69b900" stroke="#203800"/>
<polygon points="298.1,92.6 304.1,91.8 298.2,89.1 292.2,90" fill="#ff1d00" stroke="#4c0900"/>
<polygon points="393.4,132.2 399,132.8 393,127.5 387.3,126.9" fill="#6aff00" stroke="#204c00"/>
<polygon points="357.7,112.1 363.5,112.2 357.5,108 351.7,107.9" fill="#ffe100" stroke="#4c4400"/>
<polygon points="184.6,100.4 190.9,97.2 185.4,97.1 179.2,100.3" fill="#d69e00" stroke="#402f00"/>
<polygon points="226.4,91.1 232.7,88.8 227,87.8 220.8,90.1" fill="#f03a00" stroke="#481100"/>
<polygon points="441,170.6 446.4,171.8 440.3,165.1 434.9,163.9" fill="#00fdff" stroke="#004c4c"/>
<polygon points="375.6,121.5 381.3,121.9 375.2,117.1 369.5,116.7" fill="#c7ff00" stroke="#3c4c00"/>
<polygon points="286.1,91.1 292.2,90 286.3,87.6 280.3,88.8" fill="#ff0f00" stroke="#4c0400"/>
<polygon points="417.2,150.2 422.8,151.1 416.7,145.1 411.2,144.2" fill="#00ff34" stroke="#004c10"/>
<polygon points="238.3,90.1 244.5,88 238.9,86.8 232.7,88.8" fill="#f72500" stroke="#4a0b00"/>
<polygon points="327.9,100.7 333.8,100.3 327.9,96.8 321.9,97.2" fill="#ff6500" stroke="#4c1e00"/>
<polygon points="274.2,90.1 280.3,88.8 274.5,86.7 268.4,88" fill="#ff0900" stroke="#4c0300"/>
<polygon points="250.3,89.5 256.4,87.8 250.7,86.2 244.5,88" fill="#fe1500" stroke="#4c0600"/>
<polygon points="262.2,89.5 268.4,88 262.6,86.2 256.4,87.8" fill="#ff0b00" stroke="#4c0300"/>
<polygon points="166.5,107.4 172.8,103.8 167.5,103.9 161.1,107.6" fill="#c9cb00" stroke="#3c3d00"/>
<polygon points="196.4,97.6 202.7,94.7 197.2,94.2 190.9,97.2" fill="#dd7f00" stroke="#422600"/>
<polygon points="447.1,177.6 452.4,178.8 446.4,171.8 441,170.6" fill="#00beff" stroke="#00394c"/>
<polygon points="148.5,115.6 154.8,111.5 149.5,112 143.2,116.1" fill="#90c000" stroke="#2b3a00"/>
<polygon points="399.5,137.7 405.1,138.4 399,132.8 393.4,132.2" fill="#43ff00" stroke="#144c00"/>
<polygon points="130.5,125 136.8,120.4 131.6,121.2 125.3,125.8" fill="#58b600" stroke="#1a3700"/>
<polygon points="345.8,108 351.7,107.9 345.7,103.9 339.8,104" fill="#ffac00" stroke="#4c3400"/>
<polygon points="316,97.8 321.9,97.2 316,94.1 310,94.7" fill="#ff4300" stroke="#4c1400"/>
<polygon points="423.3,156.4 428.8,157.4 422.8,151.1 417.2,150.2" fill="#00ff6a" stroke="#004c20"/>
<polygon points="381.6,126.5 387.3,126.9 381.3,121.9 375.6,121.5" fill="#a5ff00" stroke="#324c00"/>
<polygon points="363.7,116.6 369.5,116.7 363.5,112.2 357.7,112.1" fill="#faff00" stroke="#4b4c00"/>
<polygon points="208.3,95.3 214.6,92.6 209,91.9 202.7,94.7" fill="#e56100" stroke="#451d00"/>
<polygon points="453.1,184.8 458.5,186 452.4,178.8 447.1,177.6" fill="#007dff" stroke="#00264c"/>
<polygon points="178.3,103.8 184.6,100.4 179.2,100.3 172.8,103.8" fill="#d2ad00" stroke="#3f3400"/>
<polygon points="304,95.5 310,94.7 304.1,91.8 298.1,92.6" fill="#ff2900" stroke="#4c0c00"/>
<polygon points="220.2,93.5 226.4,91.1 220.8,90.1 214.6,92.6" fill="#ec4600" stroke="#471500"/>
<polygon points="333.9,104.3 339.8,104 333.8,100.3 327.9,100.7" fill="#ff7e00" stroke="#4c2600"/>
<polygon points="405.6,143.4 411.2,144.2 405.1,138.4 399.5,137.7" fill="#1aff00" stroke="#084c00"/>
<polygon points="292,93.7 298.1,92.6 292.2,90 286.1,91.1" fill="#ff1700" stroke="#4c0700"/>
<polygon points="429.4,162.9 434.9,163.9 428.8,157.4 423.3,156.4" fill="#00ffa2" stroke="#004c31"/>
<polygon points="160.2,111.3 166.5,107.4 161.1,107.6 154.8,111.5" fill="#b6c800" stroke="#373c00"/>
<polygon points="232.1,92.3 238.3,90.1 232.7,88.8 226.4,91.1" fill="#f42f00" stroke="#490e00"/>
<polygon points="124.1,129.7 130.5,125 125.3,125.8 118.9,130.5" fill="#46b300" stroke="#153600"/>
<polygon points="280,92.4 286.1,91.1 280.3,88.8 274.2,90.1" fill="#ff0d00" stroke="#4c0400"/>
<polygon points="142.1,119.9 148.5,115.6 143.2,116.1 136.8,120.4" fill="#7ebd00" stroke="#263900"/>
<polygon points="190.1,100.8 196.4,97.6 190.9,97.2 184.6,100.4" fill="#da8e00" stroke="#412b00"/>
<polygon points="351.8,112.1 357.7,112.1 351.7,107.9 345.8,108" fill="#ffcc00" stroke="#4c3d00"/>
<polygon points="244.1,91.5 250.3,89.5 244.5,88 238.3,90.1" fill="#fb1d00" stroke="#4b0900"/>
<polygon points="387.7,131.7 393.4,132.2 387.3,126.9 381.6,126.5" fill="#81ff00" stroke="#274c00"/>
<polygon points="268,91.6 274.2,90.1 268.4,88 262.2,89.5" fill="#ff0a00" stroke="#4c0300"/>
<polygon points="256.1,91.3 262.2,89.5 256.4,87.8 250.3,89.5" fill="#ff1000" stroke="#4c0500"/>
<polygon points="369.8,121.3 375.6,121.5 369.5,116.7 363.7,116.6" fill="#dbff00" stroke="#424c00"/>
<polygon points="321.9,101.2 327.9,100.7 321.9,97.2 316,97.8" fill="#ff5800" stroke="#4c1a00"/>
<polygon points="435.5,169.6 441,170.6 434.9,163.9 429.4,162.9" fill="#00ffdd" stroke="#004c42"/>
<polygon points="411.7,149.4 417.2,150.2 411.2,144.2 405.6,143.4" fill="#00ff15" stroke="#004c06"/>
<polygon points="202,98.2 208.3,95.3 202.7,94.7 196.4,97.6" fill="#e16f00" stroke="#442100"/>
<polygon points="171.9,107.4 178.3,103.8 172.8,103.8 166.5,107.4" fill="#cfbc00" stroke="#3e3800"/>
<polygon points="310,98.6 316,97.8 310,94.7 304,95.5" fill="#ff3900" stroke="#4c1100"/>
<polygon points="339.9,108.2 345.8,108 339.8,104 333.9,104.3" fill="#ff9a00" stroke="#4c2e00"/>
<polygon points="153.8,115.3 160.2,111.3 154.8,111.5 148.5,115.6" fill="#a5c400" stroke="#323b00"/>
<polygon points="393.8,137.2 399.5,137.7 393.4,132.2 387.7,131.7" fill="#5bff00" stroke="#1b4c00"/>
<polygon points="441.6,176.5 447.1,177.6 441,170.6 435.5,169.6" fill="#00e4ff" stroke="#00444c"/>
<polygon points="213.9,96.2 220.2,93.5 214.6,92.6 208.3,95.3" fill="#e95400" stroke="#461900"/>
<polygon points="135.7,124.3 142.1,119.9 136.8,120.4 130.5,125" fill="#6dba00" stroke="#213800"/>
<polygon points="297.9,96.5 304,95.5 298.1,92.6 292,93.7" fill="#ff2200" stroke="#4c0a00"/>
<polygon points="357.9,116.6 363.7,116.6 357.7,112.1 351.8,112.1" fill="#fff000" stroke="#4c4800"/>
<polygon points="375.9,126.2 381.6,126.5 375.6,121.5 369.8,121.3" fill="#baff00" stroke="#384c00"/>
<polygon points="417.8,155.6 423.3,156.4 417.2,150.2 411.7,149.4" fill="#00ff49" stroke="#004c16"/>
<polygon points="183.8,104.1 190.1,100.8 184.6,100.4 178.3,103.8" fill="#d69d00" stroke="#402f00"/>
<polygon points="225.9,94.7 232.1,92.3 226.4,91.1 220.2,93.5" fill="#f03b00" stroke="#481200"/>
<polygon points="285.9,94.9 292,93.7 286.1,91.1 280,92.4" fill="#ff1400" stroke="#4c0600"/>
<polygon points="327.9,104.8 333.9,104.3 327.9,100.7 321.9,101.2" fill="#ff7000" stroke="#4c2200"/>
<polygon points="447.7,183.6 453.1,184.8 447.1,177.6 441.6,176.5" fill="#00a4ff" stroke="#00314c"/>
<polygon points="237.8,93.7 244.1,91.5 238.3,90.1 232.1,92.3" fill="#f82700" stroke="#4a0c00"/>
<polygon points="273.9,93.8 280,92.4 274.2,90.1 268,91.6" fill="#ff0d00" stroke="#4c0400"/>
<polygon points="249.8,93.2 256.1,91.3 250.3,89.5 244.1,91.5" fill="#ff1700" stroke="#4c0700"/>
<polygon points="261.9,93.3 268,91.6 262.2,89.5 256.1,91.3" fill="#ff0e00" stroke="#4c0400"/>
<polygon points="165.6,111.2 171.9,107.4 166.5,107.4 160.2,111.3" fill="#cbcb00" stroke="#3d3d00"/>
<polygon points="399.9,142.9 405.6,143.4 399.5,137.7 393.8,137.2" fill="#32ff00" stroke="#0f4c00"/>
<polygon points="195.7,101.3 202,98.2 196.4,97.6 190.1,100.8" fill="#de7f00" stroke="#432600"/>
<polygon points="423.9,162 429.4,162.9 423.3,156.4 417.8,155.6" fill="#00ff81" stroke="#004c27"/>
<polygon points="346,112.4 351.8,112.1 345.8,108 339.9,108.2" fill="#ffba00" stroke="#4c3800"/>
<polygon points="147.4,119.5 153.8,115.3 148.5,115.6 142.1,119.9" fill="#92c100" stroke="#2c3a00"/>
<polygon points="315.9,101.9 321.9,101.2 316,97.8 310,98.6" fill="#ff4d00" stroke="#4c1700"/>
<polygon points="129.3,129 135.7,124.3 130.5,125 124.1,129.7" fill="#5bb700" stroke="#1b3700"/>
<polygon points="382,131.4 387.7,131.7 381.6,126.5 375.9,126.2" fill="#96ff00" stroke="#2d4c00"/>
<polygon points="364,121.2 369.8,121.3 363.7,116.6 357.9,116.6" fill="#edff00" stroke="#474c00"/>
<polygon points="207.6,99 213.9,96.2 208.3,95.3 202,98.2" fill="#e66200" stroke="#451d00"/>
<polygon points="303.9,99.5 310,98.6 304,95.5 297.9,96.5" fill="#ff3100" stroke="#4c0f00"/>
<polygon points="177.4,107.7 183.8,104.1 178.3,103.8 171.9,107.4" fill="#d3ad00" stroke="#3f3400"/>
<polygon points="430,168.7 435.5,169.6 429.4,162.9 423.9,162" fill="#00ffbb" stroke="#004c38"/>
<polygon points="406,148.8 411.7,149.4 405.6,143.4 399.9,142.9" fill="#07ff00" stroke="#024c00"/>
<polygon points="334,108.7 339.9,108.2 333.9,104.3 327.9,104.8" fill="#ff8b00" stroke="#4c2a00"/>
<polygon points="219.6,97.3 225.9,94.7 220.2,93.5 213.9,96.2" fill="#ed4800" stroke="#471600"/>
<polygon points="291.9,97.7 297.9,96.5 292,93.7 285.9,94.9" fill="#ff1e00" stroke="#4c0900"/>
<polygon points="159.2,115.2 165.6,111.2 160.2,111.3 153.8,115.3" fill="#b8c800" stroke="#373c00"/>
<polygon points="388.1,136.8 393.8,137.2 387.7,131.7 382,131.4" fill="#71ff00" stroke="#224c00"/>
<polygon points="231.6,96.1 237.8,93.7 232.1,92.3 225.9,94.7" fill="#f43200" stroke="#490f00"/>
<polygon points="352,116.7 357.9,116.6 351.8,112.1 346,112.4" fill="#ffdc00" stroke="#4c4200"/>
<polygon points="279.8,96.3 285.9,94.9 280,92.4 273.9,93.8" fill="#ff1300" stroke="#4c0600"/>
<polygon points="141,124 147.4,119.5 142.1,119.9 135.7,124.3" fill="#81bd00" stroke="#273900"/>
<polygon points="189.3,104.6 195.7,101.3 190.1,100.8 183.8,104.1" fill="#da8e00" stroke="#412b00"/>
<polygon points="370.1,126.1 375.9,126.2 369.8,121.3 364,121.2" fill="#ccff00" stroke="#3d4c00"/>
<polygon points="436.1,175.6 441.6,176.5 435.5,169.6 430,168.7" fill="#00fff7" stroke="#004c4a"/>
<polygon points="243.6,95.3 249.8,93.2 244.1,91.5 237.8,93.7" fill="#fc2100" stroke="#4c0a00"/>
<polygon points="267.7,95.5 273.9,93.8 268,91.6 261.9,93.3" fill="#ff1000" stroke="#4c0500"/>
<polygon points="255.7,95.1 261.9,93.3 256.1,91.3 249.8,93.2" fill="#ff1500" stroke="#4c0600"/>
<polygon points="321.9,105.5 327.9,104.8 321.9,101.2 315.9,101.9" fill="#ff6400" stroke="#4c1e00"/>
<polygon points="412.2,154.9 417.8,155.6 411.7,149.4 406,148.8" fill="#00ff2b" stroke="#004c0d"/>
<polygon points="201.3,102.1 207.6,99 202,98.2 195.7,101.3" fill="#e27100" stroke="#442200"/>
<polygon points="171,111.4 177.4,107.7 171.9,107.4 165.6,111.2" fill="#cfbd00" stroke="#3e3900"/>
<polygon points="442.3,182.7 447.7,183.6 441.6,176.5 436.1,175.6" fill="#00c8ff" stroke="#003c4c"/>
<polygon points="309.9,102.8 315.9,101.9 310,98.6 303.9,99.5" fill="#ff4400" stroke="#4c1400"/>
<polygon points="340,112.8 346,112.4 339.9,108.2 334,108.7" fill="#ffaa00" stroke="#4c3300"/>
<polygon points="394.2,142.5 399.9,142.9 393.8,137.2 388.1,136.8" fill="#49ff00" stroke="#164c00"/>
<polygon points="152.8,119.4 159.2,115.2 153.8,115.3 147.4,119.5" fill="#a6c500" stroke="#323b00"/>
<polygon points="418.3,161.3 423.9,162 417.8,155.6 412.2,154.9" fill="#00ff62" stroke="#004c1d"/>
<polygon points="358.1,121.4 364,121.2 357.9,116.6 352,116.7" fill="#fdff00" stroke="#4c4c00"/>
<polygon points="376.2,131.3 382,131.4 375.9,126.2 370.1,126.1" fill="#a9ff00" stroke="#334c00"/>
<polygon points="134.6,128.6 141,124 135.7,124.3 129.3,129" fill="#6fba00" stroke="#213800"/>
<polygon points="213.2,100.1 219.6,97.3 213.9,96.2 207.6,99" fill="#ea5700" stroke="#461a00"/>
<polygon points="297.8,100.7 303.9,99.5 297.9,96.5 291.9,97.7" fill="#ff2c00" stroke="#4c0d00"/>
<polygon points="182.9,108.1 189.3,104.6 183.8,104.1 177.4,107.7" fill="#d79e00" stroke="#402f00"/>
<polygon points="225.3,98.6 231.6,96.1 225.9,94.7 219.6,97.3" fill="#f13f00" stroke="#481300"/>
<polygon points="328,109.3 334,108.7 327.9,104.8 321.9,105.5" fill="#ff7e00" stroke="#4c2600"/>
<polygon points="285.7,99 291.9,97.7 285.9,94.9 279.8,96.3" fill="#ff1d00" stroke="#4c0900"/>
<polygon points="237.3,97.7 243.6,95.3 237.8,93.7 231.6,96.1" fill="#f82c00" stroke="#4a0d00"/>
<polygon points="400.4,148.4 406,148.8 399.9,142.9 394.2,142.5" fill="#1fff00" stroke="#094c00"/>
<polygon points="273.6,97.9 279.8,96.3 273.9,93.8 267.7,95.5" fill="#ff1500" stroke="#4c0600"/>
<polygon points="424.4,168 430,168.7 423.9,162 418.3,161.3" fill="#00ff9b" stroke="#004c2e"/>
<polygon points="249.4,97.2 255.7,95.1 249.8,93.2 243.6,95.3" fill="#ff1e00" stroke="#4c0900"/>
<polygon points="261.5,97.3 267.7,95.5 261.9,93.3 255.7,95.1" fill="#ff1600" stroke="#4c0700"/>
<polygon points="164.6,115.3 171,111.4 165.6,111.2 159.2,115.2" fill="#cbcc00" stroke="#3d3d00"/>
<polygon points="346.1,117.1 352,116.7 346,112.4 340,112.8" fill="#ffcb00" stroke="#4c3d00"/>
<polygon points="194.9,105.3 201.3,102.1 195.7,101.3 189.3,104.6" fill="#df8100" stroke="#432700"/>
<polygon points="382.3,136.6 388.1,136.8 382,131.4 376.2,131.3" fill="#84ff00" stroke="#284c00"/>
<polygon points="315.9,106.4 321.9,105.5 315.9,101.9 309.9,102.8" fill="#ff5a00" stroke="#4c1b00"/>
<polygon points="364.2,126.2 370.1,126.1 364,121.2 358.1,121.4" fill="#ddff00" stroke="#424c00"/>
<polygon points="146.4,123.8 152.8,119.4 147.4,119.5 141,124" fill="#94c100" stroke="#2c3a00"/>
<polygon points="430.6,174.8 436.1,175.6 430,168.7 424.4,168" fill="#00ffd6" stroke="#004c40"/>
<polygon points="406.5,154.5 412.2,154.9 406,148.8 400.4,148.4" fill="#00ff0f" stroke="#004c04"/>
<polygon points="206.9,103.1 213.2,100.1 207.6,99 201.3,102.1" fill="#e66600" stroke="#451f00"/>
<polygon points="303.8,103.9 309.9,102.8 303.9,99.5 297.8,100.7" fill="#ff3e00" stroke="#4c1300"/>
<polygon points="176.5,111.8 182.9,108.1 177.4,107.7 171,111.4" fill="#d3af00" stroke="#3f3400"/>
<polygon points="334,113.4 340,112.8 334,108.7 328,109.3" fill="#ff9c00" stroke="#4c2f00"/>
<polygon points="219,101.4 225.3,98.6 219.6,97.3 213.2,100.1" fill="#ed4d00" stroke="#471700"/>
<polygon points="291.7,102 297.8,100.7 291.9,97.7 285.7,99" fill="#ff2a00" stroke="#4c0d00"/>
<polygon points="388.5,142.3 394.2,142.5 388.1,136.8 382.3,136.6" fill="#5dff00" stroke="#1c4c00"/>
<polygon points="436.7,181.9 442.3,182.7 436.1,175.6 430.6,174.8" fill="#00eaff" stroke="#00464c"/>
<polygon points="352.2,121.7 358.1,121.4 352,116.7 346.1,117.1" fill="#fff000" stroke="#4c4800"/>
<polygon points="158.2,119.5 164.6,115.3 159.2,115.2 152.8,119.4" fill="#b9c900" stroke="#383c00"/>
<polygon points="370.4,131.3 376.2,131.3 370.1,126.1 364.2,126.2" fill="#bbff00" stroke="#384c00"/>
<polygon points="231,100.2 237.3,97.7 231.6,96.1 225.3,98.6" fill="#f53900" stroke="#4a1100"/>
<polygon points="279.5,100.6 285.7,99 279.8,96.3 273.6,97.9" fill="#ff1e00" stroke="#4c0900"/>
<polygon points="412.7,160.8 418.3,161.3 412.2,154.9 406.5,154.5" fill="#00ff45" stroke="#004c15"/>
<polygon points="139.9,128.4 146.4,123.8 141,124 134.6,128.6" fill="#82be00" stroke="#273900"/>
<polygon points="188.5,108.8 194.9,105.3 189.3,104.6 182.9,108.1" fill="#db9200" stroke="#422c00"/>
<polygon points="243.1,99.5 249.4,97.2 243.6,95.3 237.3,97.7" fill="#fc2900" stroke="#4c0c00"/>
<polygon points="267.4,99.7 273.6,97.9 267.7,95.5 261.5,97.3" fill="#ff1a00" stroke="#4c0800"/>
<polygon points="322,110.1 328,109.3 321.9,105.5 315.9,106.4" fill="#ff7400" stroke="#4c2300"/>
<polygon points="255.3,99.3 261.5,97.3 255.7,95.1 249.4,97.2" fill="#ff1e00" stroke="#4c0900"/>
<polygon points="394.6,148.1 400.4,148.4 394.2,142.5 388.5,142.3" fill="#34ff00" stroke="#104c00"/>
<polygon points="200.5,106.3 206.9,103.1 201.3,102.1 194.9,105.3" fill="#e37600" stroke="#442300"/>
<polygon points="340.1,117.7 346.1,117.1 340,112.8 334,113.4" fill="#ffbd00" stroke="#4c3900"/>
<polygon points="170.1,115.7 176.5,111.8 171,111.4 164.6,115.3" fill="#d0bf00" stroke="#3e3900"/>
<polygon points="309.8,107.4 315.9,106.4 309.9,102.8 303.8,103.9" fill="#ff5300" stroke="#4c1900"/>
<polygon points="418.8,167.4 424.4,168 418.3,161.3 412.7,160.8" fill="#00ff7d" stroke="#004c26"/>
<polygon points="376.5,136.6 382.3,136.6 376.2,131.3 370.4,131.3" fill="#97ff00" stroke="#2d4c00"/>
<polygon points="358.3,126.5 364.2,126.2 358.1,121.4 352.2,121.7" fill="#ecff00" stroke="#474c00"/>
<polygon points="151.8,123.8 158.2,119.5 152.8,119.4 146.4,123.8" fill="#a6c500" stroke="#323b00"/>
<polygon points="212.6,104.3 219,101.4 213.2,100.1 206.9,103.1" fill="#ea5d00" stroke="#461c00"/>
<polygon points="297.7,105.2 303.8,103.9 297.8,100.7 291.7,102" fill="#ff3b00" stroke="#4c1200"/>
<polygon points="425,174.2 430.6,174.8 424.4,168 418.8,167.4" fill="#00ffb7" stroke="#004c37"/>
<polygon points="328,114.2 334,113.4 328,109.3 322,110.1" fill="#ff9100" stroke="#4c2c00"/>
<polygon points="182.1,112.4 188.5,108.8 182.9,108.1 176.5,111.8" fill="#d7a200" stroke="#403100"/>
<polygon points="400.8,154.2 406.5,154.5 400.4,148.4 394.6,148.1" fill="#09ff00" stroke="#034c00"/>
<polygon points="224.7,102.9 231,100.2 225.3,98.6 219,101.4" fill="#f14700" stroke="#481500"/>
<polygon points="285.5,103.5 291.7,102 285.7,99 279.5,100.6" fill="#ff2a00" stroke="#4c0d00"/>
<polygon points="236.8,102 243.1,99.5 237.3,97.7 231,100.2" fill="#f93500" stroke="#4b1000"/>
<polygon points="273.3,102.4 279.5,100.6 273.6,97.9 267.4,99.7" fill="#ff2200" stroke="#4c0a00"/>
<polygon points="249,101.6 255.3,99.3 249.4,97.2 243.1,99.5" fill="#ff2800" stroke="#4c0c00"/>
<polygon points="261.2,101.7 267.4,99.7 261.5,97.3 255.3,99.3" fill="#ff2100" stroke="#4c0a00"/>
<polygon points="346.2,122.2 352.2,121.7 346.1,117.1 340.1,117.7" fill="#ffe000" stroke="#4c4300"/>
<polygon points="382.7,142.2 388.5,142.3 382.3,136.6 376.5,136.6" fill="#70ff00" stroke="#224c00"/>
<polygon points="163.7,119.8 170.1,115.7 164.6,115.3 158.2,119.5" fill="#cbcd00" stroke="#3d3e00"/>
<polygon points="364.5,131.6 370.4,131.3 364.2,126.2 358.3,126.5" fill="#caff00" stroke="#3d4c00"/>
<polygon points="315.9,111.2 322,110.1 315.9,106.4 309.8,107.4" fill="#ff6c00" stroke="#4c2000"/>
<polygon points="431.2,181.2 436.7,181.9 430.6,174.8 425,174.2" fill="#00fff4" stroke="#004c49"/>
<polygon points="194.1,109.7 200.5,106.3 194.9,105.3 188.5,108.8" fill="#df8700" stroke="#432800"/>
<polygon points="145.3,128.3 151.8,123.8 146.4,123.8 139.9,128.4" fill="#95c200" stroke="#2d3a00"/>
<polygon points="407,160.5 412.7,160.8 406.5,154.5 400.8,154.2" fill="#00ff2a" stroke="#004c0d"/>
<polygon points="303.7,108.7 309.8,107.4 303.8,103.9 297.7,105.2" fill="#ff4f00" stroke="#4c1800"/>
<polygon points="206.2,107.5 212.6,104.3 206.9,103.1 200.5,106.3" fill="#e76d00" stroke="#452100"/>
<polygon points="334.1,118.4 340.1,117.7 334,113.4 328,114.2" fill="#ffb100" stroke="#4c3500"/>
<polygon points="175.7,116.3 182.1,112.4 176.5,111.8 170.1,115.7" fill="#d4b300" stroke="#403600"/>
<polygon points="388.8,148 394.6,148.1 388.5,142.3 382.7,142.2" fill="#48ff00" stroke="#164c00"/>
<polygon points="291.5,106.7 297.7,105.2 291.7,102 285.5,103.5" fill="#ff3a00" stroke="#4c1100"/>
<polygon points="218.3,105.8 224.7,102.9 219,101.4 212.6,104.3" fill="#ee5600" stroke="#471a00"/>
<polygon points="352.4,127 358.3,126.5 352.2,121.7 346.2,122.2" fill="#f9ff00" stroke="#4b4c00"/>
<polygon points="413.1,167 418.8,167.4 412.7,160.8 407,160.5" fill="#00ff61" stroke="#004c1d"/>
<polygon points="370.6,136.8 376.5,136.6 370.4,131.3 364.5,131.6" fill="#a7ff00" stroke="#324c00"/>
<polygon points="157.2,124.1 163.7,119.8 158.2,119.5 151.8,123.8" fill="#b9c900" stroke="#383c00"/>
<polygon points="279.3,105.3 285.5,103.5 279.5,100.6 273.3,102.4" fill="#ff2d00" stroke="#4c0e00"/>
<polygon points="230.5,104.7 236.8,102 231,100.2 224.7,102.9" fill="#f54200" stroke="#4a1400"/>
<polygon points="322,115.1 328,114.2 322,110.1 315.9,111.2" fill="#ff8800" stroke="#4c2900"/>
<polygon points="267.1,104.3 273.3,102.4 267.4,99.7 261.2,101.7" fill="#ff2800" stroke="#4c0c00"/>
<polygon points="187.7,113.3 194.1,109.7 188.5,108.8 182.1,112.4" fill="#db9700" stroke="#422d00"/>
<polygon points="242.7,104 249,101.6 243.1,99.5 236.8,102" fill="#fc3400" stroke="#4c1000"/>
<polygon points="254.9,103.9 261.2,101.7 255.3,99.3 249,101.6" fill="#ff2b00" stroke="#4c0d00"/>
<polygon points="395,154 400.8,154.2 394.6,148.1 388.8,148" fill="#1dff00" stroke="#094c00"/>
<polygon points="419.3,173.8 425,174.2 418.8,167.4 413.1,167" fill="#00ff9a" stroke="#004c2e"/>
<polygon points="340.2,122.9 346.2,122.2 340.1,117.7 334.1,118.4" fill="#ffd400" stroke="#4c4000"/>
<polygon points="309.8,112.4 315.9,111.2 309.8,107.4 303.7,108.7" fill="#ff6700" stroke="#4c1f00"/>
<polygon points="199.8,110.8 206.2,107.5 200.5,106.3 194.1,109.7" fill="#e37e00" stroke="#442600"/>
<polygon points="169.2,120.3 175.7,116.3 170.1,115.7 163.7,119.8" fill="#d0c300" stroke="#3e3a00"/>
<polygon points="376.8,142.4 382.7,142.2 376.5,136.6 370.6,136.8" fill="#81ff00" stroke="#274c00"/>
<polygon points="358.5,132 364.5,131.6 358.3,126.5 352.4,127" fill="#d8ff00" stroke="#414c00"/>
<polygon points="150.8,128.6 157.2,124.1 151.8,123.8 145.3,128.3" fill="#a6c600" stroke="#323b00"/>
<polygon points="425.5,180.8 431.2,181.2 425,174.2 419.3,173.8" fill="#00ffd5" stroke="#004c40"/>
<polygon points="297.5,110.1 303.7,108.7 297.7,105.2 291.5,106.7" fill="#ff4e00" stroke="#4c1700"/>
<polygon points="212,108.9 218.3,105.8 212.6,104.3 206.2,107.5" fill="#ea6600" stroke="#461f00"/>
<polygon points="401.2,160.3 407,160.5 400.8,154.2 395,154" fill="#00ff11" stroke="#004c05"/>
<polygon points="328.1,119.4 334.1,118.4 328,114.2 322,115.1" fill="#ffa700" stroke="#4c3200"/>
<polygon points="285.3,108.4 291.5,106.7 285.5,103.5 279.3,105.3" fill="#ff3c00" stroke="#4c1200"/>
<polygon points="181.3,117.1 187.7,113.3 182.1,112.4 175.7,116.3" fill="#d8a800" stroke="#413200"/>
<polygon points="224.1,107.5 230.5,104.7 224.7,102.9 218.3,105.8" fill="#f25200" stroke="#491900"/>
<polygon points="383,148.1 388.8,148 382.7,142.2 376.8,142.4" fill="#5aff00" stroke="#1b4c00"/>
<polygon points="273.1,107.2 279.3,105.3 273.3,102.4 267.1,104.3" fill="#ff3300" stroke="#4c0f00"/>
<polygon points="236.3,106.7 242.7,104 236.8,102 230.5,104.7" fill="#f94100" stroke="#4b1400"/>
<polygon points="346.4,127.6 352.4,127 346.2,122.2 340.2,122.9" fill="#fff900" stroke="#4c4b00"/>
<polygon points="260.8,106.5 267.1,104.3 261.2,101.7 254.9,103.9" fill="#ff3100" stroke="#4c0f00"/>
<polygon points="248.6,106.3 254.9,103.9 249,101.6 242.7,104" fill="#ff3600" stroke="#4c1000"/>
<polygon points="364.7,137.2 370.6,136.8 364.5,131.6 358.5,132" fill="#b5ff00" stroke="#364c00"/>
<polygon points="162.8,124.6 169.2,120.3 163.7,119.8 157.2,124.1" fill="#c9cd00" stroke="#3c3e00"/>
<polygon points="407.4,166.8 413.1,167 407,160.5 401.2,160.3" fill="#00ff47" stroke="#004c15"/>
<polygon points="315.8,116.3 322,115.1 315.9,111.2 309.8,112.4" fill="#ff8200" stroke="#4c2700"/>
<polygon points="193.4,114.4 199.8,110.8 194.1,109.7 187.7,113.3" fill="#df8e00" stroke="#432b00"/>
<polygon points="303.6,113.8 309.8,112.4 303.7,108.7 297.5,110.1" fill="#ff6400" stroke="#4c1e00"/>
<polygon points="334.2,123.8 340.2,122.9 334.1,118.4 328.1,119.4" fill="#ffc900" stroke="#4c3c00"/>
<polygon points="389.2,154.1 395,154 388.8,148 383,148.1" fill="#30ff00" stroke="#0e4c00"/>
<polygon points="205.5,112.2 212,108.9 206.2,107.5 199.8,110.8" fill="#e77700" stroke="#452400"/>
<polygon points="413.6,173.5 419.3,173.8 413.1,167 407.4,166.8" fill="#00ff7f" stroke="#004c26"/>
<polygon points="174.8,121.1 181.3,117.1 175.7,116.3 169.2,120.3" fill="#d4b800" stroke="#403700"/>
<polygon points="352.5,132.6 358.5,132 352.4,127 346.4,127.6" fill="#e3ff00" stroke="#444c00"/>
<polygon points="370.9,142.7 376.8,142.4 370.6,136.8 364.7,137.2" fill="#90ff00" stroke="#2b4c00"/>
<polygon points="291.3,111.8 297.5,110.1 291.5,106.7 285.3,108.4" fill="#ff4f00" stroke="#4c1800"/>
<polygon points="217.7,110.6 224.1,107.5 218.3,105.8 212,108.9" fill="#ee6100" stroke="#471d00"/>
<polygon points="156.3,129 162.8,124.6 157.2,124.1 150.8,128.6" fill="#b7ca00" stroke="#373d00"/>
<polygon points="279.1,110.3 285.3,108.4 279.3,105.3 273.1,107.2" fill="#ff4100" stroke="#4c1400"/>
<polygon points="322,120.5 328.1,119.4 322,115.1 315.8,116.3" fill="#ffa000" stroke="#4c3000"/>
<polygon points="230,109.5 236.3,106.7 230.5,104.7 224.1,107.5" fill="#f65000" stroke="#4a1800"/>
<polygon points="419.8,180.5 425.5,180.8 419.3,173.8 413.6,173.5" fill="#00ffb9" stroke="#004c38"/>
<polygon points="266.8,109.3 273.1,107.2 267.1,104.3 260.8,106.5" fill="#ff3a00" stroke="#4c1100"/>
<polygon points="395.4,160.3 401.2,160.3 395,154 389.2,154.1" fill="#05ff00" stroke="#024c00"/>
<polygon points="242.2,108.9 248.6,106.3 242.7,104 236.3,106.7" fill="#fd4300" stroke="#4c1400"/>
<polygon points="186.9,118.1 193.4,114.4 187.7,113.3 181.3,117.1" fill="#dc9f00" stroke="#423000"/>
<polygon points="254.5,108.9 260.8,106.5 254.9,103.9 248.6,106.3" fill="#ff3c00" stroke="#4c1200"/>
<polygon points="340.3,128.5 346.4,127.6 340.2,122.9 334.2,123.8" fill="#ffee00" stroke="#4c4700"/>
<polygon points="377.1,148.4 383,148.1 376.8,142.4 370.9,142.7" fill="#6aff00" stroke="#204c00"/>
<polygon points="309.7,117.7 315.8,116.3 309.8,112.4 303.6,113.8" fill="#ff7f00" stroke="#4c2600"/>
<polygon points="358.7,137.8 364.7,137.2 358.5,132 352.5,132.6" fill="#c1ff00" stroke="#3a4c00"/>
<polygon points="199.1,115.7 205.5,112.2 199.8,110.8 193.4,114.4" fill="#e38800" stroke="#442900"/>
<polygon points="168.3,125.3 174.8,121.1 169.2,120.3 162.8,124.6" fill="#d1c800" stroke="#3f3c00"/>
<polygon points="401.6,166.8 407.4,166.8 401.2,160.3 395.4,160.3" fill="#00ff2f" stroke="#004c0e"/>
<polygon points="297.4,115.5 303.6,113.8 297.5,110.1 291.3,111.8" fill="#ff6400" stroke="#4c1e00"/>
<polygon points="211.3,113.9 217.7,110.6 212,108.9 205.5,112.2" fill="#eb7200" stroke="#462200"/>
<polygon points="328.1,124.9 334.2,123.8 328.1,119.4 322,120.5" fill="#ffc100" stroke="#4c3a00"/>
<polygon points="285.1,113.7 291.3,111.8 285.3,108.4 279.1,110.3" fill="#ff5200" stroke="#4c1900"/>
<polygon points="383.3,154.4 389.2,154.1 383,148.1 377.1,148.4" fill="#41ff00" stroke="#144c00"/>
<polygon points="180.5,122.1 186.9,118.1 181.3,117.1 174.8,121.1" fill="#d8af00" stroke="#413400"/>
<polygon points="223.6,112.5 230,109.5 224.1,107.5 217.7,110.6" fill="#f26000" stroke="#491d00"/>
<polygon points="346.5,133.4 352.5,132.6 346.4,127.6 340.3,128.5" fill="#edff00" stroke="#474c00"/>
<polygon points="272.8,112.4 279.1,110.3 273.1,107.2 266.8,109.3" fill="#ff4700" stroke="#4c1500"/>
<polygon points="364.9,143.2 370.9,142.7 364.7,137.2 358.7,137.8" fill="#9dff00" stroke="#2f4c00"/>
<polygon points="407.9,173.5 413.6,173.5 407.4,166.8 401.6,166.8" fill="#00ff66" stroke="#004c1f"/>
<polygon points="235.8,111.7 242.2,108.9 236.3,106.7 230,109.5" fill="#f95200" stroke="#4b1900"/>
<polygon points="260.5,111.7 266.8,109.3 260.8,106.5 254.5,108.9" fill="#ff4400" stroke="#4c1400"/>
<polygon points="248.1,111.4 254.5,108.9 248.6,106.3 242.2,108.9" fill="#ff4900" stroke="#4c1600"/>
<polygon points="315.8,121.9 322,120.5 315.8,116.3 309.7,117.7" fill="#ff9c00" stroke="#4c2f00"/>
<polygon points="161.8,129.6 168.3,125.3 162.8,124.6 156.3,129" fill="#c6cd00" stroke="#3b3e00"/>
<polygon points="192.6,119.4 199.1,115.7 193.4,114.4 186.9,118.1" fill="#e09800" stroke="#432e00"/>
<polygon points="389.5,160.5 395.4,160.3 389.2,154.1 383.3,154.4" fill="#16ff00" stroke="#074c00"/>
<polygon points="414.1,180.4 419.8,180.5 413.6,173.5 407.9,173.5" fill="#00ff9f" stroke="#004c30"/>
<polygon points="303.5,119.3 309.7,117.7 303.6,113.8 297.4,115.5" fill="#ff7e00" stroke="#4c2600"/>
<polygon points="334.3,129.6 340.3,128.5 334.2,123.8 328.1,124.9" fill="#ffe500" stroke="#4c4500"/>
<polygon points="204.9,117.3 211.3,113.9 205.5,112.2 199.1,115.7" fill="#e78300" stroke="#452700"/>
<polygon points="371.2,148.9 377.1,148.4 370.9,142.7 364.9,143.2" fill="#78ff00" stroke="#244c00"/>
<polygon points="352.7,138.6 358.7,137.8 352.5,132.6 346.5,133.4" fill="#ccff00" stroke="#3d4c00"/>
<polygon points="174,126.2 180.5,122.1 174.8,121.1 168.3,125.3" fill="#d5bf00" stroke="#403900"/>
<polygon points="291.2,117.3 297.4,115.5 291.3,111.8 285.1,113.7" fill="#ff6700" stroke="#4c1f00"/>
<polygon points="217.1,115.7 223.6,112.5 217.7,110.6 211.3,113.9" fill="#ef7000" stroke="#482200"/>
<polygon points="395.8,167 401.6,166.8 395.4,160.3 389.5,160.5" fill="#00ff19" stroke="#004c08"/>
<polygon points="322,126.3 328.1,124.9 322,120.5 315.8,121.9" fill="#ffbc00" stroke="#4c3800"/>
<polygon points="278.8,115.8 285.1,113.7 279.1,110.3 272.8,112.4" fill="#ff5800" stroke="#4c1a00"/>
<polygon points="229.4,114.7 235.8,111.7 230,109.5 223.6,112.5" fill="#f66000" stroke="#4a1d00"/>
<polygon points="266.5,114.7 272.8,112.4 266.8,109.3 260.5,111.7" fill="#ff5100" stroke="#4c1800"/>
<polygon points="241.8,114.2 248.1,111.4 242.2,108.9 235.8,111.7" fill="#fd5600" stroke="#4c1a00"/>
<polygon points="254.1,114.2 260.5,111.7 254.5,108.9 248.1,111.4" fill="#ff5000" stroke="#4c1800"/>
<polygon points="186.2,123.3 192.6,119.4 186.9,118.1 180.5,122.1" fill="#dca800" stroke="#423200"/>
<polygon points="340.4,134.5 346.5,133.4 340.3,128.5 334.3,129.6" fill="#f5ff00" stroke="#4a4c00"/>
<polygon points="377.4,154.8 383.3,154.4 377.1,148.4 371.2,148.9" fill="#50ff00" stroke="#184c00"/>
<polygon points="358.9,144 364.9,143.2 358.7,137.8 352.7,138.6" fill="#a9ff00" stroke="#334c00"/>
<polygon points="309.6,123.5 315.8,121.9 309.7,117.7 303.5,119.3" fill="#ff9a00" stroke="#4c2e00"/>
<polygon points="402,173.6 407.9,173.5 401.6,166.8 395.8,167" fill="#00ff4f" stroke="#004c18"/>
<polygon points="198.4,121 204.9,117.3 199.1,115.7 192.6,119.4" fill="#e49300" stroke="#442c00"/>
<polygon points="167.4,130.5 174,126.2 168.3,125.3 161.8,129.6" fill="#d1ce00" stroke="#3f3e00"/>
<polygon points="297.3,121.2 303.5,119.3 297.4,115.5 291.2,117.3" fill="#ff7f00" stroke="#4c2600"/>
<polygon points="328.1,130.9 334.3,129.6 328.1,124.9 322,126.3" fill="#ffdf00" stroke="#4c4300"/>
<polygon points="210.7,119.2 217.1,115.7 211.3,113.9 204.9,117.3" fill="#eb8000" stroke="#462600"/>
<polygon points="383.6,161 389.5,160.5 383.3,154.4 377.4,154.8" fill="#26ff00" stroke="#0b4c00"/>
<polygon points="284.9,119.4 291.2,117.3 285.1,113.7 278.8,115.8" fill="#ff6c00" stroke="#4c2000"/>
<polygon points="408.3,180.5 414.1,180.4 407.9,173.5 402,173.6" fill="#00ff87" stroke="#004c28"/>
<polygon points="346.6,139.6 352.7,138.6 346.5,133.4 340.4,134.5" fill="#d5ff00" stroke="#404c00"/>
<polygon points="365.2,149.6 371.2,148.9 364.9,143.2 358.9,144" fill="#84ff00" stroke="#284c00"/>
<polygon points="179.6,127.4 186.2,123.3 180.5,122.1 174,126.2" fill="#d9b800" stroke="#413700"/>
<polygon points="223,117.9 229.4,114.7 223.6,112.5 217.1,115.7" fill="#f27000" stroke="#492200"/>
<polygon points="272.5,118.1 278.8,115.8 272.8,112.4 266.5,114.7" fill="#ff6000" stroke="#4c1d00"/>
<polygon points="235.4,117.2 241.8,114.2 235.8,111.7 229.4,114.7" fill="#f96500" stroke="#4b1e00"/>
<polygon points="260.1,117.3 266.5,114.7 260.5,111.7 254.1,114.2" fill="#ff5c00" stroke="#4c1c00"/>
<polygon points="315.8,127.8 322,126.3 315.8,121.9 309.6,123.5" fill="#ffb900" stroke="#4c3800"/>
<polygon points="247.7,117 254.1,114.2 248.1,111.4 241.8,114.2" fill="#ff5e00" stroke="#4c1c00"/>
<polygon points="389.9,167.3 395.8,167 389.5,160.5 383.6,161" fill="#00ff06" stroke="#004c02"/>
<polygon points="191.9,124.8 198.4,121 192.6,119.4 186.2,123.3" fill="#e0a400" stroke="#433100"/>
<polygon points="334.3,135.8 340.4,134.5 334.3,129.6 328.1,130.9" fill="#fbff00" stroke="#4b4c00"/>
<polygon points="303.4,125.3 309.6,123.5 303.5,119.3 297.3,121.2" fill="#ff9a00" stroke="#4c2e00"/>
<polygon points="371.4,155.5 377.4,154.8 371.2,148.9 365.2,149.6" fill="#5dff00" stroke="#1c4c00"/>
<polygon points="352.9,145 358.9,144 352.7,138.6 346.6,139.6" fill="#b2ff00" stroke="#354c00"/>
<polygon points="204.2,122.8 210.7,119.2 204.9,117.3 198.4,121" fill="#e89000" stroke="#462b00"/>
<polygon points="291,123.2 297.3,121.2 291.2,117.3 284.9,119.4" fill="#ff8300" stroke="#4c2700"/>
<polygon points="173.1,131.7 179.6,127.4 174,126.2 167.4,130.5" fill="#d5c700" stroke="#403c00"/>
<polygon points="396.2,173.9 402,173.6 395.8,167 389.9,167.3" fill="#00ff3a" stroke="#004c11"/>
<polygon points="216.5,121.3 223,117.9 217.1,115.7 210.7,119.2" fill="#ef8000" stroke="#482600"/>
<polygon points="321.9,132.4 328.1,130.9 322,126.3 315.8,127.8" fill="#ffda00" stroke="#4c4100"/>
<polygon points="278.6,121.7 284.9,119.4 278.8,115.8 272.5,118.1" fill="#ff7300" stroke="#4c2200"/>
<polygon points="228.9,120.3 235.4,117.2 229.4,114.7 223,117.9" fill="#f67500" stroke="#4a2300"/>
<polygon points="266.1,120.6 272.5,118.1 266.5,114.7 260.1,117.3" fill="#ff6a00" stroke="#4c2000"/>
<polygon points="377.7,161.6 383.6,161 377.4,154.8 371.4,155.5" fill="#35ff00" stroke="#104c00"/>
<polygon points="241.3,119.9 247.7,117 241.8,114.2 235.4,117.2" fill="#fd6c00" stroke="#4c2000"/>
<polygon points="253.7,120 260.1,117.3 254.1,114.2 247.7,117" fill="#ff6900" stroke="#4c2000"/>
<polygon points="340.5,140.8 346.6,139.6 340.4,134.5 334.3,135.8" fill="#dcff00" stroke="#424c00"/>
<polygon points="185.4,128.8 191.9,124.8 186.2,123.3 179.6,127.4" fill="#ddb300" stroke="#423600"/>
<polygon points="359.1,150.5 365.2,149.6 358.9,144 352.9,145" fill="#8eff00" stroke="#2b4c00"/>
<polygon points="402.4,180.7 408.3,180.5 402,173.6 396.2,173.9" fill="#00ff71" stroke="#004c22"/>
<polygon points="309.5,129.6 315.8,127.8 309.6,123.5 303.4,125.3" fill="#ffb800" stroke="#4c3700"/>
<polygon points="197.7,126.6 204.2,122.8 198.4,121 191.9,124.8" fill="#e4a100" stroke="#443000"/>
<polygon points="297.1,127.3 303.4,125.3 297.3,121.2 291,123.2" fill="#ff9d00" stroke="#4c2f00"/>
<polygon points="328.2,137.3 334.3,135.8 328.1,130.9 321.9,132.4" fill="#ffff00" stroke="#4c4c00"/>
<polygon points="384,167.9 389.9,167.3 383.6,161 377.7,161.6" fill="#0aff00" stroke="#034c00"/>
<polygon points="210,124.8 216.5,121.3 210.7,119.2 204.2,122.8" fill="#eb9100" stroke="#462c00"/>
<polygon points="284.7,125.5 291,123.2 284.9,119.4 278.6,121.7" fill="#ff8900" stroke="#4c2900"/>
<polygon points="346.8,146.2 352.9,145 346.6,139.6 340.5,140.8" fill="#baff00" stroke="#384c00"/>
<polygon points="365.4,156.3 371.4,155.5 365.2,149.6 359.1,150.5" fill="#68ff00" stroke="#1f4c00"/>
<polygon points="222.4,123.6 228.9,120.3 223,117.9 216.5,121.3" fill="#f38400" stroke="#492800"/>
<polygon points="178.8,133.1 185.4,128.8 179.6,127.4 173.1,131.7" fill="#d9c200" stroke="#413a00"/>
<polygon points="272.2,124.1 278.6,121.7 272.5,118.1 266.1,120.6" fill="#ff7c00" stroke="#4c2500"/>
<polygon points="315.7,134.2 321.9,132.4 315.8,127.8 309.5,129.6" fill="#ffd900" stroke="#4c4100"/>
<polygon points="234.9,123 241.3,119.9 235.4,117.2 228.9,120.3" fill="#fa7b00" stroke="#4b2500"/>
<polygon points="259.8,123.3 266.1,120.6 260.1,117.3 253.7,120" fill="#ff7600" stroke="#4c2300"/>
<polygon points="247.3,122.9 253.7,120 247.7,117 241.3,119.9" fill="#ff7700" stroke="#4c2400"/>
<polygon points="390.2,174.4 396.2,173.9 389.9,167.3 384,167.9" fill="#00ff27" stroke="#004c0c"/>
<polygon points="334.4,142.3 340.5,140.8 334.3,135.8 328.2,137.3" fill="#e1ff00" stroke="#444c00"/>
<polygon points="191.2,130.5 197.7,126.6 191.9,124.8 185.4,128.8" fill="#e0b000" stroke="#433500"/>
<polygon points="303.3,131.6 309.5,129.6 303.4,125.3 297.1,127.3" fill="#ffba00" stroke="#4c3800"/>
<polygon points="371.7,162.4 377.7,161.6 371.4,155.5 365.4,156.3" fill="#41ff00" stroke="#144c00"/>
<polygon points="353,151.7 359.1,150.5 352.9,145 346.8,146.2" fill="#97ff00" stroke="#2d4c00"/>
<polygon points="396.5,181.2 402.4,180.7 396.2,173.9 390.2,174.4" fill="#00ff5d" stroke="#004c1c"/>
<polygon points="203.5,128.6 210,124.8 204.2,122.8 197.7,126.6" fill="#e8a100" stroke="#463000"/>
<polygon points="290.8,129.6 297.1,127.3 291,123.2 284.7,125.5" fill="#ffa200" stroke="#4c3100"/>
<polygon points="321.9,139 328.2,137.3 321.9,132.4 315.7,134.2" fill="#fffc00" stroke="#4c4c00"/>
<polygon points="215.9,127.2 222.4,123.6 216.5,121.3 210,124.8" fill="#ef9400" stroke="#482c00"/>
<polygon points="278.3,127.9 284.7,125.5 278.6,121.7 272.2,124.1" fill="#ff9100" stroke="#4c2c00"/>
<polygon points="378,168.6 384,167.9 377.7,161.6 371.7,162.4" fill="#18ff00" stroke="#074c00"/>
<polygon points="265.8,126.8 272.2,124.1 266.1,120.6 259.8,123.3" fill="#ff8700" stroke="#4c2800"/>
<polygon points="228.4,126.3 234.9,123 228.9,120.3 222.4,123.6" fill="#f68a00" stroke="#4a2900"/>
<polygon points="340.6,147.6 346.8,146.2 340.5,140.8 334.4,142.3" fill="#c0ff00" stroke="#3a4c00"/>
<polygon points="253.3,126.1 259.8,123.3 253.7,120 247.3,122.9" fill="#ff8300" stroke="#4c2700"/>
<polygon points="240.9,126 247.3,122.9 241.3,119.9 234.9,123" fill="#fd8500" stroke="#4c2800"/>
<polygon points="359.3,157.4 365.4,156.3 359.1,150.5 353,151.7" fill="#72ff00" stroke="#224c00"/>
<polygon points="184.6,134.7 191.2,130.5 185.4,128.8 178.8,133.1" fill="#ddbf00" stroke="#423900"/>
<polygon points="309.5,136.2 315.7,134.2 309.5,129.6 303.3,131.6" fill="#ffd900" stroke="#4c4100"/>
<polygon points="384.3,175.1 390.2,174.4 384,167.9 378,168.6" fill="#00ff17" stroke="#004c07"/>
<polygon points="297,133.9 303.3,131.6 297.1,127.3 290.8,129.6" fill="#ffbd00" stroke="#4c3900"/>
<polygon points="197,132.5 203.5,128.6 197.7,126.6 191.2,130.5" fill="#e4b000" stroke="#443500"/>
<polygon points="328.2,144 334.4,142.3 328.2,137.3 321.9,139" fill="#e4ff00" stroke="#444c00"/>
<polygon points="365.6,163.4 371.7,162.4 365.4,156.3 359.3,157.4" fill="#4bff00" stroke="#164c00"/>
<polygon points="346.9,153.1 353,151.7 346.8,146.2 340.6,147.6" fill="#9eff00" stroke="#2f4c00"/>
<polygon points="284.5,132 290.8,129.6 284.7,125.5 278.3,127.9" fill="#ffa900" stroke="#4c3300"/>
<polygon points="209.4,130.9 215.9,127.2 210,124.8 203.5,128.6" fill="#eca400" stroke="#473100"/>
<polygon points="271.9,130.6 278.3,127.9 272.2,124.1 265.8,126.8" fill="#ff9a00" stroke="#4c2e00"/>
<polygon points="221.9,129.8 228.4,126.3 222.4,123.6 215.9,127.2" fill="#f39900" stroke="#492e00"/>
<polygon points="315.7,140.9 321.9,139 315.7,134.2 309.5,136.2" fill="#fffb00" stroke="#4c4b00"/>
<polygon points="390.6,181.9 396.5,181.2 390.2,174.4 384.3,175.1" fill="#00ff4b" stroke="#004c16"/>
<polygon points="259.4,129.7 265.8,126.8 259.8,123.3 253.3,126.1" fill="#ff9300" stroke="#4c2c00"/>
<polygon points="234.4,129.2 240.9,126 234.9,123 228.4,126.3" fill="#fa9400" stroke="#4b2c00"/>
<polygon points="246.9,129.2 253.3,126.1 247.3,122.9 240.9,126" fill="#ff9200" stroke="#4c2c00"/>
<polygon points="334.4,149.2 340.6,147.6 334.4,142.3 328.2,144" fill="#c4ff00" stroke="#3b4c00"/>
<polygon points="371.9,169.6 378,168.6 371.7,162.4 365.6,163.4" fill="#23ff00" stroke="#0a4c00"/>
<polygon points="303.2,138.4 309.5,136.2 303.3,131.6 297,133.9" fill="#ffdc00" stroke="#4c4200"/>
<polygon points="353.2,158.8 359.3,157.4 353,151.7 346.9,153.1" fill="#7aff00" stroke="#254c00"/>
<polygon points="190.4,136.6 197,132.5 191.2,130.5 184.6,134.7" fill="#e1bf00" stroke="#443900"/>
<polygon points="290.6,136.3 297,133.9 290.8,129.6 284.5,132" fill="#ffc300" stroke="#4c3a00"/>
<polygon points="202.9,134.7 209.4,130.9 203.5,128.6 197,132.5" fill="#e8b200" stroke="#463500"/>
<polygon points="321.9,145.9 328.2,144 321.9,139 315.7,140.9" fill="#e5ff00" stroke="#454c00"/>
<polygon points="278.1,134.6 284.5,132 278.3,127.9 271.9,130.6" fill="#ffb100" stroke="#4c3500"/>
<polygon points="378.2,176.1 384.3,175.1 378,168.6 371.9,169.6" fill="#00ff08" stroke="#004c02"/>
<polygon points="215.4,133.4 221.9,129.8 215.9,127.2 209.4,130.9" fill="#efa900" stroke="#483300"/>
<polygon points="340.7,154.7 346.9,153.1 340.6,147.6 334.4,149.2" fill="#a3ff00" stroke="#314c00"/>
<polygon points="265.5,133.4 271.9,130.6 265.8,126.8 259.4,129.7" fill="#ffa600" stroke="#4c3200"/>
<polygon points="359.5,164.7 365.6,163.4 359.3,157.4 353.2,158.8" fill="#54ff00" stroke="#194c00"/>
<polygon points="227.9,132.7 234.4,129.2 228.4,126.3 221.9,129.8" fill="#f6a200" stroke="#4a3100"/>
<polygon points="253,132.7 259.4,129.7 253.3,126.1 246.9,129.2" fill="#ffa100" stroke="#4c3000"/>
<polygon points="240.4,132.4 246.9,129.2 240.9,126 234.4,129.2" fill="#fda100" stroke="#4c3000"/>
<polygon points="309.4,143.1 315.7,140.9 309.5,136.2 303.2,138.4" fill="#fffd00" stroke="#4c4c00"/>
<polygon points="384.6,182.7 390.6,181.9 384.3,175.1 378.2,176.1" fill="#00ff3b" stroke="#004c12"/>
<polygon points="296.8,140.8 303.2,138.4 297,133.9 290.6,136.3" fill="#ffe000" stroke="#4c4300"/>
<polygon points="328.2,151.1 334.4,149.2 328.2,144 321.9,145.9" fill="#c7ff00" stroke="#3c4c00"/>
<polygon points="196.3,138.8 202.9,134.7 197,132.5 190.4,136.6" fill="#e4c100" stroke="#443a00"/>
<polygon points="365.8,170.8 371.9,169.6 365.6,163.4 359.5,164.7" fill="#2dff00" stroke="#0e4c00"/>
<polygon points="347,160.3 353.2,158.8 346.9,153.1 340.7,154.7" fill="#80ff00" stroke="#264c00"/>
<polygon points="284.3,138.9 290.6,136.3 284.5,132 278.1,134.6" fill="#ffcb00" stroke="#4c3d00"/>
<polygon points="208.8,137.3 215.4,133.4 209.4,130.9 202.9,134.7" fill="#ecb800" stroke="#473700"/>
<polygon points="271.7,137.5 278.1,134.6 271.9,130.6 265.5,133.4" fill="#ffbb00" stroke="#4c3800"/>
<polygon points="315.7,148.1 321.9,145.9 315.7,140.9 309.4,143.1" fill="#e5ff00" stroke="#454c00"/>
<polygon points="221.3,136.3 227.9,132.7 221.9,129.8 215.4,133.4" fill="#f3b100" stroke="#493500"/>
<polygon points="259.1,136.5 265.5,133.4 259.4,129.7 253,132.7" fill="#ffb200" stroke="#4c3500"/>
<polygon points="233.9,135.8 240.4,132.4 234.4,129.2 227.9,132.7" fill="#faae00" stroke="#4b3400"/>
<polygon points="246.5,135.9 253,132.7 246.9,129.2 240.4,132.4" fill="#ffaf00" stroke="#4c3400"/>
<polygon points="372.2,177.2 378.2,176.1 371.9,169.6 365.8,170.8" fill="#04ff00" stroke="#014c00"/>
<polygon points="334.5,156.5 340.7,154.7 334.4,149.2 328.2,151.1" fill="#a6ff00" stroke="#324c00"/>
<polygon points="303.1,145.5 309.4,143.1 303.2,138.4 296.8,140.8" fill="#feff00" stroke="#4c4c00"/>
<polygon points="353.3,166.2 359.5,164.7 353.2,158.8 347,160.3" fill="#5bff00" stroke="#1b4c00"/>
<polygon points="290.5,143.4 296.8,140.8 290.6,136.3 284.3,138.9" fill="#ffe700" stroke="#4c4500"/>
<polygon points="321.9,153.2 328.2,151.1 321.9,145.9 315.7,148.1" fill="#c7ff00" stroke="#3c4c00"/>
<polygon points="202.2,141.3 208.8,137.3 202.9,134.7 196.3,138.8" fill="#e8c600" stroke="#463b00"/>
<polygon points="378.5,183.8 384.6,182.7 378.2,176.1 372.2,177.2" fill="#00ff2d" stroke="#004c0e"/>
<polygon points="277.8,141.7 284.3,138.9 278.1,134.6 271.7,137.5" fill="#ffd400" stroke="#4c4000"/>
<polygon points="340.8,162.1 347,160.3 340.7,154.7 334.5,156.5" fill="#84ff00" stroke="#284c00"/>
<polygon points="359.7,172.2 365.8,170.8 359.5,164.7 353.3,166.2" fill="#35ff00" stroke="#104c00"/>
<polygon points="214.8,140 221.3,136.3 215.4,133.4 208.8,137.3" fill="#efbf00" stroke="#483900"/>
<polygon points="265.2,140.5 271.7,137.5 265.5,133.4 259.1,136.5" fill="#ffc700" stroke="#4c3c00"/>
<polygon points="227.4,139.4 233.9,135.8 227.9,132.7 221.3,136.3" fill="#f6bc00" stroke="#4a3800"/>
<polygon points="252.6,139.6 259.1,136.5 253,132.7 246.5,135.9" fill="#ffc000" stroke="#4c3a00"/>
<polygon points="309.3,150.4 315.7,148.1 309.4,143.1 303.1,145.5" fill="#e3ff00" stroke="#444c00"/>
<polygon points="240,139.3 246.5,135.9 240.4,132.4 233.9,135.8" fill="#fdbe00" stroke="#4c3900"/>
<polygon points="296.7,148.1 303.1,145.5 296.8,140.8 290.5,143.4" fill="#faff00" stroke="#4b4c00"/>
<polygon points="328.2,158.5 334.5,156.5 328.2,151.1 321.9,153.2" fill="#a8ff00" stroke="#324c00"/>
<polygon points="366,178.6 372.2,177.2 365.8,170.8 359.7,172.2" fill="#0dff00" stroke="#044c00"/>
<polygon points="347.1,167.9 353.3,166.2 347,160.3 340.8,162.1" fill="#61ff00" stroke="#1d4c00"/>
<polygon points="284.1,146.2 290.5,143.4 284.3,138.9 277.8,141.7" fill="#ffee00" stroke="#4c4700"/>
<polygon points="315.6,155.5 321.9,153.2 315.7,148.1 309.3,150.4" fill="#c7ff00" stroke="#3c4c00"/>
<polygon points="208.2,144 214.8,140 208.8,137.3 202.2,141.3" fill="#eccd00" stroke="#473e00"/>
<polygon points="271.4,144.7 277.8,141.7 271.7,137.5 265.2,140.5" fill="#ffde00" stroke="#4c4300"/>
<polygon points="220.8,143.1 227.4,139.4 221.3,136.3 214.8,140" fill="#f3ca00" stroke="#493d00"/>
<polygon points="258.7,143.6 265.2,140.5 259.1,136.5 252.6,139.6" fill="#ffd400" stroke="#4c4000"/>
<polygon points="246.1,143 252.6,139.6 246.5,135.9 240,139.3" fill="#ffcf00" stroke="#4c3e00"/>
<polygon points="233.4,142.8 240,139.3 233.9,135.8 227.4,139.4" fill="#facb00" stroke="#4b3d00"/>
<polygon points="372.4,185.1 378.5,183.8 372.2,177.2 366,178.6" fill="#00ff21" stroke="#004c0a"/>
<polygon points="334.5,164.1 340.8,162.1 334.5,156.5 328.2,158.5" fill="#87ff00" stroke="#284c00"/>
<polygon points="353.5,173.9 359.7,172.2 353.3,166.2 347.1,167.9" fill="#3bff00" stroke="#124c00"/>
<polygon points="303,152.9 309.3,150.4 303.1,145.5 296.7,148.1" fill="#e0ff00" stroke="#434c00"/>
<polygon points="290.3,150.8 296.7,148.1 290.5,143.4 284.1,146.2" fill="#f5ff00" stroke="#4a4c00"/>
<polygon points="321.9,160.8 328.2,158.5 321.9,153.2 315.6,155.5" fill="#a8ff00" stroke="#324c00"/>
<polygon points="277.6,149.1 284.1,146.2 277.8,141.7 271.4,144.7" fill="#fff800" stroke="#4c4a00"/>
<polygon points="340.9,169.8 347.1,167.9 340.8,162.1 334.5,164.1" fill="#64ff00" stroke="#1e4c00"/>
<polygon points="359.9,180.1 366,178.6 359.7,172.2 353.5,173.9" fill="#14ff00" stroke="#064c00"/>
<polygon points="264.9,147.8 271.4,144.7 265.2,140.5 258.7,143.6" fill="#ffea00" stroke="#4c4600"/>
<polygon points="214.2,147 220.8,143.1 214.8,140 208.2,144" fill="#efd700" stroke="#484000"/>
<polygon points="309.2,158 315.6,155.5 309.3,150.4 303,152.9" fill="#c4ff00" stroke="#3b4c00"/>
<polygon points="252.2,146.9 258.7,143.6 252.6,139.6 246.1,143" fill="#ffe100" stroke="#4c4400"/>
<polygon points="226.8,146.5 233.4,142.8 227.4,139.4 220.8,143.1" fill="#f6d700" stroke="#4a4000"/>
<polygon points="239.5,146.4 246.1,143 240,139.3 233.4,142.8" fill="#fddc00" stroke="#4c4200"/>
<polygon points="328.2,166.2 334.5,164.1 328.2,158.5 321.9,160.8" fill="#88ff00" stroke="#294c00"/>
<polygon points="296.6,155.7 303,152.9 296.7,148.1 290.3,150.8" fill="#dcff00" stroke="#424c00"/>
<polygon points="366.2,186.6 372.4,185.1 366,178.6 359.9,180.1" fill="#00ff18" stroke="#004c07"/>
<polygon points="347.3,175.7 353.5,173.9 347.1,167.9 340.9,169.8" fill="#40ff00" stroke="#134c00"/>
<polygon points="283.8,153.7 290.3,150.8 284.1,146.2 277.6,149.1" fill="#eeff00" stroke="#474c00"/>
<polygon points="315.6,163.2 321.9,160.8 315.6,155.5 309.2,158" fill="#a7ff00" stroke="#324c00"/>
<polygon points="271.1,152.2 277.6,149.1 271.4,144.7 264.9,147.8" fill="#fcff00" stroke="#4c4c00"/>
<polygon points="258.4,151.1 264.9,147.8 258.7,143.6 252.2,146.9" fill="#fff600" stroke="#4c4a00"/>
<polygon points="220.2,150.3 226.8,146.5 220.8,143.1 214.2,147" fill="#f3e400" stroke="#494400"/>
<polygon points="334.6,171.9 340.9,169.8 334.5,164.1 328.2,166.2" fill="#66ff00" stroke="#1f4c00"/>
<polygon points="245.7,150.3 252.2,146.9 246.1,143 239.5,146.4" fill="#ffef00" stroke="#4c4800"/>
<polygon points="232.9,150.1 239.5,146.4 233.4,142.8 226.8,146.5" fill="#fae800" stroke="#4b4600"/>
<polygon points="353.6,181.9 359.9,180.1 353.5,173.9 347.3,175.7" fill="#1aff00" stroke="#084c00"/>
<polygon points="302.9,160.7 309.2,158 303,152.9 296.6,155.7" fill="#c1ff00" stroke="#3a4c00"/>
<polygon points="290.1,158.5 296.6,155.7 290.3,150.8 283.8,153.7" fill="#d6ff00" stroke="#404c00"/>
<polygon points="321.9,168.6 328.2,166.2 321.9,160.8 315.6,163.2" fill="#88ff00" stroke="#294c00"/>
<polygon points="277.4,156.8 283.8,153.7 277.6,149.1 271.1,152.2" fill="#e7ff00" stroke="#454c00"/>
<polygon points="360,188.3 366.2,186.6 359.9,180.1 353.6,181.9" fill="#00ff10" stroke="#004c05"/>
<polygon points="341,177.8 347.3,175.7 340.9,169.8 334.6,171.9" fill="#43ff00" stroke="#144c00"/>
<polygon points="264.6,155.4 271.1,152.2 264.9,147.8 258.4,151.1" fill="#f3ff00" stroke="#494c00"/>
<polygon points="309.2,165.9 315.6,163.2 309.2,158 302.9,160.7" fill="#a4ff00" stroke="#314c00"/>
<polygon points="251.8,154.5 258.4,151.1 252.2,146.9 245.7,150.3" fill="#fbff00" stroke="#4b4c00"/>
<polygon points="226.3,153.8 232.9,150.1 226.8,146.5 220.2,150.3" fill="#f6f400" stroke="#4a4900"/>
<polygon points="239.1,153.9 245.7,150.3 239.5,146.4 232.9,150.1" fill="#fdfc00" stroke="#4c4c00"/>
<polygon points="328.3,174.2 334.6,171.9 328.2,166.2 321.9,168.6" fill="#67ff00" stroke="#1f4c00"/>
<polygon points="296.4,163.5 302.9,160.7 296.6,155.7 290.1,158.5" fill="#bcff00" stroke="#384c00"/>
<polygon points="347.4,183.9 353.6,181.9 347.3,175.7 341,177.8" fill="#1eff00" stroke="#094c00"/>
<polygon points="283.6,161.6 290.1,158.5 283.8,153.7 277.4,156.8" fill="#cfff00" stroke="#3e4c00"/>
<polygon points="315.5,171.2 321.9,168.6 315.6,163.2 309.2,165.9" fill="#86ff00" stroke="#284c00"/>
<polygon points="270.9,160 277.4,156.8 271.1,152.2 264.6,155.4" fill="#deff00" stroke="#434c00"/>
<polygon points="258.1,158.8 264.6,155.4 258.4,151.1 251.8,154.5" fill="#e9ff00" stroke="#464c00"/>
<polygon points="334.6,180 341,177.8 334.6,171.9 328.3,174.2" fill="#44ff00" stroke="#144c00"/>
<polygon points="353.8,190.2 360,188.3 353.6,181.9 347.4,183.9" fill="#00ff0b" stroke="#004c03"/>
<polygon points="245.3,158 251.8,154.5 245.7,150.3 239.1,153.9" fill="#f0ff00" stroke="#484c00"/>
<polygon points="232.5,157.6 239.1,153.9 232.9,150.1 226.3,153.8" fill="#eff900" stroke="#484b00"/>
<polygon points="302.7,168.6 309.2,165.9 302.9,160.7 296.4,163.5" fill="#a0ff00" stroke="#304c00"/>
<polygon points="289.9,166.5 296.4,163.5 290.1,158.5 283.6,161.6" fill="#b6ff00" stroke="#374c00"/>
<polygon points="321.9,176.7 328.3,174.2 321.9,168.6 315.5,171.2" fill="#66ff00" stroke="#1f4c00"/>
<polygon points="341.1,186.1 347.4,183.9 341,177.8 334.6,180" fill="#20ff00" stroke="#0a4c00"/>
<polygon points="277.1,164.7 283.6,161.6 277.4,156.8 270.9,160" fill="#c8ff00" stroke="#3c4c00"/>
<polygon points="264.3,163.3 270.9,160 264.6,155.4 258.1,158.8" fill="#d5ff00" stroke="#404c00"/>
<polygon points="309.1,173.9 315.5,171.2 309.2,165.9 302.7,168.6" fill="#83ff00" stroke="#274c00"/>
<polygon points="251.5,162.2 258.1,158.8 251.8,154.5 245.3,158" fill="#dfff00" stroke="#434c00"/>
<polygon points="238.6,161.6 245.3,158 239.1,153.9 232.5,157.6" fill="#e3fc00" stroke="#444c00"/>
<polygon points="328.3,182.5 334.6,180 328.3,174.2 321.9,176.7" fill="#44ff00" stroke="#144c00"/>
<polygon points="296.3,171.6 302.7,168.6 296.4,163.5 289.9,166.5" fill="#9bff00" stroke="#2e4c00"/>
<polygon points="347.5,192.3 353.8,190.2 347.4,183.9 341.1,186.1" fill="#00ff07" stroke="#004c02"/>
<polygon points="283.4,169.6 289.9,166.5 283.6,161.6 277.1,164.7" fill="#afff00" stroke="#344c00"/>
<polygon points="315.5,179.4 321.9,176.7 315.5,171.2 309.1,173.9" fill="#63ff00" stroke="#1e4c00"/>
<polygon points="270.6,168 277.1,164.7 270.9,160 264.3,163.3" fill="#bfff00" stroke="#394c00"/>
<polygon points="334.7,188.4 341.1,186.1 334.6,180 328.3,182.5" fill="#20ff00" stroke="#0a4c00"/>
<polygon points="257.7,166.7 264.3,163.3 258.1,158.8 251.5,162.2" fill="#cbff00" stroke="#3d4c00"/>
<polygon points="244.9,165.8 251.5,162.2 245.3,158 238.6,161.6" fill="#d4ff00" stroke="#404c00"/>
<polygon points="302.6,176.8 309.1,173.9 302.7,168.6 296.3,171.6" fill="#7eff00" stroke="#264c00"/>
<polygon points="289.8,174.6 296.3,171.6 289.9,166.5 283.4,169.6" fill="#94ff00" stroke="#2c4c00"/>
<polygon points="321.9,185.1 328.3,182.5 321.9,176.7 315.5,179.4" fill="#42ff00" stroke="#144c00"/>
<polygon points="341.1,194.6 347.5,192.3 341.1,186.1 334.7,188.4" fill="#00ff06" stroke="#004c02"/>
<polygon points="276.9,172.8 283.4,169.6 277.1,164.7 270.6,168" fill="#a7ff00" stroke="#324c00"/>
<polygon points="309,182.2 315.5,179.4 309.1,173.9 302.6,176.8" fill="#5fff00" stroke="#1c4c00"/>
<polygon points="264,171.3 270.6,168 264.3,163.3 257.7,166.7" fill="#b5ff00" stroke="#364c00"/>
<polygon points="251.1,170.2 257.7,166.7 251.5,162.2 244.9,165.8" fill="#c0ff00" stroke="#3a4c00"/>
<polygon points="328.3,190.9 334.7,188.4 328.3,182.5 321.9,185.1" fill="#1fff00" stroke="#094c00"/>
<polygon points="296.1,179.8 302.6,176.8 296.3,171.6 289.8,174.6" fill="#78ff00" stroke="#244c00"/>
<polygon points="283.2,177.8 289.8,174.6 283.4,169.6 276.9,172.8" fill="#8dff00" stroke="#2a4c00"/>
<polygon points="315.4,187.8 321.9,185.1 315.5,179.4 309,182.2" fill="#3fff00" stroke="#134c00"/>
<polygon points="270.3,176.1 276.9,172.8 270.6,168 264,171.3" fill="#9eff00" stroke="#2f4c00"/>
<polygon points="334.7,197 341.1,194.6 334.7,188.4 328.3,190.9" fill="#00ff06" stroke="#004c02"/>
<polygon points="257.4,174.8 264,171.3 257.7,166.7 251.1,170.2" fill="#abff00" stroke="#334c00"/>
<polygon points="302.5,185.1 309,182.2 302.6,176.8 296.1,179.8" fill="#5aff00" stroke="#1b4c00"/>
<polygon points="289.6,182.9 296.1,179.8 289.8,174.6 283.2,177.8" fill="#71ff00" stroke="#224c00"/>
<polygon points="321.9,193.6 328.3,190.9 321.9,185.1 315.4,187.8" fill="#1dff00" stroke="#094c00"/>
<polygon points="276.6,181 283.2,177.8 276.9,172.8 270.3,176.1" fill="#84ff00" stroke="#284c00"/>
<polygon points="308.9,190.7 315.4,187.8 309,182.2 302.5,185.1" fill="#3aff00" stroke="#114c00"/>
<polygon points="263.7,179.5 270.3,176.1 264,171.3 257.4,174.8" fill="#94ff00" stroke="#2c4c00"/>
<polygon points="328.3,199.6 334.7,197 328.3,190.9 321.9,193.6" fill="#00ff08" stroke="#004c02"/>
<polygon points="296,188.2 302.5,185.1 296.1,179.8 289.6,182.9" fill="#54ff00" stroke="#194c00"/>
<polygon points="283,186.1 289.6,182.9 283.2,177.8 276.6,181" fill="#69ff00" stroke="#204c00"/>
<polygon points="315.4,196.4 321.9,193.6 315.4,187.8 308.9,190.7" fill="#18ff00" stroke="#074c00"/>
<polygon points="270,184.4 276.6,181 270.3,176.1 263.7,179.5" fill="#7bff00" stroke="#254c00"/>
<polygon points="302.4,193.7 308.9,190.7 302.5,185.1 296,188.2" fill="#34ff00" stroke="#104c00"/>
<polygon points="321.8,202.4 328.3,199.6 321.9,193.6 315.4,196.4" fill="#00ff0d" stroke="#004c04"/>
<polygon points="289.4,191.4 296,188.2 289.6,182.9 283,186.1" fill="#4cff00" stroke="#174c00"/>
<polygon points="276.4,189.4 283,186.1 276.6,181 270,184.4" fill="#60ff00" stroke="#1d4c00"/>
<polygon points="308.9,199.4 315.4,196.4 308.9,190.7 302.4,193.7" fill="#13ff00" stroke="#064c00"/>
<polygon points="295.8,196.8 302.4,193.7 296,188.2 289.4,191.4" fill="#2cff00" stroke="#0d4c00"/>
<polygon points="282.8,194.7 289.4,191.4 283,186.1 276.4,189.4" fill="#43ff00" stroke="#144c00"/>
<polygon points="315.3,205.3 321.8,202.4 315.4,196.4 308.9,199.4" fill="#00ff13" stroke="#004c06"/>
<polygon points="302.3,202.5 308.9,199.4 302.4,193.7 295.8,196.8" fill="#0bff00" stroke="#034c00"/>
<polygon points="289.2,200.1 295.8,196.8 289.4,191.4 282.8,194.7" fill="#24ff00" stroke="#0b4c00"/>
<polygon points="308.8,208.4 315.3,205.3 308.9,199.4 302.3,202.5" fill="#00ff1b" stroke="#004c08"/>
<polygon points="295.7,205.7 302.3,202.5 295.8,196.8 289.2,200.1" fill="#03ff00" stroke="#014c00"/>
<polygon points="302.2,211.5 308.8,208.4 302.3,202.5 295.7,205.7" fill="#00ff26" stroke="#004c0b"/>
</g>
<path d="M150 96.4L154 94.5L158 92.7L162 90.9L166 89.3L170 87.7L174 86.2L178 84.8L182 83.4L186 82.1L190 80.8L194 79.7L198 78.6L202 77.5L206 76.5L210 75.6L214 74.7L218 74L222 73.3L226 72.5L230 71.9L234 71.4L238 70.9L242 70.4L246 70.1L250 69.7L254 69.4L258 69.2L262 69.1L266 69L270 68.9L274 68.9L278 68.9L282 69L286 69.2L290 69.4L294 69.7L298 69.9L302 70.3L306 70.8L310 71.2L314 71.8L318 72.4L322 73.1L326 73.8L330 74.5L334 75.4L338 76.2L342 77.3L346 78.2L350 79.4L354 80.5L358 81.7L362 83L366 84.3L370 85.8L374 87.3L378 88.8L382 90.4L386 92.2L390 93.9L394 96L398 97.8" stroke="#1a1200" stroke-opacity="0.35" stroke-width="1.2" fill="none"/>
<path d="M198 78.7L202 77.6L206 76.6L210 75.7L214 74.8L218 74.1L222 73.4L226 72.6L230 72L234 71.5L238 71L242 70.5L246 70.2L250 69.8L254 69.5L258 69.3L262 69.2L266 69.1L270 69L274 69L278 69L282 69.1L286 69.3L290 69.5L294 69.8L298 70L302 70.4L306 70.9L310 71.3L314 71.9L318 72.5L322 73.2L326 73.9L330 74.6L334 75.5L338 76.3L342 77.4L346 78.3L350 79.5" stroke="#1a1200" stroke-opacity="0.6" stroke-width="1.5" fill="none"/>
<path d="M206 78.7L210 77.8L214 76.9L218 76.2L222 75.5L226 74.7L230 74.1L234 73.6L238 73.1L242 72.6L246 72.3L250 71.9L254 71.6L258 71.4L262 71.3L266 71.2L270 71.1L274 71.1L278 71.1L282 71.2L286 71.4L290 71.6L294 71.9L298 72.1L302 72.5L306 73L310 73.4L314 74L318 74.6L322 75.3L326 76L330 76.7L334 77.6L338 78.4L342 79.5L346 80.4" stroke="#ffeeb0" stroke-opacity="0.75" stroke-width="1.1" stroke-dasharray="1.3 3.6" fill="none"/>
<path d="M222 77.7L226 76.9L230 76.3L234 75.8L238 75.3L242 74.8L246 74.5L250 74.1L254 73.8L258 73.6L262 73.5L266 73.4L270 73.3L274 73.3L278 73.3L282 73.4L286 73.6L290 73.8L294 74.1L298 74.3L302 74.7L306 75.2L310 75.6L314 76.2L318 76.8L322 77.5L326 78.2L330 78.9L334 79.8" stroke="#ffe0a0" stroke-opacity="0.4" stroke-width="0.9" stroke-dasharray="1.1 3.8" stroke-dashoffset="2.4" fill="none"/>
<line x1="303.3" y1="160" x2="303" y2="166" stroke="#3a4a00" stroke-width="0.8"/>
<line x1="194.8" y1="70.4" x2="196" y2="79.4" stroke="#444" stroke-width="0.8"/><ellipse cx="194.8" cy="70.4" rx="4.2" ry="3.6" fill="#e01018" stroke="#a80818" stroke-width="0.6"/>
<line x1="177.9" y1="114.1" x2="178.5" y2="137" stroke="#444" stroke-width="0.8"/><ellipse cx="177.9" cy="114.1" rx="4.2" ry="3.6" fill="#e01018" stroke="#a80818" stroke-width="0.6"/>
<ellipse cx="306" cy="67.7" rx="3.4" ry="2.6" fill="#f4b8c0" stroke="#c88090" stroke-width="0.6"/>
<ellipse cx="303.8" cy="78.8" rx="3.6" ry="3.6" fill="#e01018" stroke="#a80818" stroke-width="0.6"/>
<ellipse cx="304.6" cy="87.3" rx="3.2" ry="2.6" fill="#f8c8d0" stroke="#c88090" stroke-width="0.6"/>
<line x1="425.9" y1="173.8" x2="426.5" y2="180" stroke="#444" stroke-width="0.8"/><ellipse cx="425.9" cy="173.8" rx="3.8" ry="3.4" fill="#e01018" stroke="#a80818" stroke-width="0.6"/>
<ellipse cx="466" cy="161.3" rx="3.6" ry="3.2" fill="#e01018" stroke="#a80818" stroke-width="0.6"/>
<ellipse cx="415.8" cy="107" rx="2.6" ry="1.8" fill="#d8b0c0" stroke="#c88090" stroke-width="0.6"/>
<circle cx="67.9" cy="68.3" r="1.45" fill="#000"/>
<text x="65.2" y="71.7" text-anchor="end" font-family="Liberation Serif, serif" font-weight="bold" font-size="9.6">35.00</text>
<circle cx="72" cy="109.2" r="1.45" fill="#000"/>
<text x="69.3" y="112.6" text-anchor="end" font-family="Liberation Serif, serif" font-weight="bold" font-size="9.6">28.75</text>
<circle cx="75.7" cy="149.4" r="1.45" fill="#000"/>
<text x="73.0" y="152.8" text-anchor="end" font-family="Liberation Serif, serif" font-weight="bold" font-size="9.6">22.50</text>
<circle cx="79.4" cy="189.6" r="1.45" fill="#000"/>
<text x="76.7" y="193.0" text-anchor="end" font-family="Liberation Serif, serif" font-weight="bold" font-size="9.6">16.25</text>
<circle cx="83.2" cy="231.3" r="1.45" fill="#000"/>
<text x="80.5" y="234.7" text-anchor="end" font-family="Liberation Serif, serif" font-weight="bold" font-size="9.6">10.00</text>
<circle cx="87.6" cy="280.7" r="1.45" fill="#000"/>
<circle cx="521.5" cy="282.1" r="1.45" fill="#000"/>
<circle cx="302.5" cy="379.6" r="1.45" fill="#000"/>
<circle cx="87.6" cy="280.7" r="1.45" fill="#000"/>
<text x="84.2" y="294.3" text-anchor="middle" font-family="Liberation Serif, serif" font-weight="bold" font-size="9.6">0.20</text>
<circle cx="141.5" cy="305.5" r="1.45" fill="#000"/>
<text x="138.6" y="320.6" text-anchor="middle" font-family="Liberation Serif, serif" font-weight="bold" font-size="9.6">0.16</text>
<circle cx="194.9" cy="330.2" r="1.45" fill="#000"/>
<text x="191" y="345" text-anchor="middle" font-family="Liberation Serif, serif" font-weight="bold" font-size="9.6">0.13</text>
<circle cx="248.5" cy="354.5" r="1.45" fill="#000"/>
<text x="246" y="368.6" text-anchor="middle" font-family="Liberation Serif, serif" font-weight="bold" font-size="9.6">0.09</text>
<circle cx="302.5" cy="379.6" r="1.45" fill="#000"/>
<text x="290.2" y="389.4" text-anchor="middle" font-family="Liberation Serif, serif" font-weight="bold" font-size="9.6">0.05</text>
<circle cx="302.5" cy="379.6" r="1.45" fill="#000"/>
<text x="317.2" y="389.4" text-anchor="middle" font-family="Liberation Serif, serif" font-weight="bold" font-size="9.6">10.00</text>
<circle cx="356.5" cy="355" r="1.45" fill="#000"/>
<text x="365.9" y="367" text-anchor="middle" font-family="Liberation Serif, serif" font-weight="bold" font-size="9.6">82.50</text>
<circle cx="411.5" cy="330" r="1.45" fill="#000"/>
<text x="422.7" y="344.2" text-anchor="middle" font-family="Liberation Serif, serif" font-weight="bold" font-size="9.6">155.00</text>
<circle cx="466.1" cy="306.4" r="1.45" fill="#000"/>
<text x="475" y="321.5" text-anchor="middle" font-family="Liberation Serif, serif" font-weight="bold" font-size="9.6">227.50</text>
<circle cx="521.5" cy="282.1" r="1.45" fill="#000"/>
<text x="530.5" y="294.9" text-anchor="middle" font-family="Liberation Serif, serif" font-weight="bold" font-size="9.6">300.00</text>
<text transform="translate(20.8,260.8) rotate(-90)" textLength="146" lengthAdjust="spacingAndGlyphs" font-family="Liberation Serif, serif" font-size="16" fill="#111" stroke="#111" stroke-width="0.25">Nanocellulose content</text>
<text transform="translate(40.6,216.5) rotate(-90)" textLength="61" lengthAdjust="spacingAndGlyphs" font-family="Liberation Serif, serif" font-size="16" fill="#111" stroke="#111" stroke-width="0.25">(%, w/w)</text>
<text transform="translate(63.6,322.4) rotate(25.7)" textLength="220.5" lengthAdjust="spacingAndGlyphs" font-family="Liberation Serif, serif" font-size="16" fill="#111" stroke="#111" stroke-width="0.25">Rice straw cellulose concentration</text>
<text transform="translate(157.6,388.8) rotate(25.7)" text-anchor="middle" font-family="Liberation Serif, serif" font-size="16" fill="#111" stroke="#111" stroke-width="0.25">(%, w/v)</text>
<text transform="translate(393.3,398.9) rotate(-25.1)" textLength="149" lengthAdjust="spacingAndGlyphs" font-family="Liberation Serif, serif" font-size="16" fill="#111" stroke="#111" stroke-width="0.25">Cellulase concentration</text>
<text transform="translate(471,382.5) rotate(-25.1)" text-anchor="middle" font-family="Liberation Serif, serif" font-size="16" fill="#111" stroke="#111" stroke-width="0.25">(U/mL)</text>
</svg>
</body></html>
